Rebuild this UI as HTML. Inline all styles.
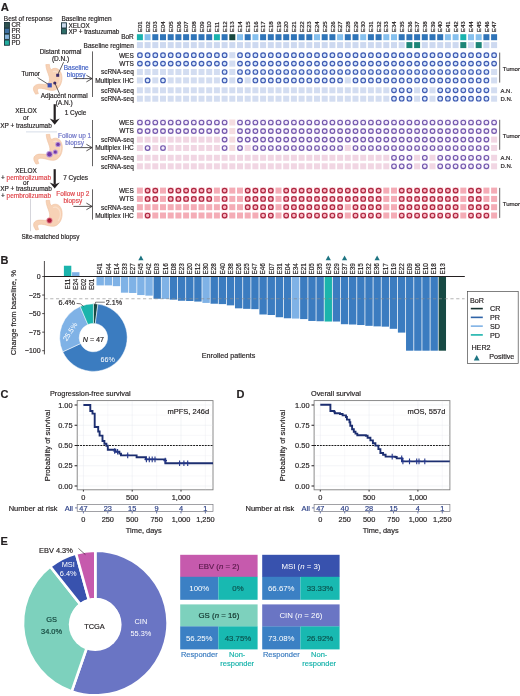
<!DOCTYPE html>
<html lang="en">
<head>
<meta charset="utf-8">
<title>Figure: study design, response, survival and TCGA subtypes</title>
<style>
html,body{margin:0;padding:0;background:#ffffff;}
body{width:520px;height:696px;overflow:hidden;}
svg{display:block;font-family:"Liberation Sans",sans-serif;fill:#231f20;}
svg text{stroke-width:0.18;}
#panelA text,#panelB text,#panelC text,#panelD text,#panelE text{stroke-linejoin:round;}
</style>
</head>
<body>
<svg width="520" height="696" viewBox="0 0 520 696">
<rect x="0" y="0" width="520" height="696" fill="#ffffff"/>
<g id="panelA">
<text x="0.80" y="10.70" font-size="11.3" stroke="#231f20" font-weight="bold">A</text>
<text x="3.80" y="20.60" font-size="6.5" stroke="#231f20">Best of response</text>
<rect x="4.5" y="22.50" width="4.9" height="5.2" fill="#2f524f" stroke="#17333b" stroke-width="0.9"/>
<text x="11.40" y="27.40" font-size="6.4" stroke="#231f20">CR</text>
<rect x="4.5" y="28.35" width="4.9" height="5.2" fill="#3f71a3" stroke="#17333b" stroke-width="0.9"/>
<text x="11.40" y="33.25" font-size="6.4" stroke="#231f20">PR</text>
<rect x="4.5" y="34.20" width="4.9" height="5.2" fill="#85b3dc" stroke="#17333b" stroke-width="0.9"/>
<text x="11.40" y="39.10" font-size="6.4" stroke="#231f20">SD</text>
<rect x="4.5" y="40.05" width="4.9" height="5.2" fill="#22ae9f" stroke="#17333b" stroke-width="0.9"/>
<text x="11.40" y="44.95" font-size="6.4" stroke="#231f20">PD</text>
<text x="61.40" y="20.60" font-size="6.5" stroke="#231f20">Baseline regimen</text>
<rect x="61.5" y="22.80" width="4.9" height="5.2" fill="#c9d8ea" stroke="#17333b" stroke-width="0.9"/>
<text x="68.50" y="27.70" font-size="6.4" stroke="#231f20">XELOX</text>
<rect x="61.5" y="28.65" width="4.9" height="5.2" fill="#2f6f69" stroke="#17333b" stroke-width="0.9"/>
<text x="68.50" y="33.55" font-size="6.4" stroke="#231f20">XP + trastuzumab</text>
<text x="142.10" y="32.20" font-size="6.15" stroke="#231f20" transform="rotate(-90 142.10 32.20)">E01</text>
<text x="149.80" y="32.20" font-size="6.15" stroke="#231f20" transform="rotate(-90 149.80 32.20)">E02</text>
<text x="157.50" y="32.20" font-size="6.15" stroke="#231f20" transform="rotate(-90 157.50 32.20)">E03</text>
<text x="165.20" y="32.20" font-size="6.15" stroke="#231f20" transform="rotate(-90 165.20 32.20)">E04</text>
<text x="172.90" y="32.20" font-size="6.15" stroke="#231f20" transform="rotate(-90 172.90 32.20)">E05</text>
<text x="180.60" y="32.20" font-size="6.15" stroke="#231f20" transform="rotate(-90 180.60 32.20)">E06</text>
<text x="188.30" y="32.20" font-size="6.15" stroke="#231f20" transform="rotate(-90 188.30 32.20)">E07</text>
<text x="196.00" y="32.20" font-size="6.15" stroke="#231f20" transform="rotate(-90 196.00 32.20)">E08</text>
<text x="203.70" y="32.20" font-size="6.15" stroke="#231f20" transform="rotate(-90 203.70 32.20)">E09</text>
<text x="211.40" y="32.20" font-size="6.15" stroke="#231f20" transform="rotate(-90 211.40 32.20)">E10</text>
<text x="219.10" y="32.20" font-size="6.15" stroke="#231f20" transform="rotate(-90 219.10 32.20)">E11</text>
<text x="226.80" y="32.20" font-size="6.15" stroke="#231f20" transform="rotate(-90 226.80 32.20)">E12</text>
<text x="234.50" y="32.20" font-size="6.15" stroke="#231f20" transform="rotate(-90 234.50 32.20)">E13</text>
<text x="242.20" y="32.20" font-size="6.15" stroke="#231f20" transform="rotate(-90 242.20 32.20)">E14</text>
<text x="249.90" y="32.20" font-size="6.15" stroke="#231f20" transform="rotate(-90 249.90 32.20)">E15</text>
<text x="257.60" y="32.20" font-size="6.15" stroke="#231f20" transform="rotate(-90 257.60 32.20)">E16</text>
<text x="265.30" y="32.20" font-size="6.15" stroke="#231f20" transform="rotate(-90 265.30 32.20)">E17</text>
<text x="273.00" y="32.20" font-size="6.15" stroke="#231f20" transform="rotate(-90 273.00 32.20)">E18</text>
<text x="280.70" y="32.20" font-size="6.15" stroke="#231f20" transform="rotate(-90 280.70 32.20)">E19</text>
<text x="288.40" y="32.20" font-size="6.15" stroke="#231f20" transform="rotate(-90 288.40 32.20)">E20</text>
<text x="296.10" y="32.20" font-size="6.15" stroke="#231f20" transform="rotate(-90 296.10 32.20)">E21</text>
<text x="303.80" y="32.20" font-size="6.15" stroke="#231f20" transform="rotate(-90 303.80 32.20)">E22</text>
<text x="311.50" y="32.20" font-size="6.15" stroke="#231f20" transform="rotate(-90 311.50 32.20)">E23</text>
<text x="319.20" y="32.20" font-size="6.15" stroke="#231f20" transform="rotate(-90 319.20 32.20)">E24</text>
<text x="326.90" y="32.20" font-size="6.15" stroke="#231f20" transform="rotate(-90 326.90 32.20)">E25</text>
<text x="334.60" y="32.20" font-size="6.15" stroke="#231f20" transform="rotate(-90 334.60 32.20)">E26</text>
<text x="342.30" y="32.20" font-size="6.15" stroke="#231f20" transform="rotate(-90 342.30 32.20)">E27</text>
<text x="350.00" y="32.20" font-size="6.15" stroke="#231f20" transform="rotate(-90 350.00 32.20)">E28</text>
<text x="357.70" y="32.20" font-size="6.15" stroke="#231f20" transform="rotate(-90 357.70 32.20)">E29</text>
<text x="365.40" y="32.20" font-size="6.15" stroke="#231f20" transform="rotate(-90 365.40 32.20)">E30</text>
<text x="373.10" y="32.20" font-size="6.15" stroke="#231f20" transform="rotate(-90 373.10 32.20)">E31</text>
<text x="380.80" y="32.20" font-size="6.15" stroke="#231f20" transform="rotate(-90 380.80 32.20)">E32</text>
<text x="388.50" y="32.20" font-size="6.15" stroke="#231f20" transform="rotate(-90 388.50 32.20)">E33</text>
<text x="396.20" y="32.20" font-size="6.15" stroke="#231f20" transform="rotate(-90 396.20 32.20)">E34</text>
<text x="403.90" y="32.20" font-size="6.15" stroke="#231f20" transform="rotate(-90 403.90 32.20)">E35</text>
<text x="411.60" y="32.20" font-size="6.15" stroke="#231f20" transform="rotate(-90 411.60 32.20)">E36</text>
<text x="419.30" y="32.20" font-size="6.15" stroke="#231f20" transform="rotate(-90 419.30 32.20)">E37</text>
<text x="427.00" y="32.20" font-size="6.15" stroke="#231f20" transform="rotate(-90 427.00 32.20)">E38</text>
<text x="434.70" y="32.20" font-size="6.15" stroke="#231f20" transform="rotate(-90 434.70 32.20)">E39</text>
<text x="442.40" y="32.20" font-size="6.15" stroke="#231f20" transform="rotate(-90 442.40 32.20)">E40</text>
<text x="450.10" y="32.20" font-size="6.15" stroke="#231f20" transform="rotate(-90 450.10 32.20)">E41</text>
<text x="457.80" y="32.20" font-size="6.15" stroke="#231f20" transform="rotate(-90 457.80 32.20)">E42</text>
<text x="465.50" y="32.20" font-size="6.15" stroke="#231f20" transform="rotate(-90 465.50 32.20)">E43</text>
<text x="473.20" y="32.20" font-size="6.15" stroke="#231f20" transform="rotate(-90 473.20 32.20)">E44</text>
<text x="480.90" y="32.20" font-size="6.15" stroke="#231f20" transform="rotate(-90 480.90 32.20)">E45</text>
<text x="488.60" y="32.20" font-size="6.15" stroke="#231f20" transform="rotate(-90 488.60 32.20)">E46</text>
<text x="496.30" y="32.20" font-size="6.15" stroke="#231f20" transform="rotate(-90 496.30 32.20)">E47</text>
<rect x="136.90" y="34.2" width="6.0" height="6.0" fill="#19b3ae"/>
<rect x="136.90" y="42.1" width="6.0" height="6.0" fill="#cdd9f0"/>
<rect x="144.60" y="34.2" width="6.0" height="6.0" fill="#86c0ee"/>
<rect x="144.60" y="42.1" width="6.0" height="6.0" fill="#cdd9f0"/>
<rect x="152.30" y="34.2" width="6.0" height="6.0" fill="#2f74b8"/>
<rect x="152.30" y="42.1" width="6.0" height="6.0" fill="#cdd9f0"/>
<rect x="160.00" y="34.2" width="6.0" height="6.0" fill="#2f74b8"/>
<rect x="160.00" y="42.1" width="6.0" height="6.0" fill="#cdd9f0"/>
<rect x="167.70" y="34.2" width="6.0" height="6.0" fill="#2f74b8"/>
<rect x="167.70" y="42.1" width="6.0" height="6.0" fill="#cdd9f0"/>
<rect x="175.40" y="34.2" width="6.0" height="6.0" fill="#2f74b8"/>
<rect x="175.40" y="42.1" width="6.0" height="6.0" fill="#cdd9f0"/>
<rect x="183.10" y="34.2" width="6.0" height="6.0" fill="#2f74b8"/>
<rect x="183.10" y="42.1" width="6.0" height="6.0" fill="#cdd9f0"/>
<rect x="190.80" y="34.2" width="6.0" height="6.0" fill="#2f74b8"/>
<rect x="190.80" y="42.1" width="6.0" height="6.0" fill="#cdd9f0"/>
<rect x="198.50" y="34.2" width="6.0" height="6.0" fill="#2f74b8"/>
<rect x="198.50" y="42.1" width="6.0" height="6.0" fill="#cdd9f0"/>
<rect x="206.20" y="34.2" width="6.0" height="6.0" fill="#2f74b8"/>
<rect x="206.20" y="42.1" width="6.0" height="6.0" fill="#cdd9f0"/>
<rect x="213.90" y="34.2" width="6.0" height="6.0" fill="#19b3ae"/>
<rect x="213.90" y="42.1" width="6.0" height="6.0" fill="#cdd9f0"/>
<rect x="221.60" y="34.2" width="6.0" height="6.0" fill="#2f74b8"/>
<rect x="221.60" y="42.1" width="6.0" height="6.0" fill="#cdd9f0"/>
<rect x="229.30" y="34.2" width="6.0" height="6.0" fill="#16473f"/>
<rect x="229.30" y="42.1" width="6.0" height="6.0" fill="#cdd9f0"/>
<rect x="237.00" y="34.2" width="6.0" height="6.0" fill="#86c0ee"/>
<rect x="237.00" y="42.1" width="6.0" height="6.0" fill="#cdd9f0"/>
<rect x="244.70" y="34.2" width="6.0" height="6.0" fill="#2f74b8"/>
<rect x="244.70" y="42.1" width="6.0" height="6.0" fill="#cdd9f0"/>
<rect x="252.40" y="34.2" width="6.0" height="6.0" fill="#86c0ee"/>
<rect x="252.40" y="42.1" width="6.0" height="6.0" fill="#cdd9f0"/>
<rect x="260.10" y="34.2" width="6.0" height="6.0" fill="#2f74b8"/>
<rect x="260.10" y="42.1" width="6.0" height="6.0" fill="#cdd9f0"/>
<rect x="267.80" y="34.2" width="6.0" height="6.0" fill="#2f74b8"/>
<rect x="267.80" y="42.1" width="6.0" height="6.0" fill="#cdd9f0"/>
<rect x="275.50" y="34.2" width="6.0" height="6.0" fill="#2f74b8"/>
<rect x="275.50" y="42.1" width="6.0" height="6.0" fill="#cdd9f0"/>
<rect x="283.20" y="34.2" width="6.0" height="6.0" fill="#2f74b8"/>
<rect x="283.20" y="42.1" width="6.0" height="6.0" fill="#cdd9f0"/>
<rect x="290.90" y="34.2" width="6.0" height="6.0" fill="#2f74b8"/>
<rect x="290.90" y="42.1" width="6.0" height="6.0" fill="#cdd9f0"/>
<rect x="298.60" y="34.2" width="6.0" height="6.0" fill="#2f74b8"/>
<rect x="298.60" y="42.1" width="6.0" height="6.0" fill="#cdd9f0"/>
<rect x="306.30" y="34.2" width="6.0" height="6.0" fill="#2f74b8"/>
<rect x="306.30" y="42.1" width="6.0" height="6.0" fill="#cdd9f0"/>
<rect x="314.00" y="34.2" width="6.0" height="6.0" fill="#86c0ee"/>
<rect x="314.00" y="42.1" width="6.0" height="6.0" fill="#cdd9f0"/>
<rect x="321.70" y="34.2" width="6.0" height="6.0" fill="#2f74b8"/>
<rect x="321.70" y="42.1" width="6.0" height="6.0" fill="#cdd9f0"/>
<rect x="329.40" y="34.2" width="6.0" height="6.0" fill="#2f74b8"/>
<rect x="329.40" y="42.1" width="6.0" height="6.0" fill="#cdd9f0"/>
<rect x="337.10" y="34.2" width="6.0" height="6.0" fill="#86c0ee"/>
<rect x="337.10" y="42.1" width="6.0" height="6.0" fill="#cdd9f0"/>
<rect x="344.80" y="34.2" width="6.0" height="6.0" fill="#2f74b8"/>
<rect x="344.80" y="42.1" width="6.0" height="6.0" fill="#cdd9f0"/>
<rect x="352.50" y="34.2" width="6.0" height="6.0" fill="#2f74b8"/>
<rect x="352.50" y="42.1" width="6.0" height="6.0" fill="#cdd9f0"/>
<rect x="360.20" y="34.2" width="6.0" height="6.0" fill="#86c0ee"/>
<rect x="360.20" y="42.1" width="6.0" height="6.0" fill="#cdd9f0"/>
<rect x="367.90" y="34.2" width="6.0" height="6.0" fill="#2f74b8"/>
<rect x="367.90" y="42.1" width="6.0" height="6.0" fill="#cdd9f0"/>
<rect x="375.60" y="34.2" width="6.0" height="6.0" fill="#2f74b8"/>
<rect x="375.60" y="42.1" width="6.0" height="6.0" fill="#cdd9f0"/>
<rect x="383.30" y="34.2" width="6.0" height="6.0" fill="#86c0ee"/>
<rect x="383.30" y="42.1" width="6.0" height="6.0" fill="#cdd9f0"/>
<rect x="391.00" y="34.2" width="6.0" height="6.0" fill="#86c0ee"/>
<rect x="391.00" y="42.1" width="6.0" height="6.0" fill="#cdd9f0"/>
<rect x="398.70" y="34.2" width="6.0" height="6.0" fill="#2f74b8"/>
<rect x="398.70" y="42.1" width="6.0" height="6.0" fill="#cdd9f0"/>
<rect x="406.40" y="34.2" width="6.0" height="6.0" fill="#2f74b8"/>
<rect x="406.40" y="42.1" width="6.0" height="6.0" fill="#1d8577"/>
<rect x="414.10" y="34.2" width="6.0" height="6.0" fill="#2f74b8"/>
<rect x="414.10" y="42.1" width="6.0" height="6.0" fill="#1d8577"/>
<rect x="421.80" y="34.2" width="6.0" height="6.0" fill="#2f74b8"/>
<rect x="421.80" y="42.1" width="6.0" height="6.0" fill="#cdd9f0"/>
<rect x="429.50" y="34.2" width="6.0" height="6.0" fill="#2f74b8"/>
<rect x="429.50" y="42.1" width="6.0" height="6.0" fill="#cdd9f0"/>
<rect x="437.20" y="34.2" width="6.0" height="6.0" fill="#2f74b8"/>
<rect x="437.20" y="42.1" width="6.0" height="6.0" fill="#cdd9f0"/>
<rect x="444.90" y="34.2" width="6.0" height="6.0" fill="#86c0ee"/>
<rect x="444.90" y="42.1" width="6.0" height="6.0" fill="#cdd9f0"/>
<rect x="452.60" y="34.2" width="6.0" height="6.0" fill="#86c0ee"/>
<rect x="452.60" y="42.1" width="6.0" height="6.0" fill="#cdd9f0"/>
<rect x="460.30" y="34.2" width="6.0" height="6.0" fill="#19b3ae"/>
<rect x="460.30" y="42.1" width="6.0" height="6.0" fill="#1d8577"/>
<rect x="468.00" y="34.2" width="6.0" height="6.0" fill="#86c0ee"/>
<rect x="468.00" y="42.1" width="6.0" height="6.0" fill="#cdd9f0"/>
<rect x="475.70" y="34.2" width="6.0" height="6.0" fill="#86c0ee"/>
<rect x="475.70" y="42.1" width="6.0" height="6.0" fill="#1d8577"/>
<rect x="483.40" y="34.2" width="6.0" height="6.0" fill="#2f74b8"/>
<rect x="483.40" y="42.1" width="6.0" height="6.0" fill="#cdd9f0"/>
<rect x="491.10" y="34.2" width="6.0" height="6.0" fill="#2f74b8"/>
<rect x="491.10" y="42.1" width="6.0" height="6.0" fill="#cdd9f0"/>
<text x="133.80" y="39.00" font-size="6.5" text-anchor="end" stroke="#231f20">BoR</text>
<text x="133.80" y="47.60" font-size="6.5" text-anchor="end" stroke="#231f20">Baseline regimen</text>
<rect x="136.90" y="52.20" width="6.0" height="6.0" fill="#eef3fc"/>
<circle cx="139.90" cy="55.20" r="2.3" fill="#d6e6fc" stroke="#405cb2" stroke-width="1.15"/>
<rect x="144.60" y="52.20" width="6.0" height="6.0" fill="#eef3fc"/>
<circle cx="147.60" cy="55.20" r="2.3" fill="#d6e6fc" stroke="#405cb2" stroke-width="1.15"/>
<rect x="152.30" y="52.20" width="6.0" height="6.0" fill="#eef3fc"/>
<circle cx="155.30" cy="55.20" r="2.3" fill="#d6e6fc" stroke="#405cb2" stroke-width="1.15"/>
<rect x="160.00" y="52.20" width="6.0" height="6.0" fill="#eef3fc"/>
<circle cx="163.00" cy="55.20" r="2.3" fill="#d6e6fc" stroke="#405cb2" stroke-width="1.15"/>
<rect x="167.70" y="52.20" width="6.0" height="6.0" fill="#eef3fc"/>
<circle cx="170.70" cy="55.20" r="2.3" fill="#d6e6fc" stroke="#405cb2" stroke-width="1.15"/>
<rect x="175.40" y="52.20" width="6.0" height="6.0" fill="#eef3fc"/>
<circle cx="178.40" cy="55.20" r="2.3" fill="#d6e6fc" stroke="#405cb2" stroke-width="1.15"/>
<rect x="183.10" y="52.20" width="6.0" height="6.0" fill="#eef3fc"/>
<circle cx="186.10" cy="55.20" r="2.3" fill="#d6e6fc" stroke="#405cb2" stroke-width="1.15"/>
<rect x="190.80" y="52.20" width="6.0" height="6.0" fill="#eef3fc"/>
<circle cx="193.80" cy="55.20" r="2.3" fill="#d6e6fc" stroke="#405cb2" stroke-width="1.15"/>
<rect x="198.50" y="52.20" width="6.0" height="6.0" fill="#eef3fc"/>
<circle cx="201.50" cy="55.20" r="2.3" fill="#d6e6fc" stroke="#405cb2" stroke-width="1.15"/>
<rect x="206.20" y="52.20" width="6.0" height="6.0" fill="#eef3fc"/>
<circle cx="209.20" cy="55.20" r="2.3" fill="#d6e6fc" stroke="#405cb2" stroke-width="1.15"/>
<rect x="213.90" y="52.20" width="6.0" height="6.0" fill="#eef3fc"/>
<circle cx="216.90" cy="55.20" r="2.3" fill="#d6e6fc" stroke="#405cb2" stroke-width="1.15"/>
<rect x="221.60" y="52.20" width="6.0" height="6.0" fill="#eef3fc"/>
<circle cx="224.60" cy="55.20" r="2.3" fill="#d6e6fc" stroke="#405cb2" stroke-width="1.15"/>
<rect x="229.30" y="52.20" width="6.0" height="6.0" fill="#d3ddf1"/>
<rect x="237.00" y="52.20" width="6.0" height="6.0" fill="#eef3fc"/>
<circle cx="240.00" cy="55.20" r="2.3" fill="#d6e6fc" stroke="#405cb2" stroke-width="1.15"/>
<rect x="244.70" y="52.20" width="6.0" height="6.0" fill="#eef3fc"/>
<circle cx="247.70" cy="55.20" r="2.3" fill="#d6e6fc" stroke="#405cb2" stroke-width="1.15"/>
<rect x="252.40" y="52.20" width="6.0" height="6.0" fill="#eef3fc"/>
<circle cx="255.40" cy="55.20" r="2.3" fill="#d6e6fc" stroke="#405cb2" stroke-width="1.15"/>
<rect x="260.10" y="52.20" width="6.0" height="6.0" fill="#eef3fc"/>
<circle cx="263.10" cy="55.20" r="2.3" fill="#d6e6fc" stroke="#405cb2" stroke-width="1.15"/>
<rect x="267.80" y="52.20" width="6.0" height="6.0" fill="#eef3fc"/>
<circle cx="270.80" cy="55.20" r="2.3" fill="#d6e6fc" stroke="#405cb2" stroke-width="1.15"/>
<rect x="275.50" y="52.20" width="6.0" height="6.0" fill="#eef3fc"/>
<circle cx="278.50" cy="55.20" r="2.3" fill="#d6e6fc" stroke="#405cb2" stroke-width="1.15"/>
<rect x="283.20" y="52.20" width="6.0" height="6.0" fill="#eef3fc"/>
<circle cx="286.20" cy="55.20" r="2.3" fill="#d6e6fc" stroke="#405cb2" stroke-width="1.15"/>
<rect x="290.90" y="52.20" width="6.0" height="6.0" fill="#eef3fc"/>
<circle cx="293.90" cy="55.20" r="2.3" fill="#d6e6fc" stroke="#405cb2" stroke-width="1.15"/>
<rect x="298.60" y="52.20" width="6.0" height="6.0" fill="#eef3fc"/>
<circle cx="301.60" cy="55.20" r="2.3" fill="#d6e6fc" stroke="#405cb2" stroke-width="1.15"/>
<rect x="306.30" y="52.20" width="6.0" height="6.0" fill="#eef3fc"/>
<circle cx="309.30" cy="55.20" r="2.3" fill="#d6e6fc" stroke="#405cb2" stroke-width="1.15"/>
<rect x="314.00" y="52.20" width="6.0" height="6.0" fill="#eef3fc"/>
<circle cx="317.00" cy="55.20" r="2.3" fill="#d6e6fc" stroke="#405cb2" stroke-width="1.15"/>
<rect x="321.70" y="52.20" width="6.0" height="6.0" fill="#eef3fc"/>
<circle cx="324.70" cy="55.20" r="2.3" fill="#d6e6fc" stroke="#405cb2" stroke-width="1.15"/>
<rect x="329.40" y="52.20" width="6.0" height="6.0" fill="#eef3fc"/>
<circle cx="332.40" cy="55.20" r="2.3" fill="#d6e6fc" stroke="#405cb2" stroke-width="1.15"/>
<rect x="337.10" y="52.20" width="6.0" height="6.0" fill="#eef3fc"/>
<circle cx="340.10" cy="55.20" r="2.3" fill="#d6e6fc" stroke="#405cb2" stroke-width="1.15"/>
<rect x="344.80" y="52.20" width="6.0" height="6.0" fill="#eef3fc"/>
<circle cx="347.80" cy="55.20" r="2.3" fill="#d6e6fc" stroke="#405cb2" stroke-width="1.15"/>
<rect x="352.50" y="52.20" width="6.0" height="6.0" fill="#eef3fc"/>
<circle cx="355.50" cy="55.20" r="2.3" fill="#d6e6fc" stroke="#405cb2" stroke-width="1.15"/>
<rect x="360.20" y="52.20" width="6.0" height="6.0" fill="#eef3fc"/>
<circle cx="363.20" cy="55.20" r="2.3" fill="#d6e6fc" stroke="#405cb2" stroke-width="1.15"/>
<rect x="367.90" y="52.20" width="6.0" height="6.0" fill="#eef3fc"/>
<circle cx="370.90" cy="55.20" r="2.3" fill="#d6e6fc" stroke="#405cb2" stroke-width="1.15"/>
<rect x="375.60" y="52.20" width="6.0" height="6.0" fill="#eef3fc"/>
<circle cx="378.60" cy="55.20" r="2.3" fill="#d6e6fc" stroke="#405cb2" stroke-width="1.15"/>
<rect x="383.30" y="52.20" width="6.0" height="6.0" fill="#eef3fc"/>
<circle cx="386.30" cy="55.20" r="2.3" fill="#d6e6fc" stroke="#405cb2" stroke-width="1.15"/>
<rect x="391.00" y="52.20" width="6.0" height="6.0" fill="#eef3fc"/>
<circle cx="394.00" cy="55.20" r="2.3" fill="#d6e6fc" stroke="#405cb2" stroke-width="1.15"/>
<rect x="398.70" y="52.20" width="6.0" height="6.0" fill="#eef3fc"/>
<circle cx="401.70" cy="55.20" r="2.3" fill="#d6e6fc" stroke="#405cb2" stroke-width="1.15"/>
<rect x="406.40" y="52.20" width="6.0" height="6.0" fill="#eef3fc"/>
<circle cx="409.40" cy="55.20" r="2.3" fill="#d6e6fc" stroke="#405cb2" stroke-width="1.15"/>
<rect x="414.10" y="52.20" width="6.0" height="6.0" fill="#eef3fc"/>
<circle cx="417.10" cy="55.20" r="2.3" fill="#d6e6fc" stroke="#405cb2" stroke-width="1.15"/>
<rect x="421.80" y="52.20" width="6.0" height="6.0" fill="#eef3fc"/>
<circle cx="424.80" cy="55.20" r="2.3" fill="#d6e6fc" stroke="#405cb2" stroke-width="1.15"/>
<rect x="429.50" y="52.20" width="6.0" height="6.0" fill="#eef3fc"/>
<circle cx="432.50" cy="55.20" r="2.3" fill="#d6e6fc" stroke="#405cb2" stroke-width="1.15"/>
<rect x="437.20" y="52.20" width="6.0" height="6.0" fill="#eef3fc"/>
<circle cx="440.20" cy="55.20" r="2.3" fill="#d6e6fc" stroke="#405cb2" stroke-width="1.15"/>
<rect x="444.90" y="52.20" width="6.0" height="6.0" fill="#eef3fc"/>
<circle cx="447.90" cy="55.20" r="2.3" fill="#d6e6fc" stroke="#405cb2" stroke-width="1.15"/>
<rect x="452.60" y="52.20" width="6.0" height="6.0" fill="#eef3fc"/>
<circle cx="455.60" cy="55.20" r="2.3" fill="#d6e6fc" stroke="#405cb2" stroke-width="1.15"/>
<rect x="460.30" y="52.20" width="6.0" height="6.0" fill="#eef3fc"/>
<circle cx="463.30" cy="55.20" r="2.3" fill="#d6e6fc" stroke="#405cb2" stroke-width="1.15"/>
<rect x="468.00" y="52.20" width="6.0" height="6.0" fill="#eef3fc"/>
<circle cx="471.00" cy="55.20" r="2.3" fill="#d6e6fc" stroke="#405cb2" stroke-width="1.15"/>
<rect x="475.70" y="52.20" width="6.0" height="6.0" fill="#eef3fc"/>
<circle cx="478.70" cy="55.20" r="2.3" fill="#d6e6fc" stroke="#405cb2" stroke-width="1.15"/>
<rect x="483.40" y="52.20" width="6.0" height="6.0" fill="#eef3fc"/>
<circle cx="486.40" cy="55.20" r="2.3" fill="#d6e6fc" stroke="#405cb2" stroke-width="1.15"/>
<rect x="491.10" y="52.20" width="6.0" height="6.0" fill="#eef3fc"/>
<circle cx="494.10" cy="55.20" r="2.3" fill="#d6e6fc" stroke="#405cb2" stroke-width="1.15"/>
<text x="133.80" y="57.50" font-size="6.5" text-anchor="end" stroke="#231f20">WES</text>
<rect x="136.90" y="60.60" width="6.0" height="6.0" fill="#eef3fc"/>
<circle cx="139.90" cy="63.60" r="2.3" fill="#d6e6fc" stroke="#405cb2" stroke-width="1.15"/>
<rect x="144.60" y="60.60" width="6.0" height="6.0" fill="#eef3fc"/>
<circle cx="147.60" cy="63.60" r="2.3" fill="#d6e6fc" stroke="#405cb2" stroke-width="1.15"/>
<rect x="152.30" y="60.60" width="6.0" height="6.0" fill="#eef3fc"/>
<circle cx="155.30" cy="63.60" r="2.3" fill="#d6e6fc" stroke="#405cb2" stroke-width="1.15"/>
<rect x="160.00" y="60.60" width="6.0" height="6.0" fill="#eef3fc"/>
<circle cx="163.00" cy="63.60" r="2.3" fill="#d6e6fc" stroke="#405cb2" stroke-width="1.15"/>
<rect x="167.70" y="60.60" width="6.0" height="6.0" fill="#eef3fc"/>
<circle cx="170.70" cy="63.60" r="2.3" fill="#d6e6fc" stroke="#405cb2" stroke-width="1.15"/>
<rect x="175.40" y="60.60" width="6.0" height="6.0" fill="#eef3fc"/>
<circle cx="178.40" cy="63.60" r="2.3" fill="#d6e6fc" stroke="#405cb2" stroke-width="1.15"/>
<rect x="183.10" y="60.60" width="6.0" height="6.0" fill="#eef3fc"/>
<circle cx="186.10" cy="63.60" r="2.3" fill="#d6e6fc" stroke="#405cb2" stroke-width="1.15"/>
<rect x="190.80" y="60.60" width="6.0" height="6.0" fill="#eef3fc"/>
<circle cx="193.80" cy="63.60" r="2.3" fill="#d6e6fc" stroke="#405cb2" stroke-width="1.15"/>
<rect x="198.50" y="60.60" width="6.0" height="6.0" fill="#eef3fc"/>
<circle cx="201.50" cy="63.60" r="2.3" fill="#d6e6fc" stroke="#405cb2" stroke-width="1.15"/>
<rect x="206.20" y="60.60" width="6.0" height="6.0" fill="#eef3fc"/>
<circle cx="209.20" cy="63.60" r="2.3" fill="#d6e6fc" stroke="#405cb2" stroke-width="1.15"/>
<rect x="213.90" y="60.60" width="6.0" height="6.0" fill="#eef3fc"/>
<circle cx="216.90" cy="63.60" r="2.3" fill="#d6e6fc" stroke="#405cb2" stroke-width="1.15"/>
<rect x="221.60" y="60.60" width="6.0" height="6.0" fill="#eef3fc"/>
<circle cx="224.60" cy="63.60" r="2.3" fill="#d6e6fc" stroke="#405cb2" stroke-width="1.15"/>
<rect x="229.30" y="60.60" width="6.0" height="6.0" fill="#d3ddf1"/>
<rect x="237.00" y="60.60" width="6.0" height="6.0" fill="#eef3fc"/>
<circle cx="240.00" cy="63.60" r="2.3" fill="#d6e6fc" stroke="#405cb2" stroke-width="1.15"/>
<rect x="244.70" y="60.60" width="6.0" height="6.0" fill="#eef3fc"/>
<circle cx="247.70" cy="63.60" r="2.3" fill="#d6e6fc" stroke="#405cb2" stroke-width="1.15"/>
<rect x="252.40" y="60.60" width="6.0" height="6.0" fill="#eef3fc"/>
<circle cx="255.40" cy="63.60" r="2.3" fill="#d6e6fc" stroke="#405cb2" stroke-width="1.15"/>
<rect x="260.10" y="60.60" width="6.0" height="6.0" fill="#eef3fc"/>
<circle cx="263.10" cy="63.60" r="2.3" fill="#d6e6fc" stroke="#405cb2" stroke-width="1.15"/>
<rect x="267.80" y="60.60" width="6.0" height="6.0" fill="#eef3fc"/>
<circle cx="270.80" cy="63.60" r="2.3" fill="#d6e6fc" stroke="#405cb2" stroke-width="1.15"/>
<rect x="275.50" y="60.60" width="6.0" height="6.0" fill="#eef3fc"/>
<circle cx="278.50" cy="63.60" r="2.3" fill="#d6e6fc" stroke="#405cb2" stroke-width="1.15"/>
<rect x="283.20" y="60.60" width="6.0" height="6.0" fill="#eef3fc"/>
<circle cx="286.20" cy="63.60" r="2.3" fill="#d6e6fc" stroke="#405cb2" stroke-width="1.15"/>
<rect x="290.90" y="60.60" width="6.0" height="6.0" fill="#eef3fc"/>
<circle cx="293.90" cy="63.60" r="2.3" fill="#d6e6fc" stroke="#405cb2" stroke-width="1.15"/>
<rect x="298.60" y="60.60" width="6.0" height="6.0" fill="#eef3fc"/>
<circle cx="301.60" cy="63.60" r="2.3" fill="#d6e6fc" stroke="#405cb2" stroke-width="1.15"/>
<rect x="306.30" y="60.60" width="6.0" height="6.0" fill="#eef3fc"/>
<circle cx="309.30" cy="63.60" r="2.3" fill="#d6e6fc" stroke="#405cb2" stroke-width="1.15"/>
<rect x="314.00" y="60.60" width="6.0" height="6.0" fill="#eef3fc"/>
<circle cx="317.00" cy="63.60" r="2.3" fill="#d6e6fc" stroke="#405cb2" stroke-width="1.15"/>
<rect x="321.70" y="60.60" width="6.0" height="6.0" fill="#eef3fc"/>
<circle cx="324.70" cy="63.60" r="2.3" fill="#d6e6fc" stroke="#405cb2" stroke-width="1.15"/>
<rect x="329.40" y="60.60" width="6.0" height="6.0" fill="#eef3fc"/>
<circle cx="332.40" cy="63.60" r="2.3" fill="#d6e6fc" stroke="#405cb2" stroke-width="1.15"/>
<rect x="337.10" y="60.60" width="6.0" height="6.0" fill="#eef3fc"/>
<circle cx="340.10" cy="63.60" r="2.3" fill="#d6e6fc" stroke="#405cb2" stroke-width="1.15"/>
<rect x="344.80" y="60.60" width="6.0" height="6.0" fill="#eef3fc"/>
<circle cx="347.80" cy="63.60" r="2.3" fill="#d6e6fc" stroke="#405cb2" stroke-width="1.15"/>
<rect x="352.50" y="60.60" width="6.0" height="6.0" fill="#eef3fc"/>
<circle cx="355.50" cy="63.60" r="2.3" fill="#d6e6fc" stroke="#405cb2" stroke-width="1.15"/>
<rect x="360.20" y="60.60" width="6.0" height="6.0" fill="#eef3fc"/>
<circle cx="363.20" cy="63.60" r="2.3" fill="#d6e6fc" stroke="#405cb2" stroke-width="1.15"/>
<rect x="367.90" y="60.60" width="6.0" height="6.0" fill="#eef3fc"/>
<circle cx="370.90" cy="63.60" r="2.3" fill="#d6e6fc" stroke="#405cb2" stroke-width="1.15"/>
<rect x="375.60" y="60.60" width="6.0" height="6.0" fill="#eef3fc"/>
<circle cx="378.60" cy="63.60" r="2.3" fill="#d6e6fc" stroke="#405cb2" stroke-width="1.15"/>
<rect x="383.30" y="60.60" width="6.0" height="6.0" fill="#eef3fc"/>
<circle cx="386.30" cy="63.60" r="2.3" fill="#d6e6fc" stroke="#405cb2" stroke-width="1.15"/>
<rect x="391.00" y="60.60" width="6.0" height="6.0" fill="#eef3fc"/>
<circle cx="394.00" cy="63.60" r="2.3" fill="#d6e6fc" stroke="#405cb2" stroke-width="1.15"/>
<rect x="398.70" y="60.60" width="6.0" height="6.0" fill="#eef3fc"/>
<circle cx="401.70" cy="63.60" r="2.3" fill="#d6e6fc" stroke="#405cb2" stroke-width="1.15"/>
<rect x="406.40" y="60.60" width="6.0" height="6.0" fill="#eef3fc"/>
<circle cx="409.40" cy="63.60" r="2.3" fill="#d6e6fc" stroke="#405cb2" stroke-width="1.15"/>
<rect x="414.10" y="60.60" width="6.0" height="6.0" fill="#eef3fc"/>
<circle cx="417.10" cy="63.60" r="2.3" fill="#d6e6fc" stroke="#405cb2" stroke-width="1.15"/>
<rect x="421.80" y="60.60" width="6.0" height="6.0" fill="#eef3fc"/>
<circle cx="424.80" cy="63.60" r="2.3" fill="#d6e6fc" stroke="#405cb2" stroke-width="1.15"/>
<rect x="429.50" y="60.60" width="6.0" height="6.0" fill="#eef3fc"/>
<circle cx="432.50" cy="63.60" r="2.3" fill="#d6e6fc" stroke="#405cb2" stroke-width="1.15"/>
<rect x="437.20" y="60.60" width="6.0" height="6.0" fill="#eef3fc"/>
<circle cx="440.20" cy="63.60" r="2.3" fill="#d6e6fc" stroke="#405cb2" stroke-width="1.15"/>
<rect x="444.90" y="60.60" width="6.0" height="6.0" fill="#eef3fc"/>
<circle cx="447.90" cy="63.60" r="2.3" fill="#d6e6fc" stroke="#405cb2" stroke-width="1.15"/>
<rect x="452.60" y="60.60" width="6.0" height="6.0" fill="#eef3fc"/>
<circle cx="455.60" cy="63.60" r="2.3" fill="#d6e6fc" stroke="#405cb2" stroke-width="1.15"/>
<rect x="460.30" y="60.60" width="6.0" height="6.0" fill="#eef3fc"/>
<circle cx="463.30" cy="63.60" r="2.3" fill="#d6e6fc" stroke="#405cb2" stroke-width="1.15"/>
<rect x="468.00" y="60.60" width="6.0" height="6.0" fill="#eef3fc"/>
<circle cx="471.00" cy="63.60" r="2.3" fill="#d6e6fc" stroke="#405cb2" stroke-width="1.15"/>
<rect x="475.70" y="60.60" width="6.0" height="6.0" fill="#eef3fc"/>
<circle cx="478.70" cy="63.60" r="2.3" fill="#d6e6fc" stroke="#405cb2" stroke-width="1.15"/>
<rect x="483.40" y="60.60" width="6.0" height="6.0" fill="#eef3fc"/>
<circle cx="486.40" cy="63.60" r="2.3" fill="#d6e6fc" stroke="#405cb2" stroke-width="1.15"/>
<rect x="491.10" y="60.60" width="6.0" height="6.0" fill="#eef3fc"/>
<circle cx="494.10" cy="63.60" r="2.3" fill="#d6e6fc" stroke="#405cb2" stroke-width="1.15"/>
<text x="133.80" y="65.90" font-size="6.5" text-anchor="end" stroke="#231f20">WTS</text>
<rect x="136.90" y="69.00" width="6.0" height="6.0" fill="#d3ddf1"/>
<rect x="144.60" y="69.00" width="6.0" height="6.0" fill="#d3ddf1"/>
<rect x="152.30" y="69.00" width="6.0" height="6.0" fill="#d3ddf1"/>
<rect x="160.00" y="69.00" width="6.0" height="6.0" fill="#d3ddf1"/>
<rect x="167.70" y="69.00" width="6.0" height="6.0" fill="#d3ddf1"/>
<rect x="175.40" y="69.00" width="6.0" height="6.0" fill="#d3ddf1"/>
<rect x="183.10" y="69.00" width="6.0" height="6.0" fill="#d3ddf1"/>
<rect x="190.80" y="69.00" width="6.0" height="6.0" fill="#d3ddf1"/>
<rect x="198.50" y="69.00" width="6.0" height="6.0" fill="#d3ddf1"/>
<rect x="206.20" y="69.00" width="6.0" height="6.0" fill="#d3ddf1"/>
<rect x="213.90" y="69.00" width="6.0" height="6.0" fill="#d3ddf1"/>
<rect x="221.60" y="69.00" width="6.0" height="6.0" fill="#eef3fc"/>
<circle cx="224.60" cy="72.00" r="2.3" fill="#d6e6fc" stroke="#405cb2" stroke-width="1.15"/>
<rect x="229.30" y="69.00" width="6.0" height="6.0" fill="#d3ddf1"/>
<rect x="237.00" y="69.00" width="6.0" height="6.0" fill="#eef3fc"/>
<circle cx="240.00" cy="72.00" r="2.3" fill="#d6e6fc" stroke="#405cb2" stroke-width="1.15"/>
<rect x="244.70" y="69.00" width="6.0" height="6.0" fill="#eef3fc"/>
<circle cx="247.70" cy="72.00" r="2.3" fill="#d6e6fc" stroke="#405cb2" stroke-width="1.15"/>
<rect x="252.40" y="69.00" width="6.0" height="6.0" fill="#eef3fc"/>
<circle cx="255.40" cy="72.00" r="2.3" fill="#d6e6fc" stroke="#405cb2" stroke-width="1.15"/>
<rect x="260.10" y="69.00" width="6.0" height="6.0" fill="#eef3fc"/>
<circle cx="263.10" cy="72.00" r="2.3" fill="#d6e6fc" stroke="#405cb2" stroke-width="1.15"/>
<rect x="267.80" y="69.00" width="6.0" height="6.0" fill="#eef3fc"/>
<circle cx="270.80" cy="72.00" r="2.3" fill="#d6e6fc" stroke="#405cb2" stroke-width="1.15"/>
<rect x="275.50" y="69.00" width="6.0" height="6.0" fill="#eef3fc"/>
<circle cx="278.50" cy="72.00" r="2.3" fill="#d6e6fc" stroke="#405cb2" stroke-width="1.15"/>
<rect x="283.20" y="69.00" width="6.0" height="6.0" fill="#eef3fc"/>
<circle cx="286.20" cy="72.00" r="2.3" fill="#d6e6fc" stroke="#405cb2" stroke-width="1.15"/>
<rect x="290.90" y="69.00" width="6.0" height="6.0" fill="#eef3fc"/>
<circle cx="293.90" cy="72.00" r="2.3" fill="#d6e6fc" stroke="#405cb2" stroke-width="1.15"/>
<rect x="298.60" y="69.00" width="6.0" height="6.0" fill="#eef3fc"/>
<circle cx="301.60" cy="72.00" r="2.3" fill="#d6e6fc" stroke="#405cb2" stroke-width="1.15"/>
<rect x="306.30" y="69.00" width="6.0" height="6.0" fill="#eef3fc"/>
<circle cx="309.30" cy="72.00" r="2.3" fill="#d6e6fc" stroke="#405cb2" stroke-width="1.15"/>
<rect x="314.00" y="69.00" width="6.0" height="6.0" fill="#eef3fc"/>
<circle cx="317.00" cy="72.00" r="2.3" fill="#d6e6fc" stroke="#405cb2" stroke-width="1.15"/>
<rect x="321.70" y="69.00" width="6.0" height="6.0" fill="#eef3fc"/>
<circle cx="324.70" cy="72.00" r="2.3" fill="#d6e6fc" stroke="#405cb2" stroke-width="1.15"/>
<rect x="329.40" y="69.00" width="6.0" height="6.0" fill="#eef3fc"/>
<circle cx="332.40" cy="72.00" r="2.3" fill="#d6e6fc" stroke="#405cb2" stroke-width="1.15"/>
<rect x="337.10" y="69.00" width="6.0" height="6.0" fill="#eef3fc"/>
<circle cx="340.10" cy="72.00" r="2.3" fill="#d6e6fc" stroke="#405cb2" stroke-width="1.15"/>
<rect x="344.80" y="69.00" width="6.0" height="6.0" fill="#eef3fc"/>
<circle cx="347.80" cy="72.00" r="2.3" fill="#d6e6fc" stroke="#405cb2" stroke-width="1.15"/>
<rect x="352.50" y="69.00" width="6.0" height="6.0" fill="#eef3fc"/>
<circle cx="355.50" cy="72.00" r="2.3" fill="#d6e6fc" stroke="#405cb2" stroke-width="1.15"/>
<rect x="360.20" y="69.00" width="6.0" height="6.0" fill="#eef3fc"/>
<circle cx="363.20" cy="72.00" r="2.3" fill="#d6e6fc" stroke="#405cb2" stroke-width="1.15"/>
<rect x="367.90" y="69.00" width="6.0" height="6.0" fill="#eef3fc"/>
<circle cx="370.90" cy="72.00" r="2.3" fill="#d6e6fc" stroke="#405cb2" stroke-width="1.15"/>
<rect x="375.60" y="69.00" width="6.0" height="6.0" fill="#eef3fc"/>
<circle cx="378.60" cy="72.00" r="2.3" fill="#d6e6fc" stroke="#405cb2" stroke-width="1.15"/>
<rect x="383.30" y="69.00" width="6.0" height="6.0" fill="#eef3fc"/>
<circle cx="386.30" cy="72.00" r="2.3" fill="#d6e6fc" stroke="#405cb2" stroke-width="1.15"/>
<rect x="391.00" y="69.00" width="6.0" height="6.0" fill="#eef3fc"/>
<circle cx="394.00" cy="72.00" r="2.3" fill="#d6e6fc" stroke="#405cb2" stroke-width="1.15"/>
<rect x="398.70" y="69.00" width="6.0" height="6.0" fill="#eef3fc"/>
<circle cx="401.70" cy="72.00" r="2.3" fill="#d6e6fc" stroke="#405cb2" stroke-width="1.15"/>
<rect x="406.40" y="69.00" width="6.0" height="6.0" fill="#eef3fc"/>
<circle cx="409.40" cy="72.00" r="2.3" fill="#d6e6fc" stroke="#405cb2" stroke-width="1.15"/>
<rect x="414.10" y="69.00" width="6.0" height="6.0" fill="#eef3fc"/>
<circle cx="417.10" cy="72.00" r="2.3" fill="#d6e6fc" stroke="#405cb2" stroke-width="1.15"/>
<rect x="421.80" y="69.00" width="6.0" height="6.0" fill="#eef3fc"/>
<circle cx="424.80" cy="72.00" r="2.3" fill="#d6e6fc" stroke="#405cb2" stroke-width="1.15"/>
<rect x="429.50" y="69.00" width="6.0" height="6.0" fill="#eef3fc"/>
<circle cx="432.50" cy="72.00" r="2.3" fill="#d6e6fc" stroke="#405cb2" stroke-width="1.15"/>
<rect x="437.20" y="69.00" width="6.0" height="6.0" fill="#eef3fc"/>
<circle cx="440.20" cy="72.00" r="2.3" fill="#d6e6fc" stroke="#405cb2" stroke-width="1.15"/>
<rect x="444.90" y="69.00" width="6.0" height="6.0" fill="#eef3fc"/>
<circle cx="447.90" cy="72.00" r="2.3" fill="#d6e6fc" stroke="#405cb2" stroke-width="1.15"/>
<rect x="452.60" y="69.00" width="6.0" height="6.0" fill="#eef3fc"/>
<circle cx="455.60" cy="72.00" r="2.3" fill="#d6e6fc" stroke="#405cb2" stroke-width="1.15"/>
<rect x="460.30" y="69.00" width="6.0" height="6.0" fill="#eef3fc"/>
<circle cx="463.30" cy="72.00" r="2.3" fill="#d6e6fc" stroke="#405cb2" stroke-width="1.15"/>
<rect x="468.00" y="69.00" width="6.0" height="6.0" fill="#eef3fc"/>
<circle cx="471.00" cy="72.00" r="2.3" fill="#d6e6fc" stroke="#405cb2" stroke-width="1.15"/>
<rect x="475.70" y="69.00" width="6.0" height="6.0" fill="#eef3fc"/>
<circle cx="478.70" cy="72.00" r="2.3" fill="#d6e6fc" stroke="#405cb2" stroke-width="1.15"/>
<rect x="483.40" y="69.00" width="6.0" height="6.0" fill="#eef3fc"/>
<circle cx="486.40" cy="72.00" r="2.3" fill="#d6e6fc" stroke="#405cb2" stroke-width="1.15"/>
<rect x="491.10" y="69.00" width="6.0" height="6.0" fill="#d3ddf1"/>
<text x="133.80" y="74.30" font-size="6.5" text-anchor="end" stroke="#231f20">scRNA-seq</text>
<rect x="136.90" y="77.40" width="6.0" height="6.0" fill="#d3ddf1"/>
<rect x="144.60" y="77.40" width="6.0" height="6.0" fill="#eef3fc"/>
<circle cx="147.60" cy="80.40" r="2.3" fill="#d6e6fc" stroke="#405cb2" stroke-width="1.15"/>
<rect x="152.30" y="77.40" width="6.0" height="6.0" fill="#d3ddf1"/>
<rect x="160.00" y="77.40" width="6.0" height="6.0" fill="#eef3fc"/>
<circle cx="163.00" cy="80.40" r="2.3" fill="#d6e6fc" stroke="#405cb2" stroke-width="1.15"/>
<rect x="167.70" y="77.40" width="6.0" height="6.0" fill="#d3ddf1"/>
<rect x="175.40" y="77.40" width="6.0" height="6.0" fill="#d3ddf1"/>
<rect x="183.10" y="77.40" width="6.0" height="6.0" fill="#d3ddf1"/>
<rect x="190.80" y="77.40" width="6.0" height="6.0" fill="#d3ddf1"/>
<rect x="198.50" y="77.40" width="6.0" height="6.0" fill="#d3ddf1"/>
<rect x="206.20" y="77.40" width="6.0" height="6.0" fill="#d3ddf1"/>
<rect x="213.90" y="77.40" width="6.0" height="6.0" fill="#d3ddf1"/>
<rect x="221.60" y="77.40" width="6.0" height="6.0" fill="#eef3fc"/>
<circle cx="224.60" cy="80.40" r="2.3" fill="#d6e6fc" stroke="#405cb2" stroke-width="1.15"/>
<rect x="229.30" y="77.40" width="6.0" height="6.0" fill="#d3ddf1"/>
<rect x="237.00" y="77.40" width="6.0" height="6.0" fill="#eef3fc"/>
<circle cx="240.00" cy="80.40" r="2.3" fill="#d6e6fc" stroke="#405cb2" stroke-width="1.15"/>
<rect x="244.70" y="77.40" width="6.0" height="6.0" fill="#d3ddf1"/>
<rect x="252.40" y="77.40" width="6.0" height="6.0" fill="#eef3fc"/>
<circle cx="255.40" cy="80.40" r="2.3" fill="#d6e6fc" stroke="#405cb2" stroke-width="1.15"/>
<rect x="260.10" y="77.40" width="6.0" height="6.0" fill="#eef3fc"/>
<circle cx="263.10" cy="80.40" r="2.3" fill="#d6e6fc" stroke="#405cb2" stroke-width="1.15"/>
<rect x="267.80" y="77.40" width="6.0" height="6.0" fill="#eef3fc"/>
<circle cx="270.80" cy="80.40" r="2.3" fill="#d6e6fc" stroke="#405cb2" stroke-width="1.15"/>
<rect x="275.50" y="77.40" width="6.0" height="6.0" fill="#eef3fc"/>
<circle cx="278.50" cy="80.40" r="2.3" fill="#d6e6fc" stroke="#405cb2" stroke-width="1.15"/>
<rect x="283.20" y="77.40" width="6.0" height="6.0" fill="#eef3fc"/>
<circle cx="286.20" cy="80.40" r="2.3" fill="#d6e6fc" stroke="#405cb2" stroke-width="1.15"/>
<rect x="290.90" y="77.40" width="6.0" height="6.0" fill="#eef3fc"/>
<circle cx="293.90" cy="80.40" r="2.3" fill="#d6e6fc" stroke="#405cb2" stroke-width="1.15"/>
<rect x="298.60" y="77.40" width="6.0" height="6.0" fill="#eef3fc"/>
<circle cx="301.60" cy="80.40" r="2.3" fill="#d6e6fc" stroke="#405cb2" stroke-width="1.15"/>
<rect x="306.30" y="77.40" width="6.0" height="6.0" fill="#eef3fc"/>
<circle cx="309.30" cy="80.40" r="2.3" fill="#d6e6fc" stroke="#405cb2" stroke-width="1.15"/>
<rect x="314.00" y="77.40" width="6.0" height="6.0" fill="#eef3fc"/>
<circle cx="317.00" cy="80.40" r="2.3" fill="#d6e6fc" stroke="#405cb2" stroke-width="1.15"/>
<rect x="321.70" y="77.40" width="6.0" height="6.0" fill="#eef3fc"/>
<circle cx="324.70" cy="80.40" r="2.3" fill="#d6e6fc" stroke="#405cb2" stroke-width="1.15"/>
<rect x="329.40" y="77.40" width="6.0" height="6.0" fill="#eef3fc"/>
<circle cx="332.40" cy="80.40" r="2.3" fill="#d6e6fc" stroke="#405cb2" stroke-width="1.15"/>
<rect x="337.10" y="77.40" width="6.0" height="6.0" fill="#eef3fc"/>
<circle cx="340.10" cy="80.40" r="2.3" fill="#d6e6fc" stroke="#405cb2" stroke-width="1.15"/>
<rect x="344.80" y="77.40" width="6.0" height="6.0" fill="#d3ddf1"/>
<rect x="352.50" y="77.40" width="6.0" height="6.0" fill="#eef3fc"/>
<circle cx="355.50" cy="80.40" r="2.3" fill="#d6e6fc" stroke="#405cb2" stroke-width="1.15"/>
<rect x="360.20" y="77.40" width="6.0" height="6.0" fill="#eef3fc"/>
<circle cx="363.20" cy="80.40" r="2.3" fill="#d6e6fc" stroke="#405cb2" stroke-width="1.15"/>
<rect x="367.90" y="77.40" width="6.0" height="6.0" fill="#eef3fc"/>
<circle cx="370.90" cy="80.40" r="2.3" fill="#d6e6fc" stroke="#405cb2" stroke-width="1.15"/>
<rect x="375.60" y="77.40" width="6.0" height="6.0" fill="#eef3fc"/>
<circle cx="378.60" cy="80.40" r="2.3" fill="#d6e6fc" stroke="#405cb2" stroke-width="1.15"/>
<rect x="383.30" y="77.40" width="6.0" height="6.0" fill="#eef3fc"/>
<circle cx="386.30" cy="80.40" r="2.3" fill="#d6e6fc" stroke="#405cb2" stroke-width="1.15"/>
<rect x="391.00" y="77.40" width="6.0" height="6.0" fill="#eef3fc"/>
<circle cx="394.00" cy="80.40" r="2.3" fill="#d6e6fc" stroke="#405cb2" stroke-width="1.15"/>
<rect x="398.70" y="77.40" width="6.0" height="6.0" fill="#eef3fc"/>
<circle cx="401.70" cy="80.40" r="2.3" fill="#d6e6fc" stroke="#405cb2" stroke-width="1.15"/>
<rect x="406.40" y="77.40" width="6.0" height="6.0" fill="#eef3fc"/>
<circle cx="409.40" cy="80.40" r="2.3" fill="#d6e6fc" stroke="#405cb2" stroke-width="1.15"/>
<rect x="414.10" y="77.40" width="6.0" height="6.0" fill="#eef3fc"/>
<circle cx="417.10" cy="80.40" r="2.3" fill="#d6e6fc" stroke="#405cb2" stroke-width="1.15"/>
<rect x="421.80" y="77.40" width="6.0" height="6.0" fill="#eef3fc"/>
<circle cx="424.80" cy="80.40" r="2.3" fill="#d6e6fc" stroke="#405cb2" stroke-width="1.15"/>
<rect x="429.50" y="77.40" width="6.0" height="6.0" fill="#eef3fc"/>
<circle cx="432.50" cy="80.40" r="2.3" fill="#d6e6fc" stroke="#405cb2" stroke-width="1.15"/>
<rect x="437.20" y="77.40" width="6.0" height="6.0" fill="#eef3fc"/>
<circle cx="440.20" cy="80.40" r="2.3" fill="#d6e6fc" stroke="#405cb2" stroke-width="1.15"/>
<rect x="444.90" y="77.40" width="6.0" height="6.0" fill="#eef3fc"/>
<circle cx="447.90" cy="80.40" r="2.3" fill="#d6e6fc" stroke="#405cb2" stroke-width="1.15"/>
<rect x="452.60" y="77.40" width="6.0" height="6.0" fill="#eef3fc"/>
<circle cx="455.60" cy="80.40" r="2.3" fill="#d6e6fc" stroke="#405cb2" stroke-width="1.15"/>
<rect x="460.30" y="77.40" width="6.0" height="6.0" fill="#eef3fc"/>
<circle cx="463.30" cy="80.40" r="2.3" fill="#d6e6fc" stroke="#405cb2" stroke-width="1.15"/>
<rect x="468.00" y="77.40" width="6.0" height="6.0" fill="#eef3fc"/>
<circle cx="471.00" cy="80.40" r="2.3" fill="#d6e6fc" stroke="#405cb2" stroke-width="1.15"/>
<rect x="475.70" y="77.40" width="6.0" height="6.0" fill="#eef3fc"/>
<circle cx="478.70" cy="80.40" r="2.3" fill="#d6e6fc" stroke="#405cb2" stroke-width="1.15"/>
<rect x="483.40" y="77.40" width="6.0" height="6.0" fill="#eef3fc"/>
<circle cx="486.40" cy="80.40" r="2.3" fill="#d6e6fc" stroke="#405cb2" stroke-width="1.15"/>
<rect x="491.10" y="77.40" width="6.0" height="6.0" fill="#d3ddf1"/>
<text x="133.80" y="82.70" font-size="6.5" text-anchor="end" stroke="#231f20">Multiplex IHC</text>
<rect x="136.90" y="87.30" width="6.0" height="6.0" fill="#d3ddf1"/>
<rect x="144.60" y="87.30" width="6.0" height="6.0" fill="#d3ddf1"/>
<rect x="152.30" y="87.30" width="6.0" height="6.0" fill="#d3ddf1"/>
<rect x="160.00" y="87.30" width="6.0" height="6.0" fill="#d3ddf1"/>
<rect x="167.70" y="87.30" width="6.0" height="6.0" fill="#d3ddf1"/>
<rect x="175.40" y="87.30" width="6.0" height="6.0" fill="#d3ddf1"/>
<rect x="183.10" y="87.30" width="6.0" height="6.0" fill="#d3ddf1"/>
<rect x="190.80" y="87.30" width="6.0" height="6.0" fill="#d3ddf1"/>
<rect x="198.50" y="87.30" width="6.0" height="6.0" fill="#d3ddf1"/>
<rect x="206.20" y="87.30" width="6.0" height="6.0" fill="#d3ddf1"/>
<rect x="213.90" y="87.30" width="6.0" height="6.0" fill="#d3ddf1"/>
<rect x="221.60" y="87.30" width="6.0" height="6.0" fill="#d3ddf1"/>
<rect x="229.30" y="87.30" width="6.0" height="6.0" fill="#d3ddf1"/>
<rect x="237.00" y="87.30" width="6.0" height="6.0" fill="#d3ddf1"/>
<rect x="244.70" y="87.30" width="6.0" height="6.0" fill="#d3ddf1"/>
<rect x="252.40" y="87.30" width="6.0" height="6.0" fill="#d3ddf1"/>
<rect x="260.10" y="87.30" width="6.0" height="6.0" fill="#d3ddf1"/>
<rect x="267.80" y="87.30" width="6.0" height="6.0" fill="#d3ddf1"/>
<rect x="275.50" y="87.30" width="6.0" height="6.0" fill="#d3ddf1"/>
<rect x="283.20" y="87.30" width="6.0" height="6.0" fill="#d3ddf1"/>
<rect x="290.90" y="87.30" width="6.0" height="6.0" fill="#d3ddf1"/>
<rect x="298.60" y="87.30" width="6.0" height="6.0" fill="#d3ddf1"/>
<rect x="306.30" y="87.30" width="6.0" height="6.0" fill="#d3ddf1"/>
<rect x="314.00" y="87.30" width="6.0" height="6.0" fill="#d3ddf1"/>
<rect x="321.70" y="87.30" width="6.0" height="6.0" fill="#d3ddf1"/>
<rect x="329.40" y="87.30" width="6.0" height="6.0" fill="#d3ddf1"/>
<rect x="337.10" y="87.30" width="6.0" height="6.0" fill="#d3ddf1"/>
<rect x="344.80" y="87.30" width="6.0" height="6.0" fill="#d3ddf1"/>
<rect x="352.50" y="87.30" width="6.0" height="6.0" fill="#d3ddf1"/>
<rect x="360.20" y="87.30" width="6.0" height="6.0" fill="#d3ddf1"/>
<rect x="367.90" y="87.30" width="6.0" height="6.0" fill="#d3ddf1"/>
<rect x="375.60" y="87.30" width="6.0" height="6.0" fill="#d3ddf1"/>
<rect x="383.30" y="87.30" width="6.0" height="6.0" fill="#d3ddf1"/>
<rect x="391.00" y="87.30" width="6.0" height="6.0" fill="#eef3fc"/>
<circle cx="394.00" cy="90.30" r="2.3" fill="#d6e6fc" stroke="#405cb2" stroke-width="1.15"/>
<rect x="398.70" y="87.30" width="6.0" height="6.0" fill="#eef3fc"/>
<circle cx="401.70" cy="90.30" r="2.3" fill="#d6e6fc" stroke="#405cb2" stroke-width="1.15"/>
<rect x="406.40" y="87.30" width="6.0" height="6.0" fill="#eef3fc"/>
<circle cx="409.40" cy="90.30" r="2.3" fill="#d6e6fc" stroke="#405cb2" stroke-width="1.15"/>
<rect x="414.10" y="87.30" width="6.0" height="6.0" fill="#d3ddf1"/>
<rect x="421.80" y="87.30" width="6.0" height="6.0" fill="#eef3fc"/>
<circle cx="424.80" cy="90.30" r="2.3" fill="#d6e6fc" stroke="#405cb2" stroke-width="1.15"/>
<rect x="429.50" y="87.30" width="6.0" height="6.0" fill="#d3ddf1"/>
<rect x="437.20" y="87.30" width="6.0" height="6.0" fill="#eef3fc"/>
<circle cx="440.20" cy="90.30" r="2.3" fill="#d6e6fc" stroke="#405cb2" stroke-width="1.15"/>
<rect x="444.90" y="87.30" width="6.0" height="6.0" fill="#eef3fc"/>
<circle cx="447.90" cy="90.30" r="2.3" fill="#d6e6fc" stroke="#405cb2" stroke-width="1.15"/>
<rect x="452.60" y="87.30" width="6.0" height="6.0" fill="#eef3fc"/>
<circle cx="455.60" cy="90.30" r="2.3" fill="#d6e6fc" stroke="#405cb2" stroke-width="1.15"/>
<rect x="460.30" y="87.30" width="6.0" height="6.0" fill="#eef3fc"/>
<circle cx="463.30" cy="90.30" r="2.3" fill="#d6e6fc" stroke="#405cb2" stroke-width="1.15"/>
<rect x="468.00" y="87.30" width="6.0" height="6.0" fill="#eef3fc"/>
<circle cx="471.00" cy="90.30" r="2.3" fill="#d6e6fc" stroke="#405cb2" stroke-width="1.15"/>
<rect x="475.70" y="87.30" width="6.0" height="6.0" fill="#eef3fc"/>
<circle cx="478.70" cy="90.30" r="2.3" fill="#d6e6fc" stroke="#405cb2" stroke-width="1.15"/>
<rect x="483.40" y="87.30" width="6.0" height="6.0" fill="#eef3fc"/>
<circle cx="486.40" cy="90.30" r="2.3" fill="#d6e6fc" stroke="#405cb2" stroke-width="1.15"/>
<rect x="491.10" y="87.30" width="6.0" height="6.0" fill="#d3ddf1"/>
<text x="133.80" y="92.60" font-size="6.5" text-anchor="end" stroke="#231f20">scRNA-seq</text>
<rect x="136.90" y="95.70" width="6.0" height="6.0" fill="#d3ddf1"/>
<rect x="144.60" y="95.70" width="6.0" height="6.0" fill="#d3ddf1"/>
<rect x="152.30" y="95.70" width="6.0" height="6.0" fill="#d3ddf1"/>
<rect x="160.00" y="95.70" width="6.0" height="6.0" fill="#d3ddf1"/>
<rect x="167.70" y="95.70" width="6.0" height="6.0" fill="#d3ddf1"/>
<rect x="175.40" y="95.70" width="6.0" height="6.0" fill="#d3ddf1"/>
<rect x="183.10" y="95.70" width="6.0" height="6.0" fill="#d3ddf1"/>
<rect x="190.80" y="95.70" width="6.0" height="6.0" fill="#d3ddf1"/>
<rect x="198.50" y="95.70" width="6.0" height="6.0" fill="#d3ddf1"/>
<rect x="206.20" y="95.70" width="6.0" height="6.0" fill="#d3ddf1"/>
<rect x="213.90" y="95.70" width="6.0" height="6.0" fill="#d3ddf1"/>
<rect x="221.60" y="95.70" width="6.0" height="6.0" fill="#d3ddf1"/>
<rect x="229.30" y="95.70" width="6.0" height="6.0" fill="#d3ddf1"/>
<rect x="237.00" y="95.70" width="6.0" height="6.0" fill="#d3ddf1"/>
<rect x="244.70" y="95.70" width="6.0" height="6.0" fill="#d3ddf1"/>
<rect x="252.40" y="95.70" width="6.0" height="6.0" fill="#d3ddf1"/>
<rect x="260.10" y="95.70" width="6.0" height="6.0" fill="#d3ddf1"/>
<rect x="267.80" y="95.70" width="6.0" height="6.0" fill="#d3ddf1"/>
<rect x="275.50" y="95.70" width="6.0" height="6.0" fill="#d3ddf1"/>
<rect x="283.20" y="95.70" width="6.0" height="6.0" fill="#d3ddf1"/>
<rect x="290.90" y="95.70" width="6.0" height="6.0" fill="#d3ddf1"/>
<rect x="298.60" y="95.70" width="6.0" height="6.0" fill="#d3ddf1"/>
<rect x="306.30" y="95.70" width="6.0" height="6.0" fill="#d3ddf1"/>
<rect x="314.00" y="95.70" width="6.0" height="6.0" fill="#d3ddf1"/>
<rect x="321.70" y="95.70" width="6.0" height="6.0" fill="#d3ddf1"/>
<rect x="329.40" y="95.70" width="6.0" height="6.0" fill="#d3ddf1"/>
<rect x="337.10" y="95.70" width="6.0" height="6.0" fill="#d3ddf1"/>
<rect x="344.80" y="95.70" width="6.0" height="6.0" fill="#d3ddf1"/>
<rect x="352.50" y="95.70" width="6.0" height="6.0" fill="#d3ddf1"/>
<rect x="360.20" y="95.70" width="6.0" height="6.0" fill="#d3ddf1"/>
<rect x="367.90" y="95.70" width="6.0" height="6.0" fill="#d3ddf1"/>
<rect x="375.60" y="95.70" width="6.0" height="6.0" fill="#d3ddf1"/>
<rect x="383.30" y="95.70" width="6.0" height="6.0" fill="#d3ddf1"/>
<rect x="391.00" y="95.70" width="6.0" height="6.0" fill="#eef3fc"/>
<circle cx="394.00" cy="98.70" r="2.3" fill="#d6e6fc" stroke="#405cb2" stroke-width="1.15"/>
<rect x="398.70" y="95.70" width="6.0" height="6.0" fill="#eef3fc"/>
<circle cx="401.70" cy="98.70" r="2.3" fill="#d6e6fc" stroke="#405cb2" stroke-width="1.15"/>
<rect x="406.40" y="95.70" width="6.0" height="6.0" fill="#eef3fc"/>
<circle cx="409.40" cy="98.70" r="2.3" fill="#d6e6fc" stroke="#405cb2" stroke-width="1.15"/>
<rect x="414.10" y="95.70" width="6.0" height="6.0" fill="#d3ddf1"/>
<rect x="421.80" y="95.70" width="6.0" height="6.0" fill="#eef3fc"/>
<circle cx="424.80" cy="98.70" r="2.3" fill="#d6e6fc" stroke="#405cb2" stroke-width="1.15"/>
<rect x="429.50" y="95.70" width="6.0" height="6.0" fill="#d3ddf1"/>
<rect x="437.20" y="95.70" width="6.0" height="6.0" fill="#eef3fc"/>
<circle cx="440.20" cy="98.70" r="2.3" fill="#d6e6fc" stroke="#405cb2" stroke-width="1.15"/>
<rect x="444.90" y="95.70" width="6.0" height="6.0" fill="#eef3fc"/>
<circle cx="447.90" cy="98.70" r="2.3" fill="#d6e6fc" stroke="#405cb2" stroke-width="1.15"/>
<rect x="452.60" y="95.70" width="6.0" height="6.0" fill="#eef3fc"/>
<circle cx="455.60" cy="98.70" r="2.3" fill="#d6e6fc" stroke="#405cb2" stroke-width="1.15"/>
<rect x="460.30" y="95.70" width="6.0" height="6.0" fill="#eef3fc"/>
<circle cx="463.30" cy="98.70" r="2.3" fill="#d6e6fc" stroke="#405cb2" stroke-width="1.15"/>
<rect x="468.00" y="95.70" width="6.0" height="6.0" fill="#eef3fc"/>
<circle cx="471.00" cy="98.70" r="2.3" fill="#d6e6fc" stroke="#405cb2" stroke-width="1.15"/>
<rect x="475.70" y="95.70" width="6.0" height="6.0" fill="#eef3fc"/>
<circle cx="478.70" cy="98.70" r="2.3" fill="#d6e6fc" stroke="#405cb2" stroke-width="1.15"/>
<rect x="483.40" y="95.70" width="6.0" height="6.0" fill="#eef3fc"/>
<circle cx="486.40" cy="98.70" r="2.3" fill="#d6e6fc" stroke="#405cb2" stroke-width="1.15"/>
<rect x="491.10" y="95.70" width="6.0" height="6.0" fill="#d3ddf1"/>
<text x="133.80" y="101.00" font-size="6.5" text-anchor="end" stroke="#231f20">scRNA-seq</text>
<rect x="136.90" y="119.50" width="6.0" height="6.0" fill="#efe3f5"/>
<circle cx="139.90" cy="122.50" r="2.3" fill="#f3ebfa" stroke="#7258ac" stroke-width="1.15"/>
<rect x="144.60" y="119.50" width="6.0" height="6.0" fill="#efe3f5"/>
<circle cx="147.60" cy="122.50" r="2.3" fill="#f3ebfa" stroke="#7258ac" stroke-width="1.15"/>
<rect x="152.30" y="119.50" width="6.0" height="6.0" fill="#efe3f5"/>
<circle cx="155.30" cy="122.50" r="2.3" fill="#f3ebfa" stroke="#7258ac" stroke-width="1.15"/>
<rect x="160.00" y="119.50" width="6.0" height="6.0" fill="#efe3f5"/>
<circle cx="163.00" cy="122.50" r="2.3" fill="#f3ebfa" stroke="#7258ac" stroke-width="1.15"/>
<rect x="167.70" y="119.50" width="6.0" height="6.0" fill="#efe3f5"/>
<circle cx="170.70" cy="122.50" r="2.3" fill="#f3ebfa" stroke="#7258ac" stroke-width="1.15"/>
<rect x="175.40" y="119.50" width="6.0" height="6.0" fill="#efe3f5"/>
<circle cx="178.40" cy="122.50" r="2.3" fill="#f3ebfa" stroke="#7258ac" stroke-width="1.15"/>
<rect x="183.10" y="119.50" width="6.0" height="6.0" fill="#efe3f5"/>
<circle cx="186.10" cy="122.50" r="2.3" fill="#f3ebfa" stroke="#7258ac" stroke-width="1.15"/>
<rect x="190.80" y="119.50" width="6.0" height="6.0" fill="#efe3f5"/>
<circle cx="193.80" cy="122.50" r="2.3" fill="#f3ebfa" stroke="#7258ac" stroke-width="1.15"/>
<rect x="198.50" y="119.50" width="6.0" height="6.0" fill="#efe3f5"/>
<circle cx="201.50" cy="122.50" r="2.3" fill="#f3ebfa" stroke="#7258ac" stroke-width="1.15"/>
<rect x="206.20" y="119.50" width="6.0" height="6.0" fill="#efe3f5"/>
<circle cx="209.20" cy="122.50" r="2.3" fill="#f3ebfa" stroke="#7258ac" stroke-width="1.15"/>
<rect x="213.90" y="119.50" width="6.0" height="6.0" fill="#efe3f5"/>
<circle cx="216.90" cy="122.50" r="2.3" fill="#f3ebfa" stroke="#7258ac" stroke-width="1.15"/>
<rect x="221.60" y="119.50" width="6.0" height="6.0" fill="#efe3f5"/>
<circle cx="224.60" cy="122.50" r="2.3" fill="#f3ebfa" stroke="#7258ac" stroke-width="1.15"/>
<rect x="229.30" y="119.50" width="6.0" height="6.0" fill="#f5dde0"/>
<rect x="237.00" y="119.50" width="6.0" height="6.0" fill="#efe3f5"/>
<circle cx="240.00" cy="122.50" r="2.3" fill="#f3ebfa" stroke="#7258ac" stroke-width="1.15"/>
<rect x="244.70" y="119.50" width="6.0" height="6.0" fill="#efe3f5"/>
<circle cx="247.70" cy="122.50" r="2.3" fill="#f3ebfa" stroke="#7258ac" stroke-width="1.15"/>
<rect x="252.40" y="119.50" width="6.0" height="6.0" fill="#efe3f5"/>
<circle cx="255.40" cy="122.50" r="2.3" fill="#f3ebfa" stroke="#7258ac" stroke-width="1.15"/>
<rect x="260.10" y="119.50" width="6.0" height="6.0" fill="#efe3f5"/>
<circle cx="263.10" cy="122.50" r="2.3" fill="#f3ebfa" stroke="#7258ac" stroke-width="1.15"/>
<rect x="267.80" y="119.50" width="6.0" height="6.0" fill="#efe3f5"/>
<circle cx="270.80" cy="122.50" r="2.3" fill="#f3ebfa" stroke="#7258ac" stroke-width="1.15"/>
<rect x="275.50" y="119.50" width="6.0" height="6.0" fill="#efe3f5"/>
<circle cx="278.50" cy="122.50" r="2.3" fill="#f3ebfa" stroke="#7258ac" stroke-width="1.15"/>
<rect x="283.20" y="119.50" width="6.0" height="6.0" fill="#efe3f5"/>
<circle cx="286.20" cy="122.50" r="2.3" fill="#f3ebfa" stroke="#7258ac" stroke-width="1.15"/>
<rect x="290.90" y="119.50" width="6.0" height="6.0" fill="#efe3f5"/>
<circle cx="293.90" cy="122.50" r="2.3" fill="#f3ebfa" stroke="#7258ac" stroke-width="1.15"/>
<rect x="298.60" y="119.50" width="6.0" height="6.0" fill="#efe3f5"/>
<circle cx="301.60" cy="122.50" r="2.3" fill="#f3ebfa" stroke="#7258ac" stroke-width="1.15"/>
<rect x="306.30" y="119.50" width="6.0" height="6.0" fill="#efe3f5"/>
<circle cx="309.30" cy="122.50" r="2.3" fill="#f3ebfa" stroke="#7258ac" stroke-width="1.15"/>
<rect x="314.00" y="119.50" width="6.0" height="6.0" fill="#efe3f5"/>
<circle cx="317.00" cy="122.50" r="2.3" fill="#f3ebfa" stroke="#7258ac" stroke-width="1.15"/>
<rect x="321.70" y="119.50" width="6.0" height="6.0" fill="#efe3f5"/>
<circle cx="324.70" cy="122.50" r="2.3" fill="#f3ebfa" stroke="#7258ac" stroke-width="1.15"/>
<rect x="329.40" y="119.50" width="6.0" height="6.0" fill="#efe3f5"/>
<circle cx="332.40" cy="122.50" r="2.3" fill="#f3ebfa" stroke="#7258ac" stroke-width="1.15"/>
<rect x="337.10" y="119.50" width="6.0" height="6.0" fill="#efe3f5"/>
<circle cx="340.10" cy="122.50" r="2.3" fill="#f3ebfa" stroke="#7258ac" stroke-width="1.15"/>
<rect x="344.80" y="119.50" width="6.0" height="6.0" fill="#efe3f5"/>
<circle cx="347.80" cy="122.50" r="2.3" fill="#f3ebfa" stroke="#7258ac" stroke-width="1.15"/>
<rect x="352.50" y="119.50" width="6.0" height="6.0" fill="#efe3f5"/>
<circle cx="355.50" cy="122.50" r="2.3" fill="#f3ebfa" stroke="#7258ac" stroke-width="1.15"/>
<rect x="360.20" y="119.50" width="6.0" height="6.0" fill="#efe3f5"/>
<circle cx="363.20" cy="122.50" r="2.3" fill="#f3ebfa" stroke="#7258ac" stroke-width="1.15"/>
<rect x="367.90" y="119.50" width="6.0" height="6.0" fill="#efe3f5"/>
<circle cx="370.90" cy="122.50" r="2.3" fill="#f3ebfa" stroke="#7258ac" stroke-width="1.15"/>
<rect x="375.60" y="119.50" width="6.0" height="6.0" fill="#efe3f5"/>
<circle cx="378.60" cy="122.50" r="2.3" fill="#f3ebfa" stroke="#7258ac" stroke-width="1.15"/>
<rect x="383.30" y="119.50" width="6.0" height="6.0" fill="#efe3f5"/>
<circle cx="386.30" cy="122.50" r="2.3" fill="#f3ebfa" stroke="#7258ac" stroke-width="1.15"/>
<rect x="391.00" y="119.50" width="6.0" height="6.0" fill="#efe3f5"/>
<circle cx="394.00" cy="122.50" r="2.3" fill="#f3ebfa" stroke="#7258ac" stroke-width="1.15"/>
<rect x="398.70" y="119.50" width="6.0" height="6.0" fill="#efe3f5"/>
<circle cx="401.70" cy="122.50" r="2.3" fill="#f3ebfa" stroke="#7258ac" stroke-width="1.15"/>
<rect x="406.40" y="119.50" width="6.0" height="6.0" fill="#efe3f5"/>
<circle cx="409.40" cy="122.50" r="2.3" fill="#f3ebfa" stroke="#7258ac" stroke-width="1.15"/>
<rect x="414.10" y="119.50" width="6.0" height="6.0" fill="#efe3f5"/>
<circle cx="417.10" cy="122.50" r="2.3" fill="#f3ebfa" stroke="#7258ac" stroke-width="1.15"/>
<rect x="421.80" y="119.50" width="6.0" height="6.0" fill="#efe3f5"/>
<circle cx="424.80" cy="122.50" r="2.3" fill="#f3ebfa" stroke="#7258ac" stroke-width="1.15"/>
<rect x="429.50" y="119.50" width="6.0" height="6.0" fill="#efe3f5"/>
<circle cx="432.50" cy="122.50" r="2.3" fill="#f3ebfa" stroke="#7258ac" stroke-width="1.15"/>
<rect x="437.20" y="119.50" width="6.0" height="6.0" fill="#efe3f5"/>
<circle cx="440.20" cy="122.50" r="2.3" fill="#f3ebfa" stroke="#7258ac" stroke-width="1.15"/>
<rect x="444.90" y="119.50" width="6.0" height="6.0" fill="#efe3f5"/>
<circle cx="447.90" cy="122.50" r="2.3" fill="#f3ebfa" stroke="#7258ac" stroke-width="1.15"/>
<rect x="452.60" y="119.50" width="6.0" height="6.0" fill="#efe3f5"/>
<circle cx="455.60" cy="122.50" r="2.3" fill="#f3ebfa" stroke="#7258ac" stroke-width="1.15"/>
<rect x="460.30" y="119.50" width="6.0" height="6.0" fill="#efe3f5"/>
<circle cx="463.30" cy="122.50" r="2.3" fill="#f3ebfa" stroke="#7258ac" stroke-width="1.15"/>
<rect x="468.00" y="119.50" width="6.0" height="6.0" fill="#efe3f5"/>
<circle cx="471.00" cy="122.50" r="2.3" fill="#f3ebfa" stroke="#7258ac" stroke-width="1.15"/>
<rect x="475.70" y="119.50" width="6.0" height="6.0" fill="#efe3f5"/>
<circle cx="478.70" cy="122.50" r="2.3" fill="#f3ebfa" stroke="#7258ac" stroke-width="1.15"/>
<rect x="483.40" y="119.50" width="6.0" height="6.0" fill="#efe3f5"/>
<circle cx="486.40" cy="122.50" r="2.3" fill="#f3ebfa" stroke="#7258ac" stroke-width="1.15"/>
<rect x="491.10" y="119.50" width="6.0" height="6.0" fill="#efe3f5"/>
<circle cx="494.10" cy="122.50" r="2.3" fill="#f3ebfa" stroke="#7258ac" stroke-width="1.15"/>
<text x="133.80" y="124.80" font-size="6.5" text-anchor="end" stroke="#231f20">WES</text>
<rect x="136.90" y="128.10" width="6.0" height="6.0" fill="#efe3f5"/>
<circle cx="139.90" cy="131.10" r="2.3" fill="#f3ebfa" stroke="#7258ac" stroke-width="1.15"/>
<rect x="144.60" y="128.10" width="6.0" height="6.0" fill="#efe3f5"/>
<circle cx="147.60" cy="131.10" r="2.3" fill="#f3ebfa" stroke="#7258ac" stroke-width="1.15"/>
<rect x="152.30" y="128.10" width="6.0" height="6.0" fill="#efe3f5"/>
<circle cx="155.30" cy="131.10" r="2.3" fill="#f3ebfa" stroke="#7258ac" stroke-width="1.15"/>
<rect x="160.00" y="128.10" width="6.0" height="6.0" fill="#efe3f5"/>
<circle cx="163.00" cy="131.10" r="2.3" fill="#f3ebfa" stroke="#7258ac" stroke-width="1.15"/>
<rect x="167.70" y="128.10" width="6.0" height="6.0" fill="#efe3f5"/>
<circle cx="170.70" cy="131.10" r="2.3" fill="#f3ebfa" stroke="#7258ac" stroke-width="1.15"/>
<rect x="175.40" y="128.10" width="6.0" height="6.0" fill="#efe3f5"/>
<circle cx="178.40" cy="131.10" r="2.3" fill="#f3ebfa" stroke="#7258ac" stroke-width="1.15"/>
<rect x="183.10" y="128.10" width="6.0" height="6.0" fill="#efe3f5"/>
<circle cx="186.10" cy="131.10" r="2.3" fill="#f3ebfa" stroke="#7258ac" stroke-width="1.15"/>
<rect x="190.80" y="128.10" width="6.0" height="6.0" fill="#efe3f5"/>
<circle cx="193.80" cy="131.10" r="2.3" fill="#f3ebfa" stroke="#7258ac" stroke-width="1.15"/>
<rect x="198.50" y="128.10" width="6.0" height="6.0" fill="#efe3f5"/>
<circle cx="201.50" cy="131.10" r="2.3" fill="#f3ebfa" stroke="#7258ac" stroke-width="1.15"/>
<rect x="206.20" y="128.10" width="6.0" height="6.0" fill="#efe3f5"/>
<circle cx="209.20" cy="131.10" r="2.3" fill="#f3ebfa" stroke="#7258ac" stroke-width="1.15"/>
<rect x="213.90" y="128.10" width="6.0" height="6.0" fill="#efe3f5"/>
<circle cx="216.90" cy="131.10" r="2.3" fill="#f3ebfa" stroke="#7258ac" stroke-width="1.15"/>
<rect x="221.60" y="128.10" width="6.0" height="6.0" fill="#efe3f5"/>
<circle cx="224.60" cy="131.10" r="2.3" fill="#f3ebfa" stroke="#7258ac" stroke-width="1.15"/>
<rect x="229.30" y="128.10" width="6.0" height="6.0" fill="#f5dde0"/>
<rect x="237.00" y="128.10" width="6.0" height="6.0" fill="#efe3f5"/>
<circle cx="240.00" cy="131.10" r="2.3" fill="#f3ebfa" stroke="#7258ac" stroke-width="1.15"/>
<rect x="244.70" y="128.10" width="6.0" height="6.0" fill="#efe3f5"/>
<circle cx="247.70" cy="131.10" r="2.3" fill="#f3ebfa" stroke="#7258ac" stroke-width="1.15"/>
<rect x="252.40" y="128.10" width="6.0" height="6.0" fill="#efe3f5"/>
<circle cx="255.40" cy="131.10" r="2.3" fill="#f3ebfa" stroke="#7258ac" stroke-width="1.15"/>
<rect x="260.10" y="128.10" width="6.0" height="6.0" fill="#efe3f5"/>
<circle cx="263.10" cy="131.10" r="2.3" fill="#f3ebfa" stroke="#7258ac" stroke-width="1.15"/>
<rect x="267.80" y="128.10" width="6.0" height="6.0" fill="#efe3f5"/>
<circle cx="270.80" cy="131.10" r="2.3" fill="#f3ebfa" stroke="#7258ac" stroke-width="1.15"/>
<rect x="275.50" y="128.10" width="6.0" height="6.0" fill="#efe3f5"/>
<circle cx="278.50" cy="131.10" r="2.3" fill="#f3ebfa" stroke="#7258ac" stroke-width="1.15"/>
<rect x="283.20" y="128.10" width="6.0" height="6.0" fill="#efe3f5"/>
<circle cx="286.20" cy="131.10" r="2.3" fill="#f3ebfa" stroke="#7258ac" stroke-width="1.15"/>
<rect x="290.90" y="128.10" width="6.0" height="6.0" fill="#efe3f5"/>
<circle cx="293.90" cy="131.10" r="2.3" fill="#f3ebfa" stroke="#7258ac" stroke-width="1.15"/>
<rect x="298.60" y="128.10" width="6.0" height="6.0" fill="#efe3f5"/>
<circle cx="301.60" cy="131.10" r="2.3" fill="#f3ebfa" stroke="#7258ac" stroke-width="1.15"/>
<rect x="306.30" y="128.10" width="6.0" height="6.0" fill="#efe3f5"/>
<circle cx="309.30" cy="131.10" r="2.3" fill="#f3ebfa" stroke="#7258ac" stroke-width="1.15"/>
<rect x="314.00" y="128.10" width="6.0" height="6.0" fill="#efe3f5"/>
<circle cx="317.00" cy="131.10" r="2.3" fill="#f3ebfa" stroke="#7258ac" stroke-width="1.15"/>
<rect x="321.70" y="128.10" width="6.0" height="6.0" fill="#efe3f5"/>
<circle cx="324.70" cy="131.10" r="2.3" fill="#f3ebfa" stroke="#7258ac" stroke-width="1.15"/>
<rect x="329.40" y="128.10" width="6.0" height="6.0" fill="#efe3f5"/>
<circle cx="332.40" cy="131.10" r="2.3" fill="#f3ebfa" stroke="#7258ac" stroke-width="1.15"/>
<rect x="337.10" y="128.10" width="6.0" height="6.0" fill="#efe3f5"/>
<circle cx="340.10" cy="131.10" r="2.3" fill="#f3ebfa" stroke="#7258ac" stroke-width="1.15"/>
<rect x="344.80" y="128.10" width="6.0" height="6.0" fill="#efe3f5"/>
<circle cx="347.80" cy="131.10" r="2.3" fill="#f3ebfa" stroke="#7258ac" stroke-width="1.15"/>
<rect x="352.50" y="128.10" width="6.0" height="6.0" fill="#efe3f5"/>
<circle cx="355.50" cy="131.10" r="2.3" fill="#f3ebfa" stroke="#7258ac" stroke-width="1.15"/>
<rect x="360.20" y="128.10" width="6.0" height="6.0" fill="#efe3f5"/>
<circle cx="363.20" cy="131.10" r="2.3" fill="#f3ebfa" stroke="#7258ac" stroke-width="1.15"/>
<rect x="367.90" y="128.10" width="6.0" height="6.0" fill="#efe3f5"/>
<circle cx="370.90" cy="131.10" r="2.3" fill="#f3ebfa" stroke="#7258ac" stroke-width="1.15"/>
<rect x="375.60" y="128.10" width="6.0" height="6.0" fill="#efe3f5"/>
<circle cx="378.60" cy="131.10" r="2.3" fill="#f3ebfa" stroke="#7258ac" stroke-width="1.15"/>
<rect x="383.30" y="128.10" width="6.0" height="6.0" fill="#efe3f5"/>
<circle cx="386.30" cy="131.10" r="2.3" fill="#f3ebfa" stroke="#7258ac" stroke-width="1.15"/>
<rect x="391.00" y="128.10" width="6.0" height="6.0" fill="#efe3f5"/>
<circle cx="394.00" cy="131.10" r="2.3" fill="#f3ebfa" stroke="#7258ac" stroke-width="1.15"/>
<rect x="398.70" y="128.10" width="6.0" height="6.0" fill="#efe3f5"/>
<circle cx="401.70" cy="131.10" r="2.3" fill="#f3ebfa" stroke="#7258ac" stroke-width="1.15"/>
<rect x="406.40" y="128.10" width="6.0" height="6.0" fill="#efe3f5"/>
<circle cx="409.40" cy="131.10" r="2.3" fill="#f3ebfa" stroke="#7258ac" stroke-width="1.15"/>
<rect x="414.10" y="128.10" width="6.0" height="6.0" fill="#efe3f5"/>
<circle cx="417.10" cy="131.10" r="2.3" fill="#f3ebfa" stroke="#7258ac" stroke-width="1.15"/>
<rect x="421.80" y="128.10" width="6.0" height="6.0" fill="#efe3f5"/>
<circle cx="424.80" cy="131.10" r="2.3" fill="#f3ebfa" stroke="#7258ac" stroke-width="1.15"/>
<rect x="429.50" y="128.10" width="6.0" height="6.0" fill="#efe3f5"/>
<circle cx="432.50" cy="131.10" r="2.3" fill="#f3ebfa" stroke="#7258ac" stroke-width="1.15"/>
<rect x="437.20" y="128.10" width="6.0" height="6.0" fill="#efe3f5"/>
<circle cx="440.20" cy="131.10" r="2.3" fill="#f3ebfa" stroke="#7258ac" stroke-width="1.15"/>
<rect x="444.90" y="128.10" width="6.0" height="6.0" fill="#efe3f5"/>
<circle cx="447.90" cy="131.10" r="2.3" fill="#f3ebfa" stroke="#7258ac" stroke-width="1.15"/>
<rect x="452.60" y="128.10" width="6.0" height="6.0" fill="#efe3f5"/>
<circle cx="455.60" cy="131.10" r="2.3" fill="#f3ebfa" stroke="#7258ac" stroke-width="1.15"/>
<rect x="460.30" y="128.10" width="6.0" height="6.0" fill="#efe3f5"/>
<circle cx="463.30" cy="131.10" r="2.3" fill="#f3ebfa" stroke="#7258ac" stroke-width="1.15"/>
<rect x="468.00" y="128.10" width="6.0" height="6.0" fill="#efe3f5"/>
<circle cx="471.00" cy="131.10" r="2.3" fill="#f3ebfa" stroke="#7258ac" stroke-width="1.15"/>
<rect x="475.70" y="128.10" width="6.0" height="6.0" fill="#efe3f5"/>
<circle cx="478.70" cy="131.10" r="2.3" fill="#f3ebfa" stroke="#7258ac" stroke-width="1.15"/>
<rect x="483.40" y="128.10" width="6.0" height="6.0" fill="#efe3f5"/>
<circle cx="486.40" cy="131.10" r="2.3" fill="#f3ebfa" stroke="#7258ac" stroke-width="1.15"/>
<rect x="491.10" y="128.10" width="6.0" height="6.0" fill="#efe3f5"/>
<circle cx="494.10" cy="131.10" r="2.3" fill="#f3ebfa" stroke="#7258ac" stroke-width="1.15"/>
<text x="133.80" y="133.40" font-size="6.5" text-anchor="end" stroke="#231f20">WTS</text>
<rect x="136.90" y="136.60" width="6.0" height="6.0" fill="#f1d6e3"/>
<rect x="144.60" y="136.60" width="6.0" height="6.0" fill="#f1d6e3"/>
<rect x="152.30" y="136.60" width="6.0" height="6.0" fill="#f1d6e3"/>
<rect x="160.00" y="136.60" width="6.0" height="6.0" fill="#f1d6e3"/>
<rect x="167.70" y="136.60" width="6.0" height="6.0" fill="#f1d6e3"/>
<rect x="175.40" y="136.60" width="6.0" height="6.0" fill="#f1d6e3"/>
<rect x="183.10" y="136.60" width="6.0" height="6.0" fill="#f1d6e3"/>
<rect x="190.80" y="136.60" width="6.0" height="6.0" fill="#f1d6e3"/>
<rect x="198.50" y="136.60" width="6.0" height="6.0" fill="#f1d6e3"/>
<rect x="206.20" y="136.60" width="6.0" height="6.0" fill="#f1d6e3"/>
<rect x="213.90" y="136.60" width="6.0" height="6.0" fill="#f1d6e3"/>
<rect x="221.60" y="136.60" width="6.0" height="6.0" fill="#efe3f5"/>
<circle cx="224.60" cy="139.60" r="2.3" fill="#f3ebfa" stroke="#7258ac" stroke-width="1.15"/>
<rect x="229.30" y="136.60" width="6.0" height="6.0" fill="#f5dde0"/>
<rect x="237.00" y="136.60" width="6.0" height="6.0" fill="#efe3f5"/>
<circle cx="240.00" cy="139.60" r="2.3" fill="#f3ebfa" stroke="#7258ac" stroke-width="1.15"/>
<rect x="244.70" y="136.60" width="6.0" height="6.0" fill="#efe3f5"/>
<circle cx="247.70" cy="139.60" r="2.3" fill="#f3ebfa" stroke="#7258ac" stroke-width="1.15"/>
<rect x="252.40" y="136.60" width="6.0" height="6.0" fill="#efe3f5"/>
<circle cx="255.40" cy="139.60" r="2.3" fill="#f3ebfa" stroke="#7258ac" stroke-width="1.15"/>
<rect x="260.10" y="136.60" width="6.0" height="6.0" fill="#efe3f5"/>
<circle cx="263.10" cy="139.60" r="2.3" fill="#f3ebfa" stroke="#7258ac" stroke-width="1.15"/>
<rect x="267.80" y="136.60" width="6.0" height="6.0" fill="#efe3f5"/>
<circle cx="270.80" cy="139.60" r="2.3" fill="#f3ebfa" stroke="#7258ac" stroke-width="1.15"/>
<rect x="275.50" y="136.60" width="6.0" height="6.0" fill="#efe3f5"/>
<circle cx="278.50" cy="139.60" r="2.3" fill="#f3ebfa" stroke="#7258ac" stroke-width="1.15"/>
<rect x="283.20" y="136.60" width="6.0" height="6.0" fill="#efe3f5"/>
<circle cx="286.20" cy="139.60" r="2.3" fill="#f3ebfa" stroke="#7258ac" stroke-width="1.15"/>
<rect x="290.90" y="136.60" width="6.0" height="6.0" fill="#efe3f5"/>
<circle cx="293.90" cy="139.60" r="2.3" fill="#f3ebfa" stroke="#7258ac" stroke-width="1.15"/>
<rect x="298.60" y="136.60" width="6.0" height="6.0" fill="#efe3f5"/>
<circle cx="301.60" cy="139.60" r="2.3" fill="#f3ebfa" stroke="#7258ac" stroke-width="1.15"/>
<rect x="306.30" y="136.60" width="6.0" height="6.0" fill="#efe3f5"/>
<circle cx="309.30" cy="139.60" r="2.3" fill="#f3ebfa" stroke="#7258ac" stroke-width="1.15"/>
<rect x="314.00" y="136.60" width="6.0" height="6.0" fill="#efe3f5"/>
<circle cx="317.00" cy="139.60" r="2.3" fill="#f3ebfa" stroke="#7258ac" stroke-width="1.15"/>
<rect x="321.70" y="136.60" width="6.0" height="6.0" fill="#efe3f5"/>
<circle cx="324.70" cy="139.60" r="2.3" fill="#f3ebfa" stroke="#7258ac" stroke-width="1.15"/>
<rect x="329.40" y="136.60" width="6.0" height="6.0" fill="#efe3f5"/>
<circle cx="332.40" cy="139.60" r="2.3" fill="#f3ebfa" stroke="#7258ac" stroke-width="1.15"/>
<rect x="337.10" y="136.60" width="6.0" height="6.0" fill="#efe3f5"/>
<circle cx="340.10" cy="139.60" r="2.3" fill="#f3ebfa" stroke="#7258ac" stroke-width="1.15"/>
<rect x="344.80" y="136.60" width="6.0" height="6.0" fill="#efe3f5"/>
<circle cx="347.80" cy="139.60" r="2.3" fill="#f3ebfa" stroke="#7258ac" stroke-width="1.15"/>
<rect x="352.50" y="136.60" width="6.0" height="6.0" fill="#efe3f5"/>
<circle cx="355.50" cy="139.60" r="2.3" fill="#f3ebfa" stroke="#7258ac" stroke-width="1.15"/>
<rect x="360.20" y="136.60" width="6.0" height="6.0" fill="#efe3f5"/>
<circle cx="363.20" cy="139.60" r="2.3" fill="#f3ebfa" stroke="#7258ac" stroke-width="1.15"/>
<rect x="367.90" y="136.60" width="6.0" height="6.0" fill="#efe3f5"/>
<circle cx="370.90" cy="139.60" r="2.3" fill="#f3ebfa" stroke="#7258ac" stroke-width="1.15"/>
<rect x="375.60" y="136.60" width="6.0" height="6.0" fill="#efe3f5"/>
<circle cx="378.60" cy="139.60" r="2.3" fill="#f3ebfa" stroke="#7258ac" stroke-width="1.15"/>
<rect x="383.30" y="136.60" width="6.0" height="6.0" fill="#efe3f5"/>
<circle cx="386.30" cy="139.60" r="2.3" fill="#f3ebfa" stroke="#7258ac" stroke-width="1.15"/>
<rect x="391.00" y="136.60" width="6.0" height="6.0" fill="#efe3f5"/>
<circle cx="394.00" cy="139.60" r="2.3" fill="#f3ebfa" stroke="#7258ac" stroke-width="1.15"/>
<rect x="398.70" y="136.60" width="6.0" height="6.0" fill="#efe3f5"/>
<circle cx="401.70" cy="139.60" r="2.3" fill="#f3ebfa" stroke="#7258ac" stroke-width="1.15"/>
<rect x="406.40" y="136.60" width="6.0" height="6.0" fill="#efe3f5"/>
<circle cx="409.40" cy="139.60" r="2.3" fill="#f3ebfa" stroke="#7258ac" stroke-width="1.15"/>
<rect x="414.10" y="136.60" width="6.0" height="6.0" fill="#efe3f5"/>
<circle cx="417.10" cy="139.60" r="2.3" fill="#f3ebfa" stroke="#7258ac" stroke-width="1.15"/>
<rect x="421.80" y="136.60" width="6.0" height="6.0" fill="#efe3f5"/>
<circle cx="424.80" cy="139.60" r="2.3" fill="#f3ebfa" stroke="#7258ac" stroke-width="1.15"/>
<rect x="429.50" y="136.60" width="6.0" height="6.0" fill="#efe3f5"/>
<circle cx="432.50" cy="139.60" r="2.3" fill="#f3ebfa" stroke="#7258ac" stroke-width="1.15"/>
<rect x="437.20" y="136.60" width="6.0" height="6.0" fill="#efe3f5"/>
<circle cx="440.20" cy="139.60" r="2.3" fill="#f3ebfa" stroke="#7258ac" stroke-width="1.15"/>
<rect x="444.90" y="136.60" width="6.0" height="6.0" fill="#efe3f5"/>
<circle cx="447.90" cy="139.60" r="2.3" fill="#f3ebfa" stroke="#7258ac" stroke-width="1.15"/>
<rect x="452.60" y="136.60" width="6.0" height="6.0" fill="#efe3f5"/>
<circle cx="455.60" cy="139.60" r="2.3" fill="#f3ebfa" stroke="#7258ac" stroke-width="1.15"/>
<rect x="460.30" y="136.60" width="6.0" height="6.0" fill="#efe3f5"/>
<circle cx="463.30" cy="139.60" r="2.3" fill="#f3ebfa" stroke="#7258ac" stroke-width="1.15"/>
<rect x="468.00" y="136.60" width="6.0" height="6.0" fill="#efe3f5"/>
<circle cx="471.00" cy="139.60" r="2.3" fill="#f3ebfa" stroke="#7258ac" stroke-width="1.15"/>
<rect x="475.70" y="136.60" width="6.0" height="6.0" fill="#efe3f5"/>
<circle cx="478.70" cy="139.60" r="2.3" fill="#f3ebfa" stroke="#7258ac" stroke-width="1.15"/>
<rect x="483.40" y="136.60" width="6.0" height="6.0" fill="#efe3f5"/>
<circle cx="486.40" cy="139.60" r="2.3" fill="#f3ebfa" stroke="#7258ac" stroke-width="1.15"/>
<rect x="491.10" y="136.60" width="6.0" height="6.0" fill="#f1d6e3"/>
<text x="133.80" y="141.90" font-size="6.5" text-anchor="end" stroke="#231f20">scRNA-seq</text>
<rect x="136.90" y="145.00" width="6.0" height="6.0" fill="#f1d6e3"/>
<rect x="144.60" y="145.00" width="6.0" height="6.0" fill="#efe3f5"/>
<circle cx="147.60" cy="148.00" r="2.3" fill="#f3ebfa" stroke="#7258ac" stroke-width="1.15"/>
<rect x="152.30" y="145.00" width="6.0" height="6.0" fill="#f1d6e3"/>
<rect x="160.00" y="145.00" width="6.0" height="6.0" fill="#efe3f5"/>
<circle cx="163.00" cy="148.00" r="2.3" fill="#f3ebfa" stroke="#7258ac" stroke-width="1.15"/>
<rect x="167.70" y="145.00" width="6.0" height="6.0" fill="#f1d6e3"/>
<rect x="175.40" y="145.00" width="6.0" height="6.0" fill="#f1d6e3"/>
<rect x="183.10" y="145.00" width="6.0" height="6.0" fill="#f1d6e3"/>
<rect x="190.80" y="145.00" width="6.0" height="6.0" fill="#f1d6e3"/>
<rect x="198.50" y="145.00" width="6.0" height="6.0" fill="#f1d6e3"/>
<rect x="206.20" y="145.00" width="6.0" height="6.0" fill="#f1d6e3"/>
<rect x="213.90" y="145.00" width="6.0" height="6.0" fill="#f1d6e3"/>
<rect x="221.60" y="145.00" width="6.0" height="6.0" fill="#efe3f5"/>
<circle cx="224.60" cy="148.00" r="2.3" fill="#f3ebfa" stroke="#7258ac" stroke-width="1.15"/>
<rect x="229.30" y="145.00" width="6.0" height="6.0" fill="#f5dde0"/>
<rect x="237.00" y="145.00" width="6.0" height="6.0" fill="#efe3f5"/>
<circle cx="240.00" cy="148.00" r="2.3" fill="#f3ebfa" stroke="#7258ac" stroke-width="1.15"/>
<rect x="244.70" y="145.00" width="6.0" height="6.0" fill="#f1d6e3"/>
<rect x="252.40" y="145.00" width="6.0" height="6.0" fill="#efe3f5"/>
<circle cx="255.40" cy="148.00" r="2.3" fill="#f3ebfa" stroke="#7258ac" stroke-width="1.15"/>
<rect x="260.10" y="145.00" width="6.0" height="6.0" fill="#efe3f5"/>
<circle cx="263.10" cy="148.00" r="2.3" fill="#f3ebfa" stroke="#7258ac" stroke-width="1.15"/>
<rect x="267.80" y="145.00" width="6.0" height="6.0" fill="#efe3f5"/>
<circle cx="270.80" cy="148.00" r="2.3" fill="#f3ebfa" stroke="#7258ac" stroke-width="1.15"/>
<rect x="275.50" y="145.00" width="6.0" height="6.0" fill="#efe3f5"/>
<circle cx="278.50" cy="148.00" r="2.3" fill="#f3ebfa" stroke="#7258ac" stroke-width="1.15"/>
<rect x="283.20" y="145.00" width="6.0" height="6.0" fill="#efe3f5"/>
<circle cx="286.20" cy="148.00" r="2.3" fill="#f3ebfa" stroke="#7258ac" stroke-width="1.15"/>
<rect x="290.90" y="145.00" width="6.0" height="6.0" fill="#efe3f5"/>
<circle cx="293.90" cy="148.00" r="2.3" fill="#f3ebfa" stroke="#7258ac" stroke-width="1.15"/>
<rect x="298.60" y="145.00" width="6.0" height="6.0" fill="#efe3f5"/>
<circle cx="301.60" cy="148.00" r="2.3" fill="#f3ebfa" stroke="#7258ac" stroke-width="1.15"/>
<rect x="306.30" y="145.00" width="6.0" height="6.0" fill="#efe3f5"/>
<circle cx="309.30" cy="148.00" r="2.3" fill="#f3ebfa" stroke="#7258ac" stroke-width="1.15"/>
<rect x="314.00" y="145.00" width="6.0" height="6.0" fill="#efe3f5"/>
<circle cx="317.00" cy="148.00" r="2.3" fill="#f3ebfa" stroke="#7258ac" stroke-width="1.15"/>
<rect x="321.70" y="145.00" width="6.0" height="6.0" fill="#efe3f5"/>
<circle cx="324.70" cy="148.00" r="2.3" fill="#f3ebfa" stroke="#7258ac" stroke-width="1.15"/>
<rect x="329.40" y="145.00" width="6.0" height="6.0" fill="#efe3f5"/>
<circle cx="332.40" cy="148.00" r="2.3" fill="#f3ebfa" stroke="#7258ac" stroke-width="1.15"/>
<rect x="337.10" y="145.00" width="6.0" height="6.0" fill="#efe3f5"/>
<circle cx="340.10" cy="148.00" r="2.3" fill="#f3ebfa" stroke="#7258ac" stroke-width="1.15"/>
<rect x="344.80" y="145.00" width="6.0" height="6.0" fill="#f1d6e3"/>
<rect x="352.50" y="145.00" width="6.0" height="6.0" fill="#efe3f5"/>
<circle cx="355.50" cy="148.00" r="2.3" fill="#f3ebfa" stroke="#7258ac" stroke-width="1.15"/>
<rect x="360.20" y="145.00" width="6.0" height="6.0" fill="#efe3f5"/>
<circle cx="363.20" cy="148.00" r="2.3" fill="#f3ebfa" stroke="#7258ac" stroke-width="1.15"/>
<rect x="367.90" y="145.00" width="6.0" height="6.0" fill="#efe3f5"/>
<circle cx="370.90" cy="148.00" r="2.3" fill="#f3ebfa" stroke="#7258ac" stroke-width="1.15"/>
<rect x="375.60" y="145.00" width="6.0" height="6.0" fill="#efe3f5"/>
<circle cx="378.60" cy="148.00" r="2.3" fill="#f3ebfa" stroke="#7258ac" stroke-width="1.15"/>
<rect x="383.30" y="145.00" width="6.0" height="6.0" fill="#efe3f5"/>
<circle cx="386.30" cy="148.00" r="2.3" fill="#f3ebfa" stroke="#7258ac" stroke-width="1.15"/>
<rect x="391.00" y="145.00" width="6.0" height="6.0" fill="#efe3f5"/>
<circle cx="394.00" cy="148.00" r="2.3" fill="#f3ebfa" stroke="#7258ac" stroke-width="1.15"/>
<rect x="398.70" y="145.00" width="6.0" height="6.0" fill="#efe3f5"/>
<circle cx="401.70" cy="148.00" r="2.3" fill="#f3ebfa" stroke="#7258ac" stroke-width="1.15"/>
<rect x="406.40" y="145.00" width="6.0" height="6.0" fill="#efe3f5"/>
<circle cx="409.40" cy="148.00" r="2.3" fill="#f3ebfa" stroke="#7258ac" stroke-width="1.15"/>
<rect x="414.10" y="145.00" width="6.0" height="6.0" fill="#efe3f5"/>
<circle cx="417.10" cy="148.00" r="2.3" fill="#f3ebfa" stroke="#7258ac" stroke-width="1.15"/>
<rect x="421.80" y="145.00" width="6.0" height="6.0" fill="#efe3f5"/>
<circle cx="424.80" cy="148.00" r="2.3" fill="#f3ebfa" stroke="#7258ac" stroke-width="1.15"/>
<rect x="429.50" y="145.00" width="6.0" height="6.0" fill="#efe3f5"/>
<circle cx="432.50" cy="148.00" r="2.3" fill="#f3ebfa" stroke="#7258ac" stroke-width="1.15"/>
<rect x="437.20" y="145.00" width="6.0" height="6.0" fill="#efe3f5"/>
<circle cx="440.20" cy="148.00" r="2.3" fill="#f3ebfa" stroke="#7258ac" stroke-width="1.15"/>
<rect x="444.90" y="145.00" width="6.0" height="6.0" fill="#efe3f5"/>
<circle cx="447.90" cy="148.00" r="2.3" fill="#f3ebfa" stroke="#7258ac" stroke-width="1.15"/>
<rect x="452.60" y="145.00" width="6.0" height="6.0" fill="#efe3f5"/>
<circle cx="455.60" cy="148.00" r="2.3" fill="#f3ebfa" stroke="#7258ac" stroke-width="1.15"/>
<rect x="460.30" y="145.00" width="6.0" height="6.0" fill="#efe3f5"/>
<circle cx="463.30" cy="148.00" r="2.3" fill="#f3ebfa" stroke="#7258ac" stroke-width="1.15"/>
<rect x="468.00" y="145.00" width="6.0" height="6.0" fill="#efe3f5"/>
<circle cx="471.00" cy="148.00" r="2.3" fill="#f3ebfa" stroke="#7258ac" stroke-width="1.15"/>
<rect x="475.70" y="145.00" width="6.0" height="6.0" fill="#efe3f5"/>
<circle cx="478.70" cy="148.00" r="2.3" fill="#f3ebfa" stroke="#7258ac" stroke-width="1.15"/>
<rect x="483.40" y="145.00" width="6.0" height="6.0" fill="#efe3f5"/>
<circle cx="486.40" cy="148.00" r="2.3" fill="#f3ebfa" stroke="#7258ac" stroke-width="1.15"/>
<rect x="491.10" y="145.00" width="6.0" height="6.0" fill="#f1d6e3"/>
<text x="133.80" y="150.30" font-size="6.5" text-anchor="end" stroke="#231f20">Multiplex IHC</text>
<rect x="136.90" y="154.80" width="6.0" height="6.0" fill="#f1d6e3"/>
<rect x="144.60" y="154.80" width="6.0" height="6.0" fill="#f1d6e3"/>
<rect x="152.30" y="154.80" width="6.0" height="6.0" fill="#f1d6e3"/>
<rect x="160.00" y="154.80" width="6.0" height="6.0" fill="#f1d6e3"/>
<rect x="167.70" y="154.80" width="6.0" height="6.0" fill="#f1d6e3"/>
<rect x="175.40" y="154.80" width="6.0" height="6.0" fill="#f1d6e3"/>
<rect x="183.10" y="154.80" width="6.0" height="6.0" fill="#f1d6e3"/>
<rect x="190.80" y="154.80" width="6.0" height="6.0" fill="#f1d6e3"/>
<rect x="198.50" y="154.80" width="6.0" height="6.0" fill="#f1d6e3"/>
<rect x="206.20" y="154.80" width="6.0" height="6.0" fill="#f1d6e3"/>
<rect x="213.90" y="154.80" width="6.0" height="6.0" fill="#f1d6e3"/>
<rect x="221.60" y="154.80" width="6.0" height="6.0" fill="#f1d6e3"/>
<rect x="229.30" y="154.80" width="6.0" height="6.0" fill="#f1d6e3"/>
<rect x="237.00" y="154.80" width="6.0" height="6.0" fill="#f1d6e3"/>
<rect x="244.70" y="154.80" width="6.0" height="6.0" fill="#f1d6e3"/>
<rect x="252.40" y="154.80" width="6.0" height="6.0" fill="#f1d6e3"/>
<rect x="260.10" y="154.80" width="6.0" height="6.0" fill="#f1d6e3"/>
<rect x="267.80" y="154.80" width="6.0" height="6.0" fill="#f1d6e3"/>
<rect x="275.50" y="154.80" width="6.0" height="6.0" fill="#f1d6e3"/>
<rect x="283.20" y="154.80" width="6.0" height="6.0" fill="#f1d6e3"/>
<rect x="290.90" y="154.80" width="6.0" height="6.0" fill="#f1d6e3"/>
<rect x="298.60" y="154.80" width="6.0" height="6.0" fill="#f1d6e3"/>
<rect x="306.30" y="154.80" width="6.0" height="6.0" fill="#f1d6e3"/>
<rect x="314.00" y="154.80" width="6.0" height="6.0" fill="#f1d6e3"/>
<rect x="321.70" y="154.80" width="6.0" height="6.0" fill="#f1d6e3"/>
<rect x="329.40" y="154.80" width="6.0" height="6.0" fill="#f1d6e3"/>
<rect x="337.10" y="154.80" width="6.0" height="6.0" fill="#f1d6e3"/>
<rect x="344.80" y="154.80" width="6.0" height="6.0" fill="#f1d6e3"/>
<rect x="352.50" y="154.80" width="6.0" height="6.0" fill="#f1d6e3"/>
<rect x="360.20" y="154.80" width="6.0" height="6.0" fill="#f1d6e3"/>
<rect x="367.90" y="154.80" width="6.0" height="6.0" fill="#f1d6e3"/>
<rect x="375.60" y="154.80" width="6.0" height="6.0" fill="#f1d6e3"/>
<rect x="383.30" y="154.80" width="6.0" height="6.0" fill="#f1d6e3"/>
<rect x="391.00" y="154.80" width="6.0" height="6.0" fill="#efe3f5"/>
<circle cx="394.00" cy="157.80" r="2.3" fill="#f3ebfa" stroke="#7258ac" stroke-width="1.15"/>
<rect x="398.70" y="154.80" width="6.0" height="6.0" fill="#efe3f5"/>
<circle cx="401.70" cy="157.80" r="2.3" fill="#f3ebfa" stroke="#7258ac" stroke-width="1.15"/>
<rect x="406.40" y="154.80" width="6.0" height="6.0" fill="#efe3f5"/>
<circle cx="409.40" cy="157.80" r="2.3" fill="#f3ebfa" stroke="#7258ac" stroke-width="1.15"/>
<rect x="414.10" y="154.80" width="6.0" height="6.0" fill="#f1d6e3"/>
<rect x="421.80" y="154.80" width="6.0" height="6.0" fill="#efe3f5"/>
<circle cx="424.80" cy="157.80" r="2.3" fill="#f3ebfa" stroke="#7258ac" stroke-width="1.15"/>
<rect x="429.50" y="154.80" width="6.0" height="6.0" fill="#f1d6e3"/>
<rect x="437.20" y="154.80" width="6.0" height="6.0" fill="#efe3f5"/>
<circle cx="440.20" cy="157.80" r="2.3" fill="#f3ebfa" stroke="#7258ac" stroke-width="1.15"/>
<rect x="444.90" y="154.80" width="6.0" height="6.0" fill="#efe3f5"/>
<circle cx="447.90" cy="157.80" r="2.3" fill="#f3ebfa" stroke="#7258ac" stroke-width="1.15"/>
<rect x="452.60" y="154.80" width="6.0" height="6.0" fill="#efe3f5"/>
<circle cx="455.60" cy="157.80" r="2.3" fill="#f3ebfa" stroke="#7258ac" stroke-width="1.15"/>
<rect x="460.30" y="154.80" width="6.0" height="6.0" fill="#efe3f5"/>
<circle cx="463.30" cy="157.80" r="2.3" fill="#f3ebfa" stroke="#7258ac" stroke-width="1.15"/>
<rect x="468.00" y="154.80" width="6.0" height="6.0" fill="#efe3f5"/>
<circle cx="471.00" cy="157.80" r="2.3" fill="#f3ebfa" stroke="#7258ac" stroke-width="1.15"/>
<rect x="475.70" y="154.80" width="6.0" height="6.0" fill="#efe3f5"/>
<circle cx="478.70" cy="157.80" r="2.3" fill="#f3ebfa" stroke="#7258ac" stroke-width="1.15"/>
<rect x="483.40" y="154.80" width="6.0" height="6.0" fill="#efe3f5"/>
<circle cx="486.40" cy="157.80" r="2.3" fill="#f3ebfa" stroke="#7258ac" stroke-width="1.15"/>
<rect x="491.10" y="154.80" width="6.0" height="6.0" fill="#f1d6e3"/>
<text x="133.80" y="160.10" font-size="6.5" text-anchor="end" stroke="#231f20">scRNA-seq</text>
<rect x="136.90" y="163.30" width="6.0" height="6.0" fill="#f1d6e3"/>
<rect x="144.60" y="163.30" width="6.0" height="6.0" fill="#f1d6e3"/>
<rect x="152.30" y="163.30" width="6.0" height="6.0" fill="#f1d6e3"/>
<rect x="160.00" y="163.30" width="6.0" height="6.0" fill="#f1d6e3"/>
<rect x="167.70" y="163.30" width="6.0" height="6.0" fill="#f1d6e3"/>
<rect x="175.40" y="163.30" width="6.0" height="6.0" fill="#f1d6e3"/>
<rect x="183.10" y="163.30" width="6.0" height="6.0" fill="#f1d6e3"/>
<rect x="190.80" y="163.30" width="6.0" height="6.0" fill="#f1d6e3"/>
<rect x="198.50" y="163.30" width="6.0" height="6.0" fill="#f1d6e3"/>
<rect x="206.20" y="163.30" width="6.0" height="6.0" fill="#f1d6e3"/>
<rect x="213.90" y="163.30" width="6.0" height="6.0" fill="#f1d6e3"/>
<rect x="221.60" y="163.30" width="6.0" height="6.0" fill="#f1d6e3"/>
<rect x="229.30" y="163.30" width="6.0" height="6.0" fill="#f1d6e3"/>
<rect x="237.00" y="163.30" width="6.0" height="6.0" fill="#f1d6e3"/>
<rect x="244.70" y="163.30" width="6.0" height="6.0" fill="#f1d6e3"/>
<rect x="252.40" y="163.30" width="6.0" height="6.0" fill="#f1d6e3"/>
<rect x="260.10" y="163.30" width="6.0" height="6.0" fill="#f1d6e3"/>
<rect x="267.80" y="163.30" width="6.0" height="6.0" fill="#f1d6e3"/>
<rect x="275.50" y="163.30" width="6.0" height="6.0" fill="#f1d6e3"/>
<rect x="283.20" y="163.30" width="6.0" height="6.0" fill="#f1d6e3"/>
<rect x="290.90" y="163.30" width="6.0" height="6.0" fill="#f1d6e3"/>
<rect x="298.60" y="163.30" width="6.0" height="6.0" fill="#f1d6e3"/>
<rect x="306.30" y="163.30" width="6.0" height="6.0" fill="#f1d6e3"/>
<rect x="314.00" y="163.30" width="6.0" height="6.0" fill="#f1d6e3"/>
<rect x="321.70" y="163.30" width="6.0" height="6.0" fill="#f1d6e3"/>
<rect x="329.40" y="163.30" width="6.0" height="6.0" fill="#f1d6e3"/>
<rect x="337.10" y="163.30" width="6.0" height="6.0" fill="#f1d6e3"/>
<rect x="344.80" y="163.30" width="6.0" height="6.0" fill="#f1d6e3"/>
<rect x="352.50" y="163.30" width="6.0" height="6.0" fill="#f1d6e3"/>
<rect x="360.20" y="163.30" width="6.0" height="6.0" fill="#f1d6e3"/>
<rect x="367.90" y="163.30" width="6.0" height="6.0" fill="#f1d6e3"/>
<rect x="375.60" y="163.30" width="6.0" height="6.0" fill="#f1d6e3"/>
<rect x="383.30" y="163.30" width="6.0" height="6.0" fill="#f1d6e3"/>
<rect x="391.00" y="163.30" width="6.0" height="6.0" fill="#efe3f5"/>
<circle cx="394.00" cy="166.30" r="2.3" fill="#f3ebfa" stroke="#7258ac" stroke-width="1.15"/>
<rect x="398.70" y="163.30" width="6.0" height="6.0" fill="#efe3f5"/>
<circle cx="401.70" cy="166.30" r="2.3" fill="#f3ebfa" stroke="#7258ac" stroke-width="1.15"/>
<rect x="406.40" y="163.30" width="6.0" height="6.0" fill="#efe3f5"/>
<circle cx="409.40" cy="166.30" r="2.3" fill="#f3ebfa" stroke="#7258ac" stroke-width="1.15"/>
<rect x="414.10" y="163.30" width="6.0" height="6.0" fill="#f1d6e3"/>
<rect x="421.80" y="163.30" width="6.0" height="6.0" fill="#efe3f5"/>
<circle cx="424.80" cy="166.30" r="2.3" fill="#f3ebfa" stroke="#7258ac" stroke-width="1.15"/>
<rect x="429.50" y="163.30" width="6.0" height="6.0" fill="#f1d6e3"/>
<rect x="437.20" y="163.30" width="6.0" height="6.0" fill="#efe3f5"/>
<circle cx="440.20" cy="166.30" r="2.3" fill="#f3ebfa" stroke="#7258ac" stroke-width="1.15"/>
<rect x="444.90" y="163.30" width="6.0" height="6.0" fill="#efe3f5"/>
<circle cx="447.90" cy="166.30" r="2.3" fill="#f3ebfa" stroke="#7258ac" stroke-width="1.15"/>
<rect x="452.60" y="163.30" width="6.0" height="6.0" fill="#efe3f5"/>
<circle cx="455.60" cy="166.30" r="2.3" fill="#f3ebfa" stroke="#7258ac" stroke-width="1.15"/>
<rect x="460.30" y="163.30" width="6.0" height="6.0" fill="#efe3f5"/>
<circle cx="463.30" cy="166.30" r="2.3" fill="#f3ebfa" stroke="#7258ac" stroke-width="1.15"/>
<rect x="468.00" y="163.30" width="6.0" height="6.0" fill="#efe3f5"/>
<circle cx="471.00" cy="166.30" r="2.3" fill="#f3ebfa" stroke="#7258ac" stroke-width="1.15"/>
<rect x="475.70" y="163.30" width="6.0" height="6.0" fill="#efe3f5"/>
<circle cx="478.70" cy="166.30" r="2.3" fill="#f3ebfa" stroke="#7258ac" stroke-width="1.15"/>
<rect x="483.40" y="163.30" width="6.0" height="6.0" fill="#efe3f5"/>
<circle cx="486.40" cy="166.30" r="2.3" fill="#f3ebfa" stroke="#7258ac" stroke-width="1.15"/>
<rect x="491.10" y="163.30" width="6.0" height="6.0" fill="#f1d6e3"/>
<text x="133.80" y="168.60" font-size="6.5" text-anchor="end" stroke="#231f20">scRNA-seq</text>
<rect x="136.90" y="187.60" width="6.0" height="6.0" fill="#f4acb6"/>
<rect x="144.60" y="187.60" width="6.0" height="6.0" fill="#f9c0c9"/>
<circle cx="147.60" cy="190.60" r="2.3" fill="#f9b6c1" stroke="#ac2741" stroke-width="1.15"/>
<rect x="152.30" y="187.60" width="6.0" height="6.0" fill="#f9c0c9"/>
<circle cx="155.30" cy="190.60" r="2.3" fill="#f9b6c1" stroke="#ac2741" stroke-width="1.15"/>
<rect x="160.00" y="187.60" width="6.0" height="6.0" fill="#f4acb6"/>
<rect x="167.70" y="187.60" width="6.0" height="6.0" fill="#f9c0c9"/>
<circle cx="170.70" cy="190.60" r="2.3" fill="#f9b6c1" stroke="#ac2741" stroke-width="1.15"/>
<rect x="175.40" y="187.60" width="6.0" height="6.0" fill="#f9c0c9"/>
<circle cx="178.40" cy="190.60" r="2.3" fill="#f9b6c1" stroke="#ac2741" stroke-width="1.15"/>
<rect x="183.10" y="187.60" width="6.0" height="6.0" fill="#f9c0c9"/>
<circle cx="186.10" cy="190.60" r="2.3" fill="#f9b6c1" stroke="#ac2741" stroke-width="1.15"/>
<rect x="190.80" y="187.60" width="6.0" height="6.0" fill="#f9c0c9"/>
<circle cx="193.80" cy="190.60" r="2.3" fill="#f9b6c1" stroke="#ac2741" stroke-width="1.15"/>
<rect x="198.50" y="187.60" width="6.0" height="6.0" fill="#f9c0c9"/>
<circle cx="201.50" cy="190.60" r="2.3" fill="#f9b6c1" stroke="#ac2741" stroke-width="1.15"/>
<rect x="206.20" y="187.60" width="6.0" height="6.0" fill="#f9c0c9"/>
<circle cx="209.20" cy="190.60" r="2.3" fill="#f9b6c1" stroke="#ac2741" stroke-width="1.15"/>
<rect x="213.90" y="187.60" width="6.0" height="6.0" fill="#f4acb6"/>
<rect x="221.60" y="187.60" width="6.0" height="6.0" fill="#f9c0c9"/>
<circle cx="224.60" cy="190.60" r="2.3" fill="#f9b6c1" stroke="#ac2741" stroke-width="1.15"/>
<rect x="229.30" y="187.60" width="6.0" height="6.0" fill="#f4acb6"/>
<rect x="237.00" y="187.60" width="6.0" height="6.0" fill="#f4acb6"/>
<rect x="244.70" y="187.60" width="6.0" height="6.0" fill="#f9c0c9"/>
<circle cx="247.70" cy="190.60" r="2.3" fill="#f9b6c1" stroke="#ac2741" stroke-width="1.15"/>
<rect x="252.40" y="187.60" width="6.0" height="6.0" fill="#f9c0c9"/>
<circle cx="255.40" cy="190.60" r="2.3" fill="#f9b6c1" stroke="#ac2741" stroke-width="1.15"/>
<rect x="260.10" y="187.60" width="6.0" height="6.0" fill="#f9c0c9"/>
<circle cx="263.10" cy="190.60" r="2.3" fill="#f9b6c1" stroke="#ac2741" stroke-width="1.15"/>
<rect x="267.80" y="187.60" width="6.0" height="6.0" fill="#f9c0c9"/>
<circle cx="270.80" cy="190.60" r="2.3" fill="#f9b6c1" stroke="#ac2741" stroke-width="1.15"/>
<rect x="275.50" y="187.60" width="6.0" height="6.0" fill="#f4acb6"/>
<rect x="283.20" y="187.60" width="6.0" height="6.0" fill="#f9c0c9"/>
<circle cx="286.20" cy="190.60" r="2.3" fill="#f9b6c1" stroke="#ac2741" stroke-width="1.15"/>
<rect x="290.90" y="187.60" width="6.0" height="6.0" fill="#f9c0c9"/>
<circle cx="293.90" cy="190.60" r="2.3" fill="#f9b6c1" stroke="#ac2741" stroke-width="1.15"/>
<rect x="298.60" y="187.60" width="6.0" height="6.0" fill="#f9c0c9"/>
<circle cx="301.60" cy="190.60" r="2.3" fill="#f9b6c1" stroke="#ac2741" stroke-width="1.15"/>
<rect x="306.30" y="187.60" width="6.0" height="6.0" fill="#f9c0c9"/>
<circle cx="309.30" cy="190.60" r="2.3" fill="#f9b6c1" stroke="#ac2741" stroke-width="1.15"/>
<rect x="314.00" y="187.60" width="6.0" height="6.0" fill="#f9c0c9"/>
<circle cx="317.00" cy="190.60" r="2.3" fill="#f9b6c1" stroke="#ac2741" stroke-width="1.15"/>
<rect x="321.70" y="187.60" width="6.0" height="6.0" fill="#f9c0c9"/>
<circle cx="324.70" cy="190.60" r="2.3" fill="#f9b6c1" stroke="#ac2741" stroke-width="1.15"/>
<rect x="329.40" y="187.60" width="6.0" height="6.0" fill="#f9c0c9"/>
<circle cx="332.40" cy="190.60" r="2.3" fill="#f9b6c1" stroke="#ac2741" stroke-width="1.15"/>
<rect x="337.10" y="187.60" width="6.0" height="6.0" fill="#f9c0c9"/>
<circle cx="340.10" cy="190.60" r="2.3" fill="#f9b6c1" stroke="#ac2741" stroke-width="1.15"/>
<rect x="344.80" y="187.60" width="6.0" height="6.0" fill="#f9c0c9"/>
<circle cx="347.80" cy="190.60" r="2.3" fill="#f9b6c1" stroke="#ac2741" stroke-width="1.15"/>
<rect x="352.50" y="187.60" width="6.0" height="6.0" fill="#f9c0c9"/>
<circle cx="355.50" cy="190.60" r="2.3" fill="#f9b6c1" stroke="#ac2741" stroke-width="1.15"/>
<rect x="360.20" y="187.60" width="6.0" height="6.0" fill="#f9c0c9"/>
<circle cx="363.20" cy="190.60" r="2.3" fill="#f9b6c1" stroke="#ac2741" stroke-width="1.15"/>
<rect x="367.90" y="187.60" width="6.0" height="6.0" fill="#f9c0c9"/>
<circle cx="370.90" cy="190.60" r="2.3" fill="#f9b6c1" stroke="#ac2741" stroke-width="1.15"/>
<rect x="375.60" y="187.60" width="6.0" height="6.0" fill="#f9c0c9"/>
<circle cx="378.60" cy="190.60" r="2.3" fill="#f9b6c1" stroke="#ac2741" stroke-width="1.15"/>
<rect x="383.30" y="187.60" width="6.0" height="6.0" fill="#f4acb6"/>
<rect x="391.00" y="187.60" width="6.0" height="6.0" fill="#f4acb6"/>
<rect x="398.70" y="187.60" width="6.0" height="6.0" fill="#f9c0c9"/>
<circle cx="401.70" cy="190.60" r="2.3" fill="#f9b6c1" stroke="#ac2741" stroke-width="1.15"/>
<rect x="406.40" y="187.60" width="6.0" height="6.0" fill="#f9c0c9"/>
<circle cx="409.40" cy="190.60" r="2.3" fill="#f9b6c1" stroke="#ac2741" stroke-width="1.15"/>
<rect x="414.10" y="187.60" width="6.0" height="6.0" fill="#f9c0c9"/>
<circle cx="417.10" cy="190.60" r="2.3" fill="#f9b6c1" stroke="#ac2741" stroke-width="1.15"/>
<rect x="421.80" y="187.60" width="6.0" height="6.0" fill="#f9c0c9"/>
<circle cx="424.80" cy="190.60" r="2.3" fill="#f9b6c1" stroke="#ac2741" stroke-width="1.15"/>
<rect x="429.50" y="187.60" width="6.0" height="6.0" fill="#f9c0c9"/>
<circle cx="432.50" cy="190.60" r="2.3" fill="#f9b6c1" stroke="#ac2741" stroke-width="1.15"/>
<rect x="437.20" y="187.60" width="6.0" height="6.0" fill="#f9c0c9"/>
<circle cx="440.20" cy="190.60" r="2.3" fill="#f9b6c1" stroke="#ac2741" stroke-width="1.15"/>
<rect x="444.90" y="187.60" width="6.0" height="6.0" fill="#f9c0c9"/>
<circle cx="447.90" cy="190.60" r="2.3" fill="#f9b6c1" stroke="#ac2741" stroke-width="1.15"/>
<rect x="452.60" y="187.60" width="6.0" height="6.0" fill="#f9c0c9"/>
<circle cx="455.60" cy="190.60" r="2.3" fill="#f9b6c1" stroke="#ac2741" stroke-width="1.15"/>
<rect x="460.30" y="187.60" width="6.0" height="6.0" fill="#f4acb6"/>
<rect x="468.00" y="187.60" width="6.0" height="6.0" fill="#f9c0c9"/>
<circle cx="471.00" cy="190.60" r="2.3" fill="#f9b6c1" stroke="#ac2741" stroke-width="1.15"/>
<rect x="475.70" y="187.60" width="6.0" height="6.0" fill="#f9c0c9"/>
<circle cx="478.70" cy="190.60" r="2.3" fill="#f9b6c1" stroke="#ac2741" stroke-width="1.15"/>
<rect x="483.40" y="187.60" width="6.0" height="6.0" fill="#f4acb6"/>
<rect x="491.10" y="187.60" width="6.0" height="6.0" fill="#f4acb6"/>
<text x="133.80" y="192.90" font-size="6.5" text-anchor="end" stroke="#231f20">WES</text>
<rect x="136.90" y="195.90" width="6.0" height="6.0" fill="#f4acb6"/>
<rect x="144.60" y="195.90" width="6.0" height="6.0" fill="#f9c0c9"/>
<circle cx="147.60" cy="198.90" r="2.3" fill="#f9b6c1" stroke="#ac2741" stroke-width="1.15"/>
<rect x="152.30" y="195.90" width="6.0" height="6.0" fill="#f9c0c9"/>
<circle cx="155.30" cy="198.90" r="2.3" fill="#f9b6c1" stroke="#ac2741" stroke-width="1.15"/>
<rect x="160.00" y="195.90" width="6.0" height="6.0" fill="#f4acb6"/>
<rect x="167.70" y="195.90" width="6.0" height="6.0" fill="#f9c0c9"/>
<circle cx="170.70" cy="198.90" r="2.3" fill="#f9b6c1" stroke="#ac2741" stroke-width="1.15"/>
<rect x="175.40" y="195.90" width="6.0" height="6.0" fill="#f9c0c9"/>
<circle cx="178.40" cy="198.90" r="2.3" fill="#f9b6c1" stroke="#ac2741" stroke-width="1.15"/>
<rect x="183.10" y="195.90" width="6.0" height="6.0" fill="#f9c0c9"/>
<circle cx="186.10" cy="198.90" r="2.3" fill="#f9b6c1" stroke="#ac2741" stroke-width="1.15"/>
<rect x="190.80" y="195.90" width="6.0" height="6.0" fill="#f9c0c9"/>
<circle cx="193.80" cy="198.90" r="2.3" fill="#f9b6c1" stroke="#ac2741" stroke-width="1.15"/>
<rect x="198.50" y="195.90" width="6.0" height="6.0" fill="#f9c0c9"/>
<circle cx="201.50" cy="198.90" r="2.3" fill="#f9b6c1" stroke="#ac2741" stroke-width="1.15"/>
<rect x="206.20" y="195.90" width="6.0" height="6.0" fill="#f9c0c9"/>
<circle cx="209.20" cy="198.90" r="2.3" fill="#f9b6c1" stroke="#ac2741" stroke-width="1.15"/>
<rect x="213.90" y="195.90" width="6.0" height="6.0" fill="#f4acb6"/>
<rect x="221.60" y="195.90" width="6.0" height="6.0" fill="#f9c0c9"/>
<circle cx="224.60" cy="198.90" r="2.3" fill="#f9b6c1" stroke="#ac2741" stroke-width="1.15"/>
<rect x="229.30" y="195.90" width="6.0" height="6.0" fill="#f4acb6"/>
<rect x="237.00" y="195.90" width="6.0" height="6.0" fill="#f4acb6"/>
<rect x="244.70" y="195.90" width="6.0" height="6.0" fill="#f9c0c9"/>
<circle cx="247.70" cy="198.90" r="2.3" fill="#f9b6c1" stroke="#ac2741" stroke-width="1.15"/>
<rect x="252.40" y="195.90" width="6.0" height="6.0" fill="#f9c0c9"/>
<circle cx="255.40" cy="198.90" r="2.3" fill="#f9b6c1" stroke="#ac2741" stroke-width="1.15"/>
<rect x="260.10" y="195.90" width="6.0" height="6.0" fill="#f9c0c9"/>
<circle cx="263.10" cy="198.90" r="2.3" fill="#f9b6c1" stroke="#ac2741" stroke-width="1.15"/>
<rect x="267.80" y="195.90" width="6.0" height="6.0" fill="#f9c0c9"/>
<circle cx="270.80" cy="198.90" r="2.3" fill="#f9b6c1" stroke="#ac2741" stroke-width="1.15"/>
<rect x="275.50" y="195.90" width="6.0" height="6.0" fill="#f4acb6"/>
<rect x="283.20" y="195.90" width="6.0" height="6.0" fill="#f9c0c9"/>
<circle cx="286.20" cy="198.90" r="2.3" fill="#f9b6c1" stroke="#ac2741" stroke-width="1.15"/>
<rect x="290.90" y="195.90" width="6.0" height="6.0" fill="#f9c0c9"/>
<circle cx="293.90" cy="198.90" r="2.3" fill="#f9b6c1" stroke="#ac2741" stroke-width="1.15"/>
<rect x="298.60" y="195.90" width="6.0" height="6.0" fill="#f9c0c9"/>
<circle cx="301.60" cy="198.90" r="2.3" fill="#f9b6c1" stroke="#ac2741" stroke-width="1.15"/>
<rect x="306.30" y="195.90" width="6.0" height="6.0" fill="#f9c0c9"/>
<circle cx="309.30" cy="198.90" r="2.3" fill="#f9b6c1" stroke="#ac2741" stroke-width="1.15"/>
<rect x="314.00" y="195.90" width="6.0" height="6.0" fill="#f9c0c9"/>
<circle cx="317.00" cy="198.90" r="2.3" fill="#f9b6c1" stroke="#ac2741" stroke-width="1.15"/>
<rect x="321.70" y="195.90" width="6.0" height="6.0" fill="#f9c0c9"/>
<circle cx="324.70" cy="198.90" r="2.3" fill="#f9b6c1" stroke="#ac2741" stroke-width="1.15"/>
<rect x="329.40" y="195.90" width="6.0" height="6.0" fill="#f9c0c9"/>
<circle cx="332.40" cy="198.90" r="2.3" fill="#f9b6c1" stroke="#ac2741" stroke-width="1.15"/>
<rect x="337.10" y="195.90" width="6.0" height="6.0" fill="#f9c0c9"/>
<circle cx="340.10" cy="198.90" r="2.3" fill="#f9b6c1" stroke="#ac2741" stroke-width="1.15"/>
<rect x="344.80" y="195.90" width="6.0" height="6.0" fill="#f9c0c9"/>
<circle cx="347.80" cy="198.90" r="2.3" fill="#f9b6c1" stroke="#ac2741" stroke-width="1.15"/>
<rect x="352.50" y="195.90" width="6.0" height="6.0" fill="#f9c0c9"/>
<circle cx="355.50" cy="198.90" r="2.3" fill="#f9b6c1" stroke="#ac2741" stroke-width="1.15"/>
<rect x="360.20" y="195.90" width="6.0" height="6.0" fill="#f9c0c9"/>
<circle cx="363.20" cy="198.90" r="2.3" fill="#f9b6c1" stroke="#ac2741" stroke-width="1.15"/>
<rect x="367.90" y="195.90" width="6.0" height="6.0" fill="#f9c0c9"/>
<circle cx="370.90" cy="198.90" r="2.3" fill="#f9b6c1" stroke="#ac2741" stroke-width="1.15"/>
<rect x="375.60" y="195.90" width="6.0" height="6.0" fill="#f9c0c9"/>
<circle cx="378.60" cy="198.90" r="2.3" fill="#f9b6c1" stroke="#ac2741" stroke-width="1.15"/>
<rect x="383.30" y="195.90" width="6.0" height="6.0" fill="#f4acb6"/>
<rect x="391.00" y="195.90" width="6.0" height="6.0" fill="#f4acb6"/>
<rect x="398.70" y="195.90" width="6.0" height="6.0" fill="#f9c0c9"/>
<circle cx="401.70" cy="198.90" r="2.3" fill="#f9b6c1" stroke="#ac2741" stroke-width="1.15"/>
<rect x="406.40" y="195.90" width="6.0" height="6.0" fill="#f9c0c9"/>
<circle cx="409.40" cy="198.90" r="2.3" fill="#f9b6c1" stroke="#ac2741" stroke-width="1.15"/>
<rect x="414.10" y="195.90" width="6.0" height="6.0" fill="#f9c0c9"/>
<circle cx="417.10" cy="198.90" r="2.3" fill="#f9b6c1" stroke="#ac2741" stroke-width="1.15"/>
<rect x="421.80" y="195.90" width="6.0" height="6.0" fill="#f9c0c9"/>
<circle cx="424.80" cy="198.90" r="2.3" fill="#f9b6c1" stroke="#ac2741" stroke-width="1.15"/>
<rect x="429.50" y="195.90" width="6.0" height="6.0" fill="#f9c0c9"/>
<circle cx="432.50" cy="198.90" r="2.3" fill="#f9b6c1" stroke="#ac2741" stroke-width="1.15"/>
<rect x="437.20" y="195.90" width="6.0" height="6.0" fill="#f9c0c9"/>
<circle cx="440.20" cy="198.90" r="2.3" fill="#f9b6c1" stroke="#ac2741" stroke-width="1.15"/>
<rect x="444.90" y="195.90" width="6.0" height="6.0" fill="#f9c0c9"/>
<circle cx="447.90" cy="198.90" r="2.3" fill="#f9b6c1" stroke="#ac2741" stroke-width="1.15"/>
<rect x="452.60" y="195.90" width="6.0" height="6.0" fill="#f9c0c9"/>
<circle cx="455.60" cy="198.90" r="2.3" fill="#f9b6c1" stroke="#ac2741" stroke-width="1.15"/>
<rect x="460.30" y="195.90" width="6.0" height="6.0" fill="#f4acb6"/>
<rect x="468.00" y="195.90" width="6.0" height="6.0" fill="#f9c0c9"/>
<circle cx="471.00" cy="198.90" r="2.3" fill="#f9b6c1" stroke="#ac2741" stroke-width="1.15"/>
<rect x="475.70" y="195.90" width="6.0" height="6.0" fill="#f9c0c9"/>
<circle cx="478.70" cy="198.90" r="2.3" fill="#f9b6c1" stroke="#ac2741" stroke-width="1.15"/>
<rect x="483.40" y="195.90" width="6.0" height="6.0" fill="#f4acb6"/>
<rect x="491.10" y="195.90" width="6.0" height="6.0" fill="#f4acb6"/>
<text x="133.80" y="201.20" font-size="6.5" text-anchor="end" stroke="#231f20">WTS</text>
<rect x="136.90" y="204.20" width="6.0" height="6.0" fill="#f4acb6"/>
<rect x="144.60" y="204.20" width="6.0" height="6.0" fill="#f4acb6"/>
<rect x="152.30" y="204.20" width="6.0" height="6.0" fill="#f4acb6"/>
<rect x="160.00" y="204.20" width="6.0" height="6.0" fill="#f4acb6"/>
<rect x="167.70" y="204.20" width="6.0" height="6.0" fill="#f4acb6"/>
<rect x="175.40" y="204.20" width="6.0" height="6.0" fill="#f4acb6"/>
<rect x="183.10" y="204.20" width="6.0" height="6.0" fill="#f4acb6"/>
<rect x="190.80" y="204.20" width="6.0" height="6.0" fill="#f4acb6"/>
<rect x="198.50" y="204.20" width="6.0" height="6.0" fill="#f4acb6"/>
<rect x="206.20" y="204.20" width="6.0" height="6.0" fill="#f4acb6"/>
<rect x="213.90" y="204.20" width="6.0" height="6.0" fill="#f4acb6"/>
<rect x="221.60" y="204.20" width="6.0" height="6.0" fill="#f9c0c9"/>
<circle cx="224.60" cy="207.20" r="2.3" fill="#f9b6c1" stroke="#ac2741" stroke-width="1.15"/>
<rect x="229.30" y="204.20" width="6.0" height="6.0" fill="#f4acb6"/>
<rect x="237.00" y="204.20" width="6.0" height="6.0" fill="#f4acb6"/>
<rect x="244.70" y="204.20" width="6.0" height="6.0" fill="#f9c0c9"/>
<circle cx="247.70" cy="207.20" r="2.3" fill="#f9b6c1" stroke="#ac2741" stroke-width="1.15"/>
<rect x="252.40" y="204.20" width="6.0" height="6.0" fill="#f9c0c9"/>
<circle cx="255.40" cy="207.20" r="2.3" fill="#f9b6c1" stroke="#ac2741" stroke-width="1.15"/>
<rect x="260.10" y="204.20" width="6.0" height="6.0" fill="#f9c0c9"/>
<circle cx="263.10" cy="207.20" r="2.3" fill="#f9b6c1" stroke="#ac2741" stroke-width="1.15"/>
<rect x="267.80" y="204.20" width="6.0" height="6.0" fill="#f9c0c9"/>
<circle cx="270.80" cy="207.20" r="2.3" fill="#f9b6c1" stroke="#ac2741" stroke-width="1.15"/>
<rect x="275.50" y="204.20" width="6.0" height="6.0" fill="#f4acb6"/>
<rect x="283.20" y="204.20" width="6.0" height="6.0" fill="#f9c0c9"/>
<circle cx="286.20" cy="207.20" r="2.3" fill="#f9b6c1" stroke="#ac2741" stroke-width="1.15"/>
<rect x="290.90" y="204.20" width="6.0" height="6.0" fill="#f9c0c9"/>
<circle cx="293.90" cy="207.20" r="2.3" fill="#f9b6c1" stroke="#ac2741" stroke-width="1.15"/>
<rect x="298.60" y="204.20" width="6.0" height="6.0" fill="#f9c0c9"/>
<circle cx="301.60" cy="207.20" r="2.3" fill="#f9b6c1" stroke="#ac2741" stroke-width="1.15"/>
<rect x="306.30" y="204.20" width="6.0" height="6.0" fill="#f9c0c9"/>
<circle cx="309.30" cy="207.20" r="2.3" fill="#f9b6c1" stroke="#ac2741" stroke-width="1.15"/>
<rect x="314.00" y="204.20" width="6.0" height="6.0" fill="#f9c0c9"/>
<circle cx="317.00" cy="207.20" r="2.3" fill="#f9b6c1" stroke="#ac2741" stroke-width="1.15"/>
<rect x="321.70" y="204.20" width="6.0" height="6.0" fill="#f9c0c9"/>
<circle cx="324.70" cy="207.20" r="2.3" fill="#f9b6c1" stroke="#ac2741" stroke-width="1.15"/>
<rect x="329.40" y="204.20" width="6.0" height="6.0" fill="#f9c0c9"/>
<circle cx="332.40" cy="207.20" r="2.3" fill="#f9b6c1" stroke="#ac2741" stroke-width="1.15"/>
<rect x="337.10" y="204.20" width="6.0" height="6.0" fill="#f9c0c9"/>
<circle cx="340.10" cy="207.20" r="2.3" fill="#f9b6c1" stroke="#ac2741" stroke-width="1.15"/>
<rect x="344.80" y="204.20" width="6.0" height="6.0" fill="#f4acb6"/>
<rect x="352.50" y="204.20" width="6.0" height="6.0" fill="#f9c0c9"/>
<circle cx="355.50" cy="207.20" r="2.3" fill="#f9b6c1" stroke="#ac2741" stroke-width="1.15"/>
<rect x="360.20" y="204.20" width="6.0" height="6.0" fill="#f9c0c9"/>
<circle cx="363.20" cy="207.20" r="2.3" fill="#f9b6c1" stroke="#ac2741" stroke-width="1.15"/>
<rect x="367.90" y="204.20" width="6.0" height="6.0" fill="#f9c0c9"/>
<circle cx="370.90" cy="207.20" r="2.3" fill="#f9b6c1" stroke="#ac2741" stroke-width="1.15"/>
<rect x="375.60" y="204.20" width="6.0" height="6.0" fill="#f9c0c9"/>
<circle cx="378.60" cy="207.20" r="2.3" fill="#f9b6c1" stroke="#ac2741" stroke-width="1.15"/>
<rect x="383.30" y="204.20" width="6.0" height="6.0" fill="#f4acb6"/>
<rect x="391.00" y="204.20" width="6.0" height="6.0" fill="#f4acb6"/>
<rect x="398.70" y="204.20" width="6.0" height="6.0" fill="#f9c0c9"/>
<circle cx="401.70" cy="207.20" r="2.3" fill="#f9b6c1" stroke="#ac2741" stroke-width="1.15"/>
<rect x="406.40" y="204.20" width="6.0" height="6.0" fill="#f9c0c9"/>
<circle cx="409.40" cy="207.20" r="2.3" fill="#f9b6c1" stroke="#ac2741" stroke-width="1.15"/>
<rect x="414.10" y="204.20" width="6.0" height="6.0" fill="#f9c0c9"/>
<circle cx="417.10" cy="207.20" r="2.3" fill="#f9b6c1" stroke="#ac2741" stroke-width="1.15"/>
<rect x="421.80" y="204.20" width="6.0" height="6.0" fill="#f9c0c9"/>
<circle cx="424.80" cy="207.20" r="2.3" fill="#f9b6c1" stroke="#ac2741" stroke-width="1.15"/>
<rect x="429.50" y="204.20" width="6.0" height="6.0" fill="#f9c0c9"/>
<circle cx="432.50" cy="207.20" r="2.3" fill="#f9b6c1" stroke="#ac2741" stroke-width="1.15"/>
<rect x="437.20" y="204.20" width="6.0" height="6.0" fill="#f9c0c9"/>
<circle cx="440.20" cy="207.20" r="2.3" fill="#f9b6c1" stroke="#ac2741" stroke-width="1.15"/>
<rect x="444.90" y="204.20" width="6.0" height="6.0" fill="#f9c0c9"/>
<circle cx="447.90" cy="207.20" r="2.3" fill="#f9b6c1" stroke="#ac2741" stroke-width="1.15"/>
<rect x="452.60" y="204.20" width="6.0" height="6.0" fill="#f9c0c9"/>
<circle cx="455.60" cy="207.20" r="2.3" fill="#f9b6c1" stroke="#ac2741" stroke-width="1.15"/>
<rect x="460.30" y="204.20" width="6.0" height="6.0" fill="#f4acb6"/>
<rect x="468.00" y="204.20" width="6.0" height="6.0" fill="#f9c0c9"/>
<circle cx="471.00" cy="207.20" r="2.3" fill="#f9b6c1" stroke="#ac2741" stroke-width="1.15"/>
<rect x="475.70" y="204.20" width="6.0" height="6.0" fill="#f9c0c9"/>
<circle cx="478.70" cy="207.20" r="2.3" fill="#f9b6c1" stroke="#ac2741" stroke-width="1.15"/>
<rect x="483.40" y="204.20" width="6.0" height="6.0" fill="#f9c0c9"/>
<circle cx="486.40" cy="207.20" r="2.3" fill="#f9b6c1" stroke="#ac2741" stroke-width="1.15"/>
<rect x="491.10" y="204.20" width="6.0" height="6.0" fill="#f4acb6"/>
<text x="133.80" y="209.50" font-size="6.5" text-anchor="end" stroke="#231f20">scRNA-seq</text>
<rect x="136.90" y="212.50" width="6.0" height="6.0" fill="#f4acb6"/>
<rect x="144.60" y="212.50" width="6.0" height="6.0" fill="#f9c0c9"/>
<circle cx="147.60" cy="215.50" r="2.3" fill="#f9b6c1" stroke="#ac2741" stroke-width="1.15"/>
<rect x="152.30" y="212.50" width="6.0" height="6.0" fill="#f4acb6"/>
<rect x="160.00" y="212.50" width="6.0" height="6.0" fill="#f4acb6"/>
<rect x="167.70" y="212.50" width="6.0" height="6.0" fill="#f4acb6"/>
<rect x="175.40" y="212.50" width="6.0" height="6.0" fill="#f4acb6"/>
<rect x="183.10" y="212.50" width="6.0" height="6.0" fill="#f4acb6"/>
<rect x="190.80" y="212.50" width="6.0" height="6.0" fill="#f4acb6"/>
<rect x="198.50" y="212.50" width="6.0" height="6.0" fill="#f4acb6"/>
<rect x="206.20" y="212.50" width="6.0" height="6.0" fill="#f4acb6"/>
<rect x="213.90" y="212.50" width="6.0" height="6.0" fill="#f4acb6"/>
<rect x="221.60" y="212.50" width="6.0" height="6.0" fill="#f9c0c9"/>
<circle cx="224.60" cy="215.50" r="2.3" fill="#f9b6c1" stroke="#ac2741" stroke-width="1.15"/>
<rect x="229.30" y="212.50" width="6.0" height="6.0" fill="#f4acb6"/>
<rect x="237.00" y="212.50" width="6.0" height="6.0" fill="#f4acb6"/>
<rect x="244.70" y="212.50" width="6.0" height="6.0" fill="#f4acb6"/>
<rect x="252.40" y="212.50" width="6.0" height="6.0" fill="#f4acb6"/>
<rect x="260.10" y="212.50" width="6.0" height="6.0" fill="#f9c0c9"/>
<circle cx="263.10" cy="215.50" r="2.3" fill="#f9b6c1" stroke="#ac2741" stroke-width="1.15"/>
<rect x="267.80" y="212.50" width="6.0" height="6.0" fill="#f9c0c9"/>
<circle cx="270.80" cy="215.50" r="2.3" fill="#f9b6c1" stroke="#ac2741" stroke-width="1.15"/>
<rect x="275.50" y="212.50" width="6.0" height="6.0" fill="#f4acb6"/>
<rect x="283.20" y="212.50" width="6.0" height="6.0" fill="#f9c0c9"/>
<circle cx="286.20" cy="215.50" r="2.3" fill="#f9b6c1" stroke="#ac2741" stroke-width="1.15"/>
<rect x="290.90" y="212.50" width="6.0" height="6.0" fill="#f9c0c9"/>
<circle cx="293.90" cy="215.50" r="2.3" fill="#f9b6c1" stroke="#ac2741" stroke-width="1.15"/>
<rect x="298.60" y="212.50" width="6.0" height="6.0" fill="#f9c0c9"/>
<circle cx="301.60" cy="215.50" r="2.3" fill="#f9b6c1" stroke="#ac2741" stroke-width="1.15"/>
<rect x="306.30" y="212.50" width="6.0" height="6.0" fill="#f9c0c9"/>
<circle cx="309.30" cy="215.50" r="2.3" fill="#f9b6c1" stroke="#ac2741" stroke-width="1.15"/>
<rect x="314.00" y="212.50" width="6.0" height="6.0" fill="#f9c0c9"/>
<circle cx="317.00" cy="215.50" r="2.3" fill="#f9b6c1" stroke="#ac2741" stroke-width="1.15"/>
<rect x="321.70" y="212.50" width="6.0" height="6.0" fill="#f9c0c9"/>
<circle cx="324.70" cy="215.50" r="2.3" fill="#f9b6c1" stroke="#ac2741" stroke-width="1.15"/>
<rect x="329.40" y="212.50" width="6.0" height="6.0" fill="#f9c0c9"/>
<circle cx="332.40" cy="215.50" r="2.3" fill="#f9b6c1" stroke="#ac2741" stroke-width="1.15"/>
<rect x="337.10" y="212.50" width="6.0" height="6.0" fill="#f9c0c9"/>
<circle cx="340.10" cy="215.50" r="2.3" fill="#f9b6c1" stroke="#ac2741" stroke-width="1.15"/>
<rect x="344.80" y="212.50" width="6.0" height="6.0" fill="#f4acb6"/>
<rect x="352.50" y="212.50" width="6.0" height="6.0" fill="#f9c0c9"/>
<circle cx="355.50" cy="215.50" r="2.3" fill="#f9b6c1" stroke="#ac2741" stroke-width="1.15"/>
<rect x="360.20" y="212.50" width="6.0" height="6.0" fill="#f9c0c9"/>
<circle cx="363.20" cy="215.50" r="2.3" fill="#f9b6c1" stroke="#ac2741" stroke-width="1.15"/>
<rect x="367.90" y="212.50" width="6.0" height="6.0" fill="#f9c0c9"/>
<circle cx="370.90" cy="215.50" r="2.3" fill="#f9b6c1" stroke="#ac2741" stroke-width="1.15"/>
<rect x="375.60" y="212.50" width="6.0" height="6.0" fill="#f9c0c9"/>
<circle cx="378.60" cy="215.50" r="2.3" fill="#f9b6c1" stroke="#ac2741" stroke-width="1.15"/>
<rect x="383.30" y="212.50" width="6.0" height="6.0" fill="#f4acb6"/>
<rect x="391.00" y="212.50" width="6.0" height="6.0" fill="#f4acb6"/>
<rect x="398.70" y="212.50" width="6.0" height="6.0" fill="#f9c0c9"/>
<circle cx="401.70" cy="215.50" r="2.3" fill="#f9b6c1" stroke="#ac2741" stroke-width="1.15"/>
<rect x="406.40" y="212.50" width="6.0" height="6.0" fill="#f9c0c9"/>
<circle cx="409.40" cy="215.50" r="2.3" fill="#f9b6c1" stroke="#ac2741" stroke-width="1.15"/>
<rect x="414.10" y="212.50" width="6.0" height="6.0" fill="#f9c0c9"/>
<circle cx="417.10" cy="215.50" r="2.3" fill="#f9b6c1" stroke="#ac2741" stroke-width="1.15"/>
<rect x="421.80" y="212.50" width="6.0" height="6.0" fill="#f9c0c9"/>
<circle cx="424.80" cy="215.50" r="2.3" fill="#f9b6c1" stroke="#ac2741" stroke-width="1.15"/>
<rect x="429.50" y="212.50" width="6.0" height="6.0" fill="#f9c0c9"/>
<circle cx="432.50" cy="215.50" r="2.3" fill="#f9b6c1" stroke="#ac2741" stroke-width="1.15"/>
<rect x="437.20" y="212.50" width="6.0" height="6.0" fill="#f9c0c9"/>
<circle cx="440.20" cy="215.50" r="2.3" fill="#f9b6c1" stroke="#ac2741" stroke-width="1.15"/>
<rect x="444.90" y="212.50" width="6.0" height="6.0" fill="#f9c0c9"/>
<circle cx="447.90" cy="215.50" r="2.3" fill="#f9b6c1" stroke="#ac2741" stroke-width="1.15"/>
<rect x="452.60" y="212.50" width="6.0" height="6.0" fill="#f9c0c9"/>
<circle cx="455.60" cy="215.50" r="2.3" fill="#f9b6c1" stroke="#ac2741" stroke-width="1.15"/>
<rect x="460.30" y="212.50" width="6.0" height="6.0" fill="#f4acb6"/>
<rect x="468.00" y="212.50" width="6.0" height="6.0" fill="#f9c0c9"/>
<circle cx="471.00" cy="215.50" r="2.3" fill="#f9b6c1" stroke="#ac2741" stroke-width="1.15"/>
<rect x="475.70" y="212.50" width="6.0" height="6.0" fill="#f9c0c9"/>
<circle cx="478.70" cy="215.50" r="2.3" fill="#f9b6c1" stroke="#ac2741" stroke-width="1.15"/>
<rect x="483.40" y="212.50" width="6.0" height="6.0" fill="#f9c0c9"/>
<circle cx="486.40" cy="215.50" r="2.3" fill="#f9b6c1" stroke="#ac2741" stroke-width="1.15"/>
<rect x="491.10" y="212.50" width="6.0" height="6.0" fill="#f4acb6"/>
<text x="133.80" y="217.80" font-size="6.5" text-anchor="end" stroke="#231f20">Multiplex IHC</text>
<line x1="499.7" y1="52.60" x2="499.7" y2="82.60" stroke="#231f20" stroke-width="0.7"/>
<text x="502.70" y="70.50" font-size="6.05" stroke="#231f20">Tumor</text>
<text x="500.40" y="92.60" font-size="6.0" stroke="#231f20">A.N.</text>
<text x="500.40" y="101.00" font-size="6.0" stroke="#231f20">D.N.</text>
<line x1="499.7" y1="119.80" x2="499.7" y2="149.80" stroke="#231f20" stroke-width="0.7"/>
<text x="502.70" y="137.70" font-size="6.05" stroke="#231f20">Tumor</text>
<text x="500.40" y="159.80" font-size="6.0" stroke="#231f20">A.N.</text>
<text x="500.40" y="168.20" font-size="6.0" stroke="#231f20">D.N.</text>
<line x1="499.7" y1="187.90" x2="499.7" y2="217.90" stroke="#231f20" stroke-width="0.7"/>
<text x="502.70" y="205.80" font-size="6.05" stroke="#231f20">Tumor</text>
<path transform="translate(0,0)" d="M45.8,64.6 L49.4,64.4 C49.6,67 50,69.2 51.4,69.6 C53.2,68 57,67.6 59.4,70.2 C62.4,73.6 62.6,79.6 60.8,84 C59,88 56.2,90.4 52.2,90.4 C48.2,90.4 45.4,88.6 41.6,88.4 C38.8,88.2 37.4,88.8 37.4,90.2 C37.4,91.6 38.2,92.6 38.4,93.6 L35.6,94.2 C34.8,92.4 33.4,91.2 33.4,89 C33.4,85.8 36,84.2 40,84.2 C43.4,84.2 45.4,84.8 47.2,84 C49.6,82.8 50,79.6 49,76.2 C47.8,72.4 46,69 45.8,64.6 Z" fill="#f7d2b6" stroke="#efbf9d" stroke-width="0.6"/>
<path transform="translate(0,0)" d="M53.4,71.6 C56.2,70.6 58.8,72.4 59.8,75.6 C60.6,78.6 60,82 58.2,84.6" fill="none" stroke="#fae0cb" stroke-width="1.2" stroke-linecap="round"/>
<text x="60.60" y="54.30" font-size="6.5" text-anchor="middle" stroke="#231f20">Distant normal</text>
<text x="60.60" y="61.00" font-size="6.5" text-anchor="middle" stroke="#231f20">(D.N.)</text>
<text x="21.40" y="76.20" font-size="6.5" stroke="#231f20">Tumor</text>
<text x="64.20" y="98.00" font-size="6.5" text-anchor="middle" stroke="#231f20">Adjacent normal</text>
<text x="64.20" y="104.70" font-size="6.5" text-anchor="middle" stroke="#231f20">(A.N.)</text>
<line x1="63.6" y1="62.2" x2="57.8" y2="74.6" stroke="#231f20" stroke-width="0.7"/>
<line x1="37.6" y1="77.6" x2="48.4" y2="84.4" stroke="#231f20" stroke-width="0.7"/>
<line x1="55.0" y1="83.4" x2="59.6" y2="94.0" stroke="#231f20" stroke-width="0.7"/>
<rect x="56.2" y="73.8" width="3" height="3" fill="#3b2a66"/>
<rect x="47.6" y="83.2" width="4.2" height="4.2" fill="#3c50b4"/>
<circle cx="54.8" cy="83.0" r="1.6" fill="#3b2a66"/>
<text x="76.20" y="70.30" font-size="6.5" text-anchor="middle" fill="#3f5fc4" stroke="#3f5fc4">Baseline</text>
<text x="76.20" y="77.00" font-size="6.5" text-anchor="middle" fill="#3f5fc4" stroke="#3f5fc4">biopsy</text>
<path d="M73.4,78.6 H91.8 M86.4,75.3 L92.1,78.6 L86.4,81.9" fill="none" stroke="#231f20" stroke-width="0.75"/>
<line x1="92.5" y1="51.4" x2="92.5" y2="97.0" stroke="#231f20" stroke-width="0.7"/>
<path d="M54.7,104.2 V120.8" stroke="#231f20" stroke-width="2.2" fill="none"/>
<path d="M49.7,118.6 L54.7,120.6 L59.7,118.6 L54.7,124.8 Z" fill="#231f20"/>
<text x="26.00" y="113.00" font-size="6.5" text-anchor="middle" stroke="#231f20">XELOX</text>
<text x="26.00" y="120.40" font-size="6.5" text-anchor="middle" stroke="#231f20">or</text>
<text x="26.00" y="127.80" font-size="6.5" text-anchor="middle" stroke="#231f20">XP + trastuzumab</text>
<text x="64.70" y="115.20" font-size="6.5" stroke="#231f20">1 Cycle</text>
<line x1="26" y1="131.9" x2="57" y2="131.9" stroke="#b9c6d6" stroke-width="0.6"/>
<path transform="translate(0.4,69.9)" d="M45.8,64.6 L49.4,64.4 C49.6,67 50,69.2 51.4,69.6 C53.2,68 57,67.6 59.4,70.2 C62.4,73.6 62.6,79.6 60.8,84 C59,88 56.2,90.4 52.2,90.4 C48.2,90.4 45.4,88.6 41.6,88.4 C38.8,88.2 37.4,88.8 37.4,90.2 C37.4,91.6 38.2,92.6 38.4,93.6 L35.6,94.2 C34.8,92.4 33.4,91.2 33.4,89 C33.4,85.8 36,84.2 40,84.2 C43.4,84.2 45.4,84.8 47.2,84 C49.6,82.8 50,79.6 49,76.2 C47.8,72.4 46,69 45.8,64.6 Z" fill="#f7d2b6" stroke="#efbf9d" stroke-width="0.6"/>
<path transform="translate(0.4,69.9)" d="M53.4,71.6 C56.2,70.6 58.8,72.4 59.8,75.6 C60.6,78.6 60,82 58.2,84.6" fill="none" stroke="#fae0cb" stroke-width="1.2" stroke-linecap="round"/>
<circle cx="58.0" cy="144.4" r="2.7" fill="#b791d6"/>
<circle cx="58.0" cy="144.4" r="1.7" fill="#7338a6"/>
<circle cx="55.3" cy="152.1" r="2.5" fill="#b791d6"/>
<circle cx="55.3" cy="152.1" r="1.5" fill="#7338a6"/>
<circle cx="49.5" cy="154.3" r="3.2" fill="#b791d6"/>
<circle cx="49.5" cy="154.3" r="2.2" fill="#7338a6"/>
<text x="74.60" y="137.80" font-size="6.5" text-anchor="middle" fill="#7076c8" stroke="#7076c8">Follow up 1</text>
<text x="74.60" y="144.60" font-size="6.5" text-anchor="middle" fill="#7076c8" stroke="#7076c8">biopsy</text>
<path d="M73.4,147.6 H91.8 M86.4,144.3 L92.1,147.6 L86.4,150.9" fill="none" stroke="#231f20" stroke-width="0.75"/>
<line x1="92.5" y1="120.0" x2="92.5" y2="166.2" stroke="#231f20" stroke-width="0.7"/>
<path d="M54.7,169.2 V184.6" stroke="#231f20" stroke-width="2.2" fill="none"/>
<path d="M49.7,182.4 L54.7,184.4 L59.7,182.4 L54.7,188.6 Z" fill="#231f20"/>
<text x="26.00" y="172.90" font-size="6.5" text-anchor="middle" stroke="#231f20">XELOX</text>
<text x="26" y="179.7" font-size="6.5" text-anchor="middle" stroke="#231f20">+ <tspan fill="#e0474c" stroke="#e0474c">pembrolizumab</tspan></text>
<text x="26.00" y="185.30" font-size="6.5" text-anchor="middle" stroke="#231f20">or</text>
<text x="26.00" y="191.40" font-size="6.5" text-anchor="middle" stroke="#231f20">XP + trastuzumab</text>
<text x="26" y="198.1" font-size="6.5" text-anchor="middle" stroke="#231f20">+ <tspan fill="#e0474c" stroke="#e0474c">pembrolizumab</tspan></text>
<text x="63.20" y="180.40" font-size="6.5" stroke="#231f20">7 Cycles</text>
<path transform="translate(0.2,135.9)" d="M45.8,64.6 L49.4,64.4 C49.6,67 50,69.2 51.4,69.6 C53.2,68 57,67.6 59.4,70.2 C62.4,73.6 62.6,79.6 60.8,84 C59,88 56.2,90.4 52.2,90.4 C48.2,90.4 45.4,88.6 41.6,88.4 C38.8,88.2 37.4,88.8 37.4,90.2 C37.4,91.6 38.2,92.6 38.4,93.6 L35.6,94.2 C34.8,92.4 33.4,91.2 33.4,89 C33.4,85.8 36,84.2 40,84.2 C43.4,84.2 45.4,84.8 47.2,84 C49.6,82.8 50,79.6 49,76.2 C47.8,72.4 46,69 45.8,64.6 Z" fill="#f7d2b6" stroke="#efbf9d" stroke-width="0.6"/>
<path transform="translate(0.2,135.9)" d="M53.4,71.6 C56.2,70.6 58.8,72.4 59.8,75.6 C60.6,78.6 60,82 58.2,84.6" fill="none" stroke="#fae0cb" stroke-width="1.2" stroke-linecap="round"/>
<circle cx="49.5" cy="220.5" r="3.1" fill="#e58a98"/>
<circle cx="49.5" cy="220.5" r="2.2" fill="#ad1f3c"/>
<line x1="30.5" y1="198.8" x2="30.5" y2="231.2" stroke="#b9b9c2" stroke-width="0.6"/>
<text x="72.80" y="195.80" font-size="6.5" text-anchor="middle" fill="#e0474c" stroke="#e0474c">Follow up 2</text>
<text x="72.80" y="203.20" font-size="6.5" text-anchor="middle" fill="#e0474c" stroke="#e0474c">biopsy</text>
<path d="M73.4,206.4 H91.8 M86.4,203.1 L92.1,206.4 L86.4,209.7" fill="none" stroke="#231f20" stroke-width="0.75"/>
<line x1="92.5" y1="189.3" x2="92.5" y2="219.6" stroke="#231f20" stroke-width="0.7"/>
<text x="50.40" y="238.60" font-size="6.4" text-anchor="middle" stroke="#231f20">Site-matched biopsy</text>
</g>
<g id="panelB">
<text x="0.40" y="263.80" font-size="11.0" stroke="#231f20" font-weight="bold">B</text>
<rect x="63.90" y="265.74" width="7.4" height="10.76" fill="#1bb4ac"/>
<text x="69.85" y="278.70" font-size="6.4" text-anchor="end" stroke="#231f20" transform="rotate(-90 69.85 278.70)">E11</text>
<rect x="72.05" y="272.20" width="7.4" height="4.30" fill="#7fb2e6"/>
<text x="78.00" y="278.70" font-size="6.4" text-anchor="end" stroke="#231f20" transform="rotate(-90 78.00 278.70)">E24</text>
<text x="86.14" y="278.70" font-size="6.4" text-anchor="end" stroke="#231f20" transform="rotate(-90 86.14 278.70)">E02</text>
<text x="94.29" y="278.70" font-size="6.4" text-anchor="end" stroke="#231f20" transform="rotate(-90 94.29 278.70)">E01</text>
<rect x="96.48" y="276.50" width="7.4" height="8.90" fill="#7fb2e6"/>
<text x="102.43" y="274.50" font-size="6.4" stroke="#231f20" transform="rotate(-90 102.43 274.50)">E41</text>
<rect x="104.63" y="276.50" width="7.4" height="8.90" fill="#7fb2e6"/>
<text x="110.58" y="274.50" font-size="6.4" stroke="#231f20" transform="rotate(-90 110.58 274.50)">E44</text>
<rect x="112.78" y="276.50" width="7.4" height="9.65" fill="#7fb2e6"/>
<text x="118.73" y="274.50" font-size="6.4" stroke="#231f20" transform="rotate(-90 118.73 274.50)">E14</text>
<rect x="120.92" y="276.50" width="7.4" height="16.18" fill="#7fb2e6"/>
<text x="126.87" y="274.50" font-size="6.4" stroke="#231f20" transform="rotate(-90 126.87 274.50)">E33</text>
<rect x="129.07" y="276.50" width="7.4" height="16.47" fill="#7fb2e6"/>
<text x="135.02" y="274.50" font-size="6.4" stroke="#231f20" transform="rotate(-90 135.02 274.50)">E27</text>
<rect x="137.21" y="276.50" width="7.4" height="18.55" fill="#7fb2e6"/>
<text x="143.16" y="274.50" font-size="6.4" stroke="#231f20" transform="rotate(-90 143.16 274.50)">E45</text>
<path d="M138.31,260.2 L143.51,260.2 L140.91,255.4 Z" fill="#1d7482"/>
<rect x="145.36" y="276.50" width="7.4" height="19.14" fill="#7fb2e6"/>
<text x="151.31" y="274.50" font-size="6.4" stroke="#231f20" transform="rotate(-90 151.31 274.50)">E42</text>
<rect x="153.51" y="276.50" width="7.4" height="22.26" fill="#3b7cc0"/>
<text x="159.46" y="274.50" font-size="6.4" stroke="#231f20" transform="rotate(-90 159.46 274.50)">E03</text>
<rect x="161.65" y="276.50" width="7.4" height="22.41" fill="#7fb2e6"/>
<text x="167.60" y="274.50" font-size="6.4" stroke="#231f20" transform="rotate(-90 167.60 274.50)">E16</text>
<rect x="169.80" y="276.50" width="7.4" height="23.15" fill="#3b7cc0"/>
<text x="175.75" y="274.50" font-size="6.4" stroke="#231f20" transform="rotate(-90 175.75 274.50)">E08</text>
<rect x="177.94" y="276.50" width="7.4" height="24.26" fill="#3b7cc0"/>
<text x="183.89" y="274.50" font-size="6.4" stroke="#231f20" transform="rotate(-90 183.89 274.50)">E23</text>
<rect x="186.09" y="276.50" width="7.4" height="24.49" fill="#3b7cc0"/>
<text x="192.04" y="274.50" font-size="6.4" stroke="#231f20" transform="rotate(-90 192.04 274.50)">E20</text>
<rect x="194.24" y="276.50" width="7.4" height="25.08" fill="#3b7cc0"/>
<text x="200.19" y="274.50" font-size="6.4" stroke="#231f20" transform="rotate(-90 200.19 274.50)">E12</text>
<rect x="202.38" y="276.50" width="7.4" height="26.42" fill="#7fb2e6"/>
<text x="208.33" y="274.50" font-size="6.4" stroke="#231f20" transform="rotate(-90 208.33 274.50)">E30</text>
<rect x="210.53" y="276.50" width="7.4" height="27.23" fill="#3b7cc0"/>
<text x="216.48" y="274.50" font-size="6.4" stroke="#231f20" transform="rotate(-90 216.48 274.50)">E28</text>
<rect x="218.67" y="276.50" width="7.4" height="27.60" fill="#3b7cc0"/>
<text x="224.62" y="274.50" font-size="6.4" stroke="#231f20" transform="rotate(-90 224.62 274.50)">E40</text>
<rect x="226.82" y="276.50" width="7.4" height="28.86" fill="#3b7cc0"/>
<text x="232.77" y="274.50" font-size="6.4" stroke="#231f20" transform="rotate(-90 232.77 274.50)">E38</text>
<rect x="234.97" y="276.50" width="7.4" height="31.83" fill="#3b7cc0"/>
<text x="240.92" y="274.50" font-size="6.4" stroke="#231f20" transform="rotate(-90 240.92 274.50)">E26</text>
<rect x="243.11" y="276.50" width="7.4" height="32.35" fill="#3b7cc0"/>
<text x="249.06" y="274.50" font-size="6.4" stroke="#231f20" transform="rotate(-90 249.06 274.50)">E25</text>
<rect x="251.26" y="276.50" width="7.4" height="32.65" fill="#3b7cc0"/>
<text x="257.21" y="274.50" font-size="6.4" stroke="#231f20" transform="rotate(-90 257.21 274.50)">E47</text>
<rect x="259.40" y="276.50" width="7.4" height="37.99" fill="#3b7cc0"/>
<text x="265.35" y="274.50" font-size="6.4" stroke="#231f20" transform="rotate(-90 265.35 274.50)">E46</text>
<rect x="267.55" y="276.50" width="7.4" height="38.51" fill="#3b7cc0"/>
<text x="273.50" y="274.50" font-size="6.4" stroke="#231f20" transform="rotate(-90 273.50 274.50)">E07</text>
<rect x="275.70" y="276.50" width="7.4" height="40.74" fill="#3b7cc0"/>
<text x="281.65" y="274.50" font-size="6.4" stroke="#231f20" transform="rotate(-90 281.65 274.50)">E31</text>
<rect x="283.84" y="276.50" width="7.4" height="41.77" fill="#3b7cc0"/>
<text x="289.79" y="274.50" font-size="6.4" stroke="#231f20" transform="rotate(-90 289.79 274.50)">E04</text>
<rect x="291.99" y="276.50" width="7.4" height="42.07" fill="#7fb2e6"/>
<text x="297.94" y="274.50" font-size="6.4" stroke="#231f20" transform="rotate(-90 297.94 274.50)">E34</text>
<rect x="300.13" y="276.50" width="7.4" height="42.59" fill="#3b7cc0"/>
<text x="306.08" y="274.50" font-size="6.4" stroke="#231f20" transform="rotate(-90 306.08 274.50)">E21</text>
<rect x="308.28" y="276.50" width="7.4" height="44.45" fill="#3b7cc0"/>
<text x="314.23" y="274.50" font-size="6.4" stroke="#231f20" transform="rotate(-90 314.23 274.50)">E05</text>
<rect x="316.43" y="276.50" width="7.4" height="44.74" fill="#3b7cc0"/>
<text x="322.38" y="274.50" font-size="6.4" stroke="#231f20" transform="rotate(-90 322.38 274.50)">E35</text>
<rect x="324.57" y="276.50" width="7.4" height="45.04" fill="#1bb4ac"/>
<text x="330.52" y="274.50" font-size="6.4" stroke="#231f20" transform="rotate(-90 330.52 274.50)">E43</text>
<path d="M325.67,260.2 L330.87,260.2 L328.27,255.4 Z" fill="#1d7482"/>
<rect x="332.72" y="276.50" width="7.4" height="45.04" fill="#3b7cc0"/>
<text x="338.67" y="274.50" font-size="6.4" stroke="#231f20" transform="rotate(-90 338.67 274.50)">E29</text>
<rect x="340.86" y="276.50" width="7.4" height="47.71" fill="#3b7cc0"/>
<text x="346.81" y="274.50" font-size="6.4" stroke="#231f20" transform="rotate(-90 346.81 274.50)">E37</text>
<path d="M341.96,260.2 L347.16,260.2 L344.56,255.4 Z" fill="#1d7482"/>
<rect x="349.01" y="276.50" width="7.4" height="48.01" fill="#3b7cc0"/>
<text x="354.96" y="274.50" font-size="6.4" stroke="#231f20" transform="rotate(-90 354.96 274.50)">E39</text>
<rect x="357.16" y="276.50" width="7.4" height="48.53" fill="#3b7cc0"/>
<text x="363.11" y="274.50" font-size="6.4" stroke="#231f20" transform="rotate(-90 363.11 274.50)">E15</text>
<rect x="365.30" y="276.50" width="7.4" height="49.34" fill="#3b7cc0"/>
<text x="371.25" y="274.50" font-size="6.4" stroke="#231f20" transform="rotate(-90 371.25 274.50)">E32</text>
<rect x="373.45" y="276.50" width="7.4" height="49.86" fill="#3b7cc0"/>
<text x="379.40" y="274.50" font-size="6.4" stroke="#231f20" transform="rotate(-90 379.40 274.50)">E36</text>
<path d="M374.55,260.2 L379.75,260.2 L377.15,255.4 Z" fill="#1d7482"/>
<rect x="381.59" y="276.50" width="7.4" height="50.16" fill="#3b7cc0"/>
<text x="387.54" y="274.50" font-size="6.4" stroke="#231f20" transform="rotate(-90 387.54 274.50)">E17</text>
<rect x="389.74" y="276.50" width="7.4" height="52.31" fill="#3b7cc0"/>
<text x="395.69" y="274.50" font-size="6.4" stroke="#231f20" transform="rotate(-90 395.69 274.50)">E19</text>
<rect x="397.89" y="276.50" width="7.4" height="56.10" fill="#3b7cc0"/>
<text x="403.84" y="274.50" font-size="6.4" stroke="#231f20" transform="rotate(-90 403.84 274.50)">E22</text>
<rect x="406.03" y="276.50" width="7.4" height="74.20" fill="#3b7cc0"/>
<text x="411.98" y="274.50" font-size="6.4" stroke="#231f20" transform="rotate(-90 411.98 274.50)">E09</text>
<rect x="414.18" y="276.50" width="7.4" height="74.20" fill="#3b7cc0"/>
<text x="420.13" y="274.50" font-size="6.4" stroke="#231f20" transform="rotate(-90 420.13 274.50)">E06</text>
<rect x="422.32" y="276.50" width="7.4" height="74.20" fill="#3b7cc0"/>
<text x="428.27" y="274.50" font-size="6.4" stroke="#231f20" transform="rotate(-90 428.27 274.50)">E10</text>
<rect x="430.47" y="276.50" width="7.4" height="74.20" fill="#3b7cc0"/>
<text x="436.42" y="274.50" font-size="6.4" stroke="#231f20" transform="rotate(-90 436.42 274.50)">E18</text>
<rect x="438.62" y="276.50" width="7.4" height="74.20" fill="#174a44"/>
<text x="444.57" y="274.50" font-size="6.4" stroke="#231f20" transform="rotate(-90 444.57 274.50)">E13</text>
<line x1="44.4" y1="298.76" x2="464.6" y2="298.76" stroke="#8a8a8a" stroke-opacity="0.8" stroke-width="0.8" stroke-dasharray="3.2 2.6"/>
<line x1="44.4" y1="261" x2="44.4" y2="354.4" stroke="#231f20" stroke-width="0.8"/>
<line x1="44.0" y1="276.5" x2="464.8" y2="276.5" stroke="#231f20" stroke-width="1.1"/>
<line x1="42.2" y1="276.50" x2="44.4" y2="276.50" stroke="#231f20" stroke-width="0.8"/>
<text x="40.60" y="279.00" font-size="7.0" text-anchor="end" stroke="#231f20">0</text>
<line x1="42.2" y1="295.05" x2="44.4" y2="295.05" stroke="#231f20" stroke-width="0.8"/>
<text x="40.60" y="297.55" font-size="7.0" text-anchor="end" stroke="#231f20">−25</text>
<line x1="42.2" y1="313.60" x2="44.4" y2="313.60" stroke="#231f20" stroke-width="0.8"/>
<text x="40.60" y="316.10" font-size="7.0" text-anchor="end" stroke="#231f20">−50</text>
<line x1="42.2" y1="332.15" x2="44.4" y2="332.15" stroke="#231f20" stroke-width="0.8"/>
<text x="40.60" y="334.65" font-size="7.0" text-anchor="end" stroke="#231f20">−75</text>
<line x1="42.2" y1="350.70" x2="44.4" y2="350.70" stroke="#231f20" stroke-width="0.8"/>
<text x="40.60" y="353.20" font-size="7.0" text-anchor="end" stroke="#231f20">−100</text>
<text x="16.40" y="312.60" font-size="7.6" text-anchor="middle" stroke="#231f20" transform="rotate(-90 16.40 312.60)">Change from baseline, %</text>
<text x="228.60" y="358.00" font-size="7.2" text-anchor="middle" stroke="#231f20">Enrolled patients</text>
<circle cx="93.4" cy="337.6" r="34.6" fill="#ffffff"/>
<path d="M93.40,303.80 A33.8,33.8 0 0 1 97.91,304.10 L95.29,323.53 A14.2,14.2 0 0 0 93.40,323.40 Z" fill="#174a44" stroke="#ffffff" stroke-width="0.5" stroke-linejoin="round"/>
<path d="M97.91,304.10 A33.8,33.8 0 1 1 62.74,351.83 L80.52,343.58 A14.2,14.2 0 1 0 95.29,323.53 Z" fill="#3b7cc0" stroke="#ffffff" stroke-width="0.5" stroke-linejoin="round"/>
<path d="M62.74,351.83 A33.8,33.8 0 0 1 80.20,306.48 L87.86,324.53 A14.2,14.2 0 0 0 80.52,343.58 Z" fill="#7fb2e6" stroke="#ffffff" stroke-width="0.5" stroke-linejoin="round"/>
<path d="M80.20,306.48 A33.8,33.8 0 0 1 93.40,303.80 L93.40,323.40 A14.2,14.2 0 0 0 87.86,324.53 Z" fill="#1bb4ac" stroke="#ffffff" stroke-width="0.5" stroke-linejoin="round"/>
<text x="93.40" y="342.20" font-size="7.2" text-anchor="middle" stroke="#231f20"><tspan font-style="italic">N</tspan> = 47</text>
<text x="107.60" y="362.00" font-size="7.2" text-anchor="middle" fill="#ffffff">66%</text>
<text x="72.20" y="333.00" font-size="7.2" text-anchor="middle" fill="#ffffff" transform="rotate(-57 72.20 333.00)">25.5%</text>
<text x="58.60" y="305.40" font-size="7.2" stroke="#231f20">6.4%</text>
<text x="105.80" y="305.40" font-size="7.2" stroke="#231f20">2.1%</text>
<path d="M76.6,303.4 L80.4,303.8 L83.6,306.4" fill="none" stroke="#231f20" stroke-width="0.6"/>
<path d="M94.6,305.6 L95.6,302.2 L104.8,302.2" fill="none" stroke="#231f20" stroke-width="0.6"/>
<rect x="467.6" y="291.6" width="50.6" height="71.8" fill="#ffffff" stroke="#4a4a4a" stroke-width="0.7"/>
<text x="470.00" y="302.60" font-size="7.2" stroke="#231f20">BoR</text>
<line x1="470.8" y1="308.60" x2="482.8" y2="308.60" stroke="#16302e" stroke-width="1.6"/>
<text x="490.00" y="311.20" font-size="7.2" stroke="#231f20">CR</text>
<line x1="470.8" y1="317.37" x2="482.8" y2="317.37" stroke="#2f64a8" stroke-width="1.6"/>
<text x="490.00" y="319.97" font-size="7.2" stroke="#231f20">PR</text>
<line x1="470.8" y1="326.14" x2="482.8" y2="326.14" stroke="#7fb2e6" stroke-width="1.6"/>
<text x="490.00" y="328.74" font-size="7.2" stroke="#231f20">SD</text>
<line x1="470.8" y1="334.91" x2="482.8" y2="334.91" stroke="#1bb4ac" stroke-width="1.6"/>
<text x="490.00" y="337.51" font-size="7.2" stroke="#231f20">PD</text>
<text x="471.40" y="349.80" font-size="7.2" stroke="#231f20">HER2</text>
<path d="M473.8,360.6 L479.6,360.6 L476.7,355.0 Z" fill="#1d7482"/>
<text x="489.20" y="359.20" font-size="7.2" stroke="#231f20">Positive</text>
</g>
<g id="panelC">
<text x="0.60" y="398.40" font-size="11.0" stroke="#231f20" font-weight="bold">C</text>
<text x="50.00" y="396.20" font-size="7.3" stroke="#231f20">Progression-free survival</text>
<rect x="77.20" y="400.6" width="135.80" height="89.20" fill="#ffffff" stroke="#7f7f7f" stroke-width="0.9"/>
<line x1="83.40" y1="401.1" x2="83.40" y2="489.3" stroke="#e6e8ee" stroke-width="0.5"/>
<line x1="107.80" y1="401.1" x2="107.80" y2="489.3" stroke="#e6e8ee" stroke-width="0.3"/>
<line x1="132.20" y1="401.1" x2="132.20" y2="489.3" stroke="#e6e8ee" stroke-width="0.5"/>
<line x1="156.60" y1="401.1" x2="156.60" y2="489.3" stroke="#e6e8ee" stroke-width="0.3"/>
<line x1="181.00" y1="401.1" x2="181.00" y2="489.3" stroke="#e6e8ee" stroke-width="0.5"/>
<line x1="205.40" y1="401.1" x2="205.40" y2="489.3" stroke="#e6e8ee" stroke-width="0.3"/>
<line x1="77.70" y1="486.00" x2="212.50" y2="486.00" stroke="#e6e8ee" stroke-width="0.5"/>
<line x1="77.70" y1="475.88" x2="212.50" y2="475.88" stroke="#e6e8ee" stroke-width="0.3"/>
<line x1="77.70" y1="465.75" x2="212.50" y2="465.75" stroke="#e6e8ee" stroke-width="0.5"/>
<line x1="77.70" y1="455.62" x2="212.50" y2="455.62" stroke="#e6e8ee" stroke-width="0.3"/>
<line x1="77.70" y1="445.50" x2="212.50" y2="445.50" stroke="#e6e8ee" stroke-width="0.5"/>
<line x1="77.70" y1="435.38" x2="212.50" y2="435.38" stroke="#e6e8ee" stroke-width="0.3"/>
<line x1="77.70" y1="425.25" x2="212.50" y2="425.25" stroke="#e6e8ee" stroke-width="0.5"/>
<line x1="77.70" y1="415.12" x2="212.50" y2="415.12" stroke="#e6e8ee" stroke-width="0.3"/>
<line x1="77.70" y1="405.00" x2="212.50" y2="405.00" stroke="#e6e8ee" stroke-width="0.5"/>
<line x1="77.20" y1="445.50" x2="213.00" y2="445.50" stroke="#1a1a1a" stroke-width="1.0" stroke-dasharray="1.9 1.0"/>
<line x1="74.60" y1="486.00" x2="77.20" y2="486.00" stroke="#231f20" stroke-width="1.0"/>
<text x="72.60" y="488.60" font-size="7.4" text-anchor="end" stroke="#231f20">0.00</text>
<line x1="74.60" y1="465.75" x2="77.20" y2="465.75" stroke="#231f20" stroke-width="1.0"/>
<text x="72.60" y="468.35" font-size="7.4" text-anchor="end" stroke="#231f20">0.25</text>
<line x1="74.60" y1="445.50" x2="77.20" y2="445.50" stroke="#231f20" stroke-width="1.0"/>
<text x="72.60" y="448.10" font-size="7.4" text-anchor="end" stroke="#231f20">0.50</text>
<line x1="74.60" y1="425.25" x2="77.20" y2="425.25" stroke="#231f20" stroke-width="1.0"/>
<text x="72.60" y="427.85" font-size="7.4" text-anchor="end" stroke="#231f20">0.75</text>
<line x1="74.60" y1="405.00" x2="77.20" y2="405.00" stroke="#231f20" stroke-width="1.0"/>
<text x="72.60" y="407.60" font-size="7.4" text-anchor="end" stroke="#231f20">1.00</text>
<line x1="83.40" y1="489.8" x2="83.40" y2="491.6" stroke="#231f20" stroke-width="0.9"/>
<text x="83.40" y="499.90" font-size="7.4" text-anchor="middle" stroke="#231f20">0</text>
<line x1="132.20" y1="489.8" x2="132.20" y2="491.6" stroke="#231f20" stroke-width="0.9"/>
<text x="132.20" y="499.90" font-size="7.4" text-anchor="middle" stroke="#231f20">500</text>
<line x1="181.00" y1="489.8" x2="181.00" y2="491.6" stroke="#231f20" stroke-width="0.9"/>
<text x="181.00" y="499.90" font-size="7.4" text-anchor="middle" stroke="#231f20">1,000</text>
<text x="50.00" y="445.50" font-size="7.55" text-anchor="middle" stroke="#231f20" transform="rotate(-90 50.00 445.50)">Probability of survival</text>
<path d="M83.4,405 H90.3 V411 H92.5 V413.6 H94.7 V427 H98.2 V431.5 H99.6 V435.6 H102.5 V441 H104.4 V443.8 H106.4 V445.8 H107.8 V449.8 H115.4 V451.8 H119.4 V453.6 H121 V455.4 H136.6 V457.3 H145.8 V459.4 H165.4 V463.2 H213.0" fill="none" stroke="#1c2e70" stroke-width="1.9" stroke-linejoin="miter"/>
<path d="M112.90,451.00 H116.50 M114.70,448.20 V453.80" stroke="#24378a" stroke-width="1.1" fill="none"/>
<path d="M115.80,451.80 H119.40 M117.60,449.00 V454.60" stroke="#24378a" stroke-width="1.1" fill="none"/>
<path d="M125.90,455.40 H129.50 M127.70,452.60 V458.20" stroke="#24378a" stroke-width="1.1" fill="none"/>
<path d="M144.60,459.40 H148.20 M146.40,456.60 V462.20" stroke="#24378a" stroke-width="1.1" fill="none"/>
<path d="M147.50,459.40 H151.10 M149.30,456.60 V462.20" stroke="#24378a" stroke-width="1.1" fill="none"/>
<path d="M150.40,459.40 H154.00 M152.20,456.60 V462.20" stroke="#24378a" stroke-width="1.1" fill="none"/>
<path d="M153.20,459.40 H156.80 M155.00,456.60 V462.20" stroke="#24378a" stroke-width="1.1" fill="none"/>
<path d="M163.40,460.60 H167.00 M165.20,457.80 V463.40" stroke="#24378a" stroke-width="1.1" fill="none"/>
<path d="M177.80,463.20 H181.40 M179.60,460.40 V466.00" stroke="#24378a" stroke-width="1.1" fill="none"/>
<path d="M182.10,463.20 H185.70 M183.90,460.40 V466.00" stroke="#24378a" stroke-width="1.1" fill="none"/>
<path d="M185.90,463.20 H189.50 M187.70,460.40 V466.00" stroke="#24378a" stroke-width="1.1" fill="none"/>
<text x="209.20" y="413.90" font-size="7.5" text-anchor="end" stroke="#231f20">mPFS, 246d</text>
<rect x="77.20" y="504.4" width="135.80" height="7.0" fill="#ffffff" stroke="#7a7a80" stroke-width="0.7"/>
<line x1="83.40" y1="511.4" x2="83.40" y2="513.4" stroke="#2b3f86" stroke-width="0.7"/>
<text x="83.40" y="510.50" font-size="7.4" text-anchor="middle" fill="#2b3f86" stroke="#2b3f86">47</text>
<line x1="107.80" y1="511.4" x2="107.80" y2="513.4" stroke="#2b3f86" stroke-width="0.7"/>
<text x="107.80" y="510.50" font-size="7.4" text-anchor="middle" fill="#2b3f86" stroke="#2b3f86">23</text>
<line x1="132.20" y1="511.4" x2="132.20" y2="513.4" stroke="#2b3f86" stroke-width="0.7"/>
<text x="132.20" y="510.50" font-size="7.4" text-anchor="middle" fill="#2b3f86" stroke="#2b3f86">15</text>
<line x1="156.60" y1="511.4" x2="156.60" y2="513.4" stroke="#2b3f86" stroke-width="0.7"/>
<text x="156.60" y="510.50" font-size="7.4" text-anchor="middle" fill="#2b3f86" stroke="#2b3f86">9</text>
<line x1="181.00" y1="511.4" x2="181.00" y2="513.4" stroke="#2b3f86" stroke-width="0.7"/>
<text x="181.00" y="510.50" font-size="7.4" text-anchor="middle" fill="#2b3f86" stroke="#2b3f86">4</text>
<line x1="205.40" y1="511.4" x2="205.40" y2="513.4" stroke="#2b3f86" stroke-width="0.7"/>
<text x="205.40" y="510.50" font-size="7.4" text-anchor="middle" fill="#2b3f86" stroke="#2b3f86">1</text>
<line x1="75.00" y1="507.9" x2="77.20" y2="507.9" stroke="#2b3f86" stroke-width="0.7"/>
<text x="73.00" y="510.50" font-size="7.5" text-anchor="end" fill="#2b3f86" stroke="#2b3f86">All</text>
<text x="57.40" y="510.50" font-size="7.5" text-anchor="end" stroke="#231f20">Number at risk</text>
<text x="83.40" y="522.30" font-size="7.4" text-anchor="middle" stroke="#231f20">0</text>
<text x="107.80" y="522.30" font-size="7.4" text-anchor="middle" stroke="#231f20">250</text>
<text x="132.20" y="522.30" font-size="7.4" text-anchor="middle" stroke="#231f20">500</text>
<text x="156.60" y="522.30" font-size="7.4" text-anchor="middle" stroke="#231f20">750</text>
<text x="181.00" y="522.30" font-size="7.4" text-anchor="middle" stroke="#231f20">1,000</text>
<text x="205.40" y="522.30" font-size="7.4" text-anchor="middle" stroke="#231f20">1,250</text>
<text x="143.80" y="533.40" font-size="7.4" text-anchor="middle" stroke="#231f20">Time, days</text>
</g>
<g id="panelD">
<text x="236.40" y="398.40" font-size="11.0" stroke="#231f20" font-weight="bold">D</text>
<text x="311.00" y="396.20" font-size="7.3" stroke="#231f20">Overall survival</text>
<rect x="314.10" y="400.6" width="135.80" height="89.20" fill="#ffffff" stroke="#7f7f7f" stroke-width="0.9"/>
<line x1="320.30" y1="401.1" x2="320.30" y2="489.3" stroke="#e6e8ee" stroke-width="0.5"/>
<line x1="344.70" y1="401.1" x2="344.70" y2="489.3" stroke="#e6e8ee" stroke-width="0.3"/>
<line x1="369.10" y1="401.1" x2="369.10" y2="489.3" stroke="#e6e8ee" stroke-width="0.5"/>
<line x1="393.50" y1="401.1" x2="393.50" y2="489.3" stroke="#e6e8ee" stroke-width="0.3"/>
<line x1="417.90" y1="401.1" x2="417.90" y2="489.3" stroke="#e6e8ee" stroke-width="0.5"/>
<line x1="442.30" y1="401.1" x2="442.30" y2="489.3" stroke="#e6e8ee" stroke-width="0.3"/>
<line x1="314.60" y1="486.00" x2="449.40" y2="486.00" stroke="#e6e8ee" stroke-width="0.5"/>
<line x1="314.60" y1="475.88" x2="449.40" y2="475.88" stroke="#e6e8ee" stroke-width="0.3"/>
<line x1="314.60" y1="465.75" x2="449.40" y2="465.75" stroke="#e6e8ee" stroke-width="0.5"/>
<line x1="314.60" y1="455.62" x2="449.40" y2="455.62" stroke="#e6e8ee" stroke-width="0.3"/>
<line x1="314.60" y1="445.50" x2="449.40" y2="445.50" stroke="#e6e8ee" stroke-width="0.5"/>
<line x1="314.60" y1="435.38" x2="449.40" y2="435.38" stroke="#e6e8ee" stroke-width="0.3"/>
<line x1="314.60" y1="425.25" x2="449.40" y2="425.25" stroke="#e6e8ee" stroke-width="0.5"/>
<line x1="314.60" y1="415.12" x2="449.40" y2="415.12" stroke="#e6e8ee" stroke-width="0.3"/>
<line x1="314.60" y1="405.00" x2="449.40" y2="405.00" stroke="#e6e8ee" stroke-width="0.5"/>
<line x1="314.10" y1="445.50" x2="449.90" y2="445.50" stroke="#1a1a1a" stroke-width="1.0" stroke-dasharray="1.9 1.0"/>
<line x1="311.50" y1="486.00" x2="314.10" y2="486.00" stroke="#231f20" stroke-width="1.0"/>
<text x="309.50" y="488.60" font-size="7.4" text-anchor="end" stroke="#231f20">0.00</text>
<line x1="311.50" y1="465.75" x2="314.10" y2="465.75" stroke="#231f20" stroke-width="1.0"/>
<text x="309.50" y="468.35" font-size="7.4" text-anchor="end" stroke="#231f20">0.25</text>
<line x1="311.50" y1="445.50" x2="314.10" y2="445.50" stroke="#231f20" stroke-width="1.0"/>
<text x="309.50" y="448.10" font-size="7.4" text-anchor="end" stroke="#231f20">0.50</text>
<line x1="311.50" y1="425.25" x2="314.10" y2="425.25" stroke="#231f20" stroke-width="1.0"/>
<text x="309.50" y="427.85" font-size="7.4" text-anchor="end" stroke="#231f20">0.75</text>
<line x1="311.50" y1="405.00" x2="314.10" y2="405.00" stroke="#231f20" stroke-width="1.0"/>
<text x="309.50" y="407.60" font-size="7.4" text-anchor="end" stroke="#231f20">1.00</text>
<line x1="320.30" y1="489.8" x2="320.30" y2="491.6" stroke="#231f20" stroke-width="0.9"/>
<text x="320.30" y="499.90" font-size="7.4" text-anchor="middle" stroke="#231f20">0</text>
<line x1="369.10" y1="489.8" x2="369.10" y2="491.6" stroke="#231f20" stroke-width="0.9"/>
<text x="369.10" y="499.90" font-size="7.4" text-anchor="middle" stroke="#231f20">500</text>
<line x1="417.90" y1="489.8" x2="417.90" y2="491.6" stroke="#231f20" stroke-width="0.9"/>
<text x="417.90" y="499.90" font-size="7.4" text-anchor="middle" stroke="#231f20">1,000</text>
<text x="285.20" y="445.50" font-size="7.55" text-anchor="middle" stroke="#231f20" transform="rotate(-90 285.20 445.50)">Probability of survival</text>
<path d="M320.3,404.8 H330.4 V411 H334 V411.6 H334.8 V413.3 H340 V414 H342.6 V415.4 H346 V417 H346.9 V419.6 H349.5 V422.2 H350.3 V425.7 H352.1 V429.2 H353.8 V431.7 H355.5 V433.6 H357.3 V435.3 H365.9 V435.8 H367.6 V437.8 H370.4 V440.4 H372.9 V443.3 H375.4 V445.6 H378.4 V449.1 H380.4 V453 H383.1 V454.8 H385.6 V456.6 H395.3 V457 H396.7 V458.4 H402.0 V461.4 H449.8" fill="none" stroke="#1c2e70" stroke-width="1.9" stroke-linejoin="miter"/>
<path d="M390.40,456.60 H394.00 M392.20,453.80 V459.40" stroke="#24378a" stroke-width="1.1" fill="none"/>
<path d="M399.90,458.40 H403.50 M401.70,455.60 V461.20" stroke="#24378a" stroke-width="1.1" fill="none"/>
<path d="M401.10,461.40 H404.70 M402.90,458.60 V464.20" stroke="#24378a" stroke-width="1.1" fill="none"/>
<path d="M407.70,461.40 H411.30 M409.50,458.60 V464.20" stroke="#24378a" stroke-width="1.1" fill="none"/>
<path d="M414.90,461.40 H418.50 M416.70,458.60 V464.20" stroke="#24378a" stroke-width="1.1" fill="none"/>
<path d="M417.20,461.40 H420.80 M419.00,458.60 V464.20" stroke="#24378a" stroke-width="1.1" fill="none"/>
<path d="M423.00,461.40 H426.60 M424.80,458.60 V464.20" stroke="#24378a" stroke-width="1.1" fill="none"/>
<text x="445.40" y="413.90" font-size="7.5" text-anchor="end" stroke="#231f20">mOS, 557d</text>
<rect x="314.10" y="504.4" width="135.80" height="7.0" fill="#ffffff" stroke="#7a7a80" stroke-width="0.7"/>
<line x1="320.30" y1="511.4" x2="320.30" y2="513.4" stroke="#2b3f86" stroke-width="0.7"/>
<text x="320.30" y="510.50" font-size="7.4" text-anchor="middle" fill="#2b3f86" stroke="#2b3f86">47</text>
<line x1="344.70" y1="511.4" x2="344.70" y2="513.4" stroke="#2b3f86" stroke-width="0.7"/>
<text x="344.70" y="510.50" font-size="7.4" text-anchor="middle" fill="#2b3f86" stroke="#2b3f86">40</text>
<line x1="369.10" y1="511.4" x2="369.10" y2="513.4" stroke="#2b3f86" stroke-width="0.7"/>
<text x="369.10" y="510.50" font-size="7.4" text-anchor="middle" fill="#2b3f86" stroke="#2b3f86">28</text>
<line x1="393.50" y1="511.4" x2="393.50" y2="513.4" stroke="#2b3f86" stroke-width="0.7"/>
<text x="393.50" y="510.50" font-size="7.4" text-anchor="middle" fill="#2b3f86" stroke="#2b3f86">15</text>
<line x1="417.90" y1="511.4" x2="417.90" y2="513.4" stroke="#2b3f86" stroke-width="0.7"/>
<text x="417.90" y="510.50" font-size="7.4" text-anchor="middle" fill="#2b3f86" stroke="#2b3f86">4</text>
<line x1="442.30" y1="511.4" x2="442.30" y2="513.4" stroke="#2b3f86" stroke-width="0.7"/>
<text x="442.30" y="510.50" font-size="7.4" text-anchor="middle" fill="#2b3f86" stroke="#2b3f86">1</text>
<line x1="311.90" y1="507.9" x2="314.10" y2="507.9" stroke="#2b3f86" stroke-width="0.7"/>
<text x="309.90" y="510.50" font-size="7.5" text-anchor="end" fill="#2b3f86" stroke="#2b3f86">All</text>
<text x="294.30" y="510.50" font-size="7.5" text-anchor="end" stroke="#231f20">Number at risk</text>
<text x="320.30" y="522.30" font-size="7.4" text-anchor="middle" stroke="#231f20">0</text>
<text x="344.70" y="522.30" font-size="7.4" text-anchor="middle" stroke="#231f20">250</text>
<text x="369.10" y="522.30" font-size="7.4" text-anchor="middle" stroke="#231f20">500</text>
<text x="393.50" y="522.30" font-size="7.4" text-anchor="middle" stroke="#231f20">750</text>
<text x="417.90" y="522.30" font-size="7.4" text-anchor="middle" stroke="#231f20">1,000</text>
<text x="442.30" y="522.30" font-size="7.4" text-anchor="middle" stroke="#231f20">1,250</text>
<text x="380.70" y="533.40" font-size="7.4" text-anchor="middle" stroke="#231f20">Time, days</text>
</g>
<g id="panelE">
<text x="0.40" y="544.80" font-size="11.0" stroke="#231f20" font-weight="bold">E</text>
<path d="M95.30,550.80 A72.3,72.3 0 1 1 71.67,691.43 L87.45,645.78 A24.0,24.0 0 1 0 95.30,599.10 Z" fill="#6a75c4" stroke="#ffffff" stroke-width="2.6" stroke-linejoin="miter"/>
<path d="M71.67,691.43 A72.3,72.3 0 0 1 50.27,566.53 L80.35,604.32 A24.0,24.0 0 0 0 87.45,645.78 Z" fill="#7dd1bd" stroke="#ffffff" stroke-width="2.6" stroke-linejoin="miter"/>
<path d="M50.27,566.53 A72.3,72.3 0 0 1 76.00,553.42 L88.89,599.97 A24.0,24.0 0 0 0 80.35,604.32 Z" fill="#3852ae" stroke="#ffffff" stroke-width="2.6" stroke-linejoin="miter"/>
<path d="M76.00,553.42 A72.3,72.3 0 0 1 95.30,550.80 L95.30,599.10 A24.0,24.0 0 0 0 88.89,599.97 Z" fill="#c65aad" stroke="#ffffff" stroke-width="2.6" stroke-linejoin="miter"/>
<circle cx="95.2" cy="624.6" r="26.4" fill="#ffffff"/>
<text x="94.40" y="629.40" font-size="7.4" text-anchor="middle" stroke="#231f20">TCGA</text>
<text x="140.90" y="623.90" font-size="7.4" text-anchor="middle" fill="#ffffff">CIN</text>
<text x="140.90" y="635.90" font-size="7.4" text-anchor="middle" fill="#ffffff">55.3%</text>
<text x="51.50" y="622.40" font-size="7.4" text-anchor="middle" fill="#12433a" stroke="#12433a">GS</text>
<text x="51.50" y="633.60" font-size="7.4" text-anchor="middle" fill="#12433a" stroke="#12433a">34.0%</text>
<text x="68.20" y="567.00" font-size="7.4" text-anchor="middle" fill="#ffffff">MSI</text>
<text x="68.20" y="575.60" font-size="7.4" text-anchor="middle" fill="#ffffff">6.4%</text>
<text x="39.10" y="552.60" font-size="7.4" stroke="#231f20">EBV 4.3%</text>
<line x1="78.4" y1="548.4" x2="85.4" y2="554.6" stroke="#231f20" stroke-width="0.6"/>
<rect x="180.2" y="554.8" width="77.4" height="22.2" fill="#c65aad"/>
<rect x="180.2" y="576.8" width="38.2" height="23.0" fill="#3b80c4"/>
<rect x="218.39999999999998" y="576.8" width="39.2" height="23.0" fill="#18b9b1"/>
<text x="218.90" y="568.70" font-size="7.85" text-anchor="middle" fill="#5b1a4c" stroke="#5b1a4c">EBV (<tspan font-style="italic">n</tspan> = 2)</text>
<text x="199.30" y="591.30" font-size="7.85" text-anchor="middle" fill="#ffffff">100%</text>
<text x="238.00" y="591.30" font-size="7.85" text-anchor="middle" fill="#0b5450" stroke="#0b5450">0%</text>
<rect x="262.2" y="554.8" width="77.4" height="22.2" fill="#3852ae"/>
<rect x="262.2" y="576.8" width="38.2" height="23.0" fill="#3b80c4"/>
<rect x="300.4" y="576.8" width="39.2" height="23.0" fill="#18b9b1"/>
<text x="300.90" y="568.70" font-size="7.85" text-anchor="middle" fill="#ffffff">MSI (<tspan font-style="italic">n</tspan> = 3)</text>
<text x="281.30" y="591.30" font-size="7.85" text-anchor="middle" fill="#ffffff">66.67%</text>
<text x="320.00" y="591.30" font-size="7.85" text-anchor="middle" fill="#0b5450" stroke="#0b5450">33.33%</text>
<rect x="180.2" y="604.4" width="77.4" height="22.2" fill="#7dd1bd"/>
<rect x="180.2" y="626.4" width="38.2" height="23.0" fill="#3b80c4"/>
<rect x="218.39999999999998" y="626.4" width="39.2" height="23.0" fill="#18b9b1"/>
<text x="218.90" y="618.30" font-size="7.85" text-anchor="middle" fill="#12332d" stroke="#12332d">GS (<tspan font-style="italic">n</tspan> = 16)</text>
<text x="199.30" y="640.90" font-size="7.85" text-anchor="middle" fill="#ffffff">56.25%</text>
<text x="238.00" y="640.90" font-size="7.85" text-anchor="middle" fill="#0b5450" stroke="#0b5450">43.75%</text>
<rect x="262.2" y="604.4" width="77.4" height="22.2" fill="#6a75c4"/>
<rect x="262.2" y="626.4" width="38.2" height="23.0" fill="#3b80c4"/>
<rect x="300.4" y="626.4" width="39.2" height="23.0" fill="#18b9b1"/>
<text x="300.90" y="618.30" font-size="7.85" text-anchor="middle" fill="#ffffff">CIN (<tspan font-style="italic">n</tspan> = 26)</text>
<text x="281.30" y="640.90" font-size="7.85" text-anchor="middle" fill="#ffffff">73.08%</text>
<text x="320.00" y="640.90" font-size="7.85" text-anchor="middle" fill="#0b5450" stroke="#0b5450">26.92%</text>
<text x="199.30" y="657.20" font-size="7.5" text-anchor="middle" fill="#3b7cc0" stroke="#3b7cc0">Responder</text>
<text x="237.20" y="657.20" font-size="7.5" text-anchor="middle" fill="#18b3ab" stroke="#18b3ab">Non-</text>
<text x="237.20" y="665.80" font-size="7.5" text-anchor="middle" fill="#18b3ab" stroke="#18b3ab">responder</text>
<text x="281.30" y="657.20" font-size="7.5" text-anchor="middle" fill="#3b7cc0" stroke="#3b7cc0">Responder</text>
<text x="319.20" y="657.20" font-size="7.5" text-anchor="middle" fill="#18b3ab" stroke="#18b3ab">Non-</text>
<text x="319.20" y="665.80" font-size="7.5" text-anchor="middle" fill="#18b3ab" stroke="#18b3ab">responder</text>
</g>
</svg>
</body>
</html>
